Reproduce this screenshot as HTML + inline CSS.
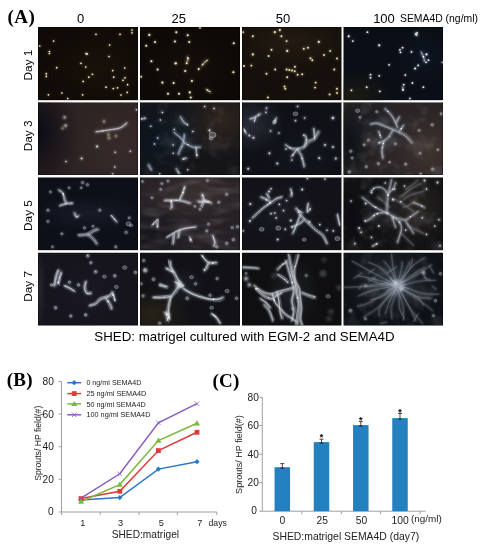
<!DOCTYPE html>
<html><head><meta charset="utf-8"><title>SEMA4D figure</title>
<style>html,body{margin:0;padding:0;background:#fff;} body{width:482px;height:550px;position:relative;overflow:hidden;}</style>
</head><body>
<svg width="482" height="550" viewBox="0 0 482 550" style="position:absolute;left:0;top:0">
<defs><filter id="bl1" x="-50%" y="-50%" width="200%" height="200%"><feGaussianBlur stdDeviation="0.9"/></filter><filter id="bl0" x="-50%" y="-50%" width="200%" height="200%"><feGaussianBlur stdDeviation="0.4"/></filter><filter id="tex1" x="0" y="0" width="100%" height="100%"><feTurbulence type="fractalNoise" baseFrequency="0.035 0.11" numOctaves="2" seed="4"/><feColorMatrix type="matrix" values="0 0 0 0 0.75  0 0 0 0 0.72  0 0 0 0 0.72  0 0 0 1.6 -0.75"/></filter><filter id="tex2" x="0" y="0" width="100%" height="100%"><feTurbulence type="fractalNoise" baseFrequency="0.06 0.06" numOctaves="3" seed="11"/><feColorMatrix type="matrix" values="0 0 0 0 0.72  0 0 0 0 0.74  0 0 0 0 0.78  0 0 0 1.7 -0.8"/></filter><filter id="bl2" x="-50%" y="-50%" width="200%" height="200%"><feGaussianBlur stdDeviation="2.5"/></filter></defs>
<g transform="translate(38,27)">
<clipPath id="cp00"><rect x="0" y="0" width="100" height="73.2"/></clipPath>
<g clip-path="url(#cp00)">
<rect x="0" y="0" width="100" height="73.2" fill="#100b07"/>
<radialGradient id="gp000"><stop offset="0" stop-color="#20170d" stop-opacity="0.5"/><stop offset="1" stop-color="#20170d" stop-opacity="0"/></radialGradient>
<ellipse cx="60" cy="40" rx="50" ry="40" fill="url(#gp000)"/>
<circle cx="58" cy="7.3" r="1.23" fill="#faeab4" fill-opacity="0.32" filter="url(#bl1)"/>
<circle cx="58" cy="7.3" r="0.85" fill="#faeab4" fill-opacity="1.00"/>
<circle cx="82" cy="7.3" r="1.23" fill="#faeab4" fill-opacity="0.32" filter="url(#bl1)"/>
<circle cx="82" cy="7.3" r="0.85" fill="#faeab4" fill-opacity="1.00"/>
<circle cx="94" cy="3" r="1.23" fill="#faeab4" fill-opacity="0.32" filter="url(#bl1)"/>
<circle cx="94" cy="3" r="0.85" fill="#faeab4" fill-opacity="1.00"/>
<circle cx="94" cy="5.8" r="1.23" fill="#faeab4" fill-opacity="0.32" filter="url(#bl1)"/>
<circle cx="94" cy="5.8" r="0.85" fill="#faeab4" fill-opacity="1.00"/>
<circle cx="15.6" cy="14" r="1.23" fill="#faeab4" fill-opacity="0.32" filter="url(#bl1)"/>
<circle cx="15.6" cy="14" r="0.85" fill="#faeab4" fill-opacity="1.00"/>
<circle cx="1.7" cy="19" r="1.23" fill="#faeab4" fill-opacity="0.32" filter="url(#bl1)"/>
<circle cx="1.7" cy="19" r="0.85" fill="#faeab4" fill-opacity="1.00"/>
<circle cx="71.6" cy="18" r="1.23" fill="#faeab4" fill-opacity="0.32" filter="url(#bl1)"/>
<circle cx="71.6" cy="18" r="0.85" fill="#faeab4" fill-opacity="1.00"/>
<circle cx="11.4" cy="24.5" r="1.23" fill="#faeab4" fill-opacity="0.32" filter="url(#bl1)"/>
<circle cx="11.4" cy="24.5" r="0.85" fill="#faeab4" fill-opacity="1.00"/>
<circle cx="11.4" cy="26.5" r="1.23" fill="#faeab4" fill-opacity="0.32" filter="url(#bl1)"/>
<circle cx="11.4" cy="26.5" r="0.85" fill="#faeab4" fill-opacity="1.00"/>
<circle cx="49" cy="27" r="1.43" fill="#faeab4" fill-opacity="0.32" filter="url(#bl1)"/>
<circle cx="49" cy="27" r="0.99" fill="#faeab4" fill-opacity="1.00"/>
<circle cx="48" cy="26.5" r="1.23" fill="#faeab4" fill-opacity="0.32" filter="url(#bl1)"/>
<circle cx="48" cy="26.5" r="0.85" fill="#faeab4" fill-opacity="1.00"/>
<circle cx="71" cy="29.5" r="1.23" fill="#faeab4" fill-opacity="0.32" filter="url(#bl1)"/>
<circle cx="71" cy="29.5" r="0.85" fill="#faeab4" fill-opacity="1.00"/>
<circle cx="43" cy="36.3" r="1.23" fill="#faeab4" fill-opacity="0.32" filter="url(#bl1)"/>
<circle cx="43" cy="36.3" r="0.85" fill="#faeab4" fill-opacity="1.00"/>
<circle cx="47.7" cy="40" r="1.23" fill="#faeab4" fill-opacity="0.32" filter="url(#bl1)"/>
<circle cx="47.7" cy="40" r="0.85" fill="#faeab4" fill-opacity="1.00"/>
<circle cx="18.7" cy="40.7" r="1.23" fill="#faeab4" fill-opacity="0.32" filter="url(#bl1)"/>
<circle cx="18.7" cy="40.7" r="0.85" fill="#faeab4" fill-opacity="1.00"/>
<circle cx="86.7" cy="41" r="1.23" fill="#faeab4" fill-opacity="0.32" filter="url(#bl1)"/>
<circle cx="86.7" cy="41" r="0.85" fill="#faeab4" fill-opacity="1.00"/>
<circle cx="74.7" cy="43.6" r="1.23" fill="#faeab4" fill-opacity="0.32" filter="url(#bl1)"/>
<circle cx="74.7" cy="43.6" r="0.85" fill="#faeab4" fill-opacity="1.00"/>
<circle cx="8.3" cy="46.7" r="1.23" fill="#faeab4" fill-opacity="0.32" filter="url(#bl1)"/>
<circle cx="8.3" cy="46.7" r="0.85" fill="#faeab4" fill-opacity="1.00"/>
<circle cx="8.3" cy="49.4" r="1.23" fill="#faeab4" fill-opacity="0.32" filter="url(#bl1)"/>
<circle cx="8.3" cy="49.4" r="0.85" fill="#faeab4" fill-opacity="1.00"/>
<circle cx="54.4" cy="47.3" r="1.23" fill="#faeab4" fill-opacity="0.32" filter="url(#bl1)"/>
<circle cx="54.4" cy="47.3" r="0.85" fill="#faeab4" fill-opacity="1.00"/>
<circle cx="50.8" cy="50.2" r="1.23" fill="#faeab4" fill-opacity="0.32" filter="url(#bl1)"/>
<circle cx="50.8" cy="50.2" r="0.85" fill="#faeab4" fill-opacity="1.00"/>
<circle cx="75.7" cy="50.2" r="1.23" fill="#faeab4" fill-opacity="0.32" filter="url(#bl1)"/>
<circle cx="75.7" cy="50.2" r="0.85" fill="#faeab4" fill-opacity="1.00"/>
<circle cx="87" cy="50.8" r="1.23" fill="#faeab4" fill-opacity="0.32" filter="url(#bl1)"/>
<circle cx="87" cy="50.8" r="0.85" fill="#faeab4" fill-opacity="1.00"/>
<circle cx="85" cy="53.3" r="1.23" fill="#faeab4" fill-opacity="0.32" filter="url(#bl1)"/>
<circle cx="85" cy="53.3" r="0.85" fill="#faeab4" fill-opacity="1.00"/>
<circle cx="45.2" cy="54.4" r="1.23" fill="#faeab4" fill-opacity="0.32" filter="url(#bl1)"/>
<circle cx="45.2" cy="54.4" r="0.85" fill="#faeab4" fill-opacity="1.00"/>
<circle cx="89.6" cy="57.7" r="1.23" fill="#faeab4" fill-opacity="0.32" filter="url(#bl1)"/>
<circle cx="89.6" cy="57.7" r="0.85" fill="#faeab4" fill-opacity="1.00"/>
<circle cx="68" cy="60.2" r="1.23" fill="#faeab4" fill-opacity="0.32" filter="url(#bl1)"/>
<circle cx="68" cy="60.2" r="0.85" fill="#faeab4" fill-opacity="1.00"/>
<circle cx="75.3" cy="61.6" r="1.23" fill="#faeab4" fill-opacity="0.32" filter="url(#bl1)"/>
<circle cx="75.3" cy="61.6" r="0.85" fill="#faeab4" fill-opacity="1.00"/>
<circle cx="79.5" cy="60.8" r="1.23" fill="#faeab4" fill-opacity="0.32" filter="url(#bl1)"/>
<circle cx="79.5" cy="60.8" r="0.85" fill="#faeab4" fill-opacity="1.00"/>
<circle cx="89.2" cy="65.4" r="1.23" fill="#faeab4" fill-opacity="0.32" filter="url(#bl1)"/>
<circle cx="89.2" cy="65.4" r="0.85" fill="#faeab4" fill-opacity="1.00"/>
<circle cx="10.4" cy="67.8" r="1.23" fill="#faeab4" fill-opacity="0.32" filter="url(#bl1)"/>
<circle cx="10.4" cy="67.8" r="0.85" fill="#faeab4" fill-opacity="1.00"/>
<circle cx="23.9" cy="66" r="1.23" fill="#faeab4" fill-opacity="0.32" filter="url(#bl1)"/>
<circle cx="23.9" cy="66" r="0.85" fill="#faeab4" fill-opacity="1.00"/>
<circle cx="44.6" cy="67.8" r="1.23" fill="#faeab4" fill-opacity="0.32" filter="url(#bl1)"/>
<circle cx="44.6" cy="67.8" r="0.85" fill="#faeab4" fill-opacity="1.00"/>
<circle cx="83" cy="68" r="1.23" fill="#faeab4" fill-opacity="0.32" filter="url(#bl1)"/>
<circle cx="83" cy="68" r="0.85" fill="#faeab4" fill-opacity="1.00"/>
<circle cx="29.7" cy="71.6" r="1.23" fill="#faeab4" fill-opacity="0.32" filter="url(#bl1)"/>
<circle cx="29.7" cy="71.6" r="0.85" fill="#faeab4" fill-opacity="1.00"/>
</g>
<rect x="0.25" y="0.25" width="99.5" height="72.7" fill="none" stroke="#000" stroke-opacity="0.6" stroke-width="0.5"/>
</g>
<g transform="translate(140,27)">
<clipPath id="cp01"><rect x="0" y="0" width="100" height="73.2"/></clipPath>
<g clip-path="url(#cp01)">
<rect x="0" y="0" width="100" height="73.2" fill="#0c0906"/>
<radialGradient id="gp010"><stop offset="0" stop-color="#1a130c" stop-opacity="0.6"/><stop offset="1" stop-color="#1a130c" stop-opacity="0"/></radialGradient>
<ellipse cx="50" cy="40" rx="50" ry="40" fill="url(#gp010)"/>
<path d="M62.2,38.4 C62.6,38.0 63.4,36.6 64.3,35.7 C65.2,34.8 66.9,33.6 67.4,33.2 M66.5,62.5 C66.8,62.7 67.8,63.5 68.5,63.9 C69.2,64.3 70.2,64.8 70.5,65.0 M47.5,30.0 C47.6,30.2 48.1,30.4 48.1,31.1 C48.1,31.8 47.4,33.5 47.2,34.0" fill="none" stroke="#efdcb0" stroke-opacity="0.35" stroke-width="2.86" stroke-linecap="round" stroke-linejoin="round" filter="url(#bl1)"/>
<path d="M61.7,38.9 C62.0,38.4 62.8,37.1 63.6,36.3 C64.5,35.5 66.3,34.4 66.8,34.0 M66.0,61.6 C66.3,61.8 67.3,62.3 67.9,62.7 C68.6,63.2 69.4,64.0 69.7,64.3 M47.3,30.5 C47.3,30.7 47.4,31.2 47.3,31.9 C47.3,32.6 47.0,34.3 47.0,34.7" fill="none" stroke="#efdcb0" stroke-opacity="0.45" stroke-width="0.50" stroke-linecap="round" stroke-linejoin="round"/>
<path d="M61.4,38.1 C61.8,37.7 62.9,36.4 63.8,35.6 C64.6,34.7 66.2,33.3 66.7,32.9 M65.9,62.1 C66.3,62.4 67.5,63.4 68.2,63.9 C68.9,64.3 69.8,64.6 70.1,64.7 M48.1,30.5 C48.3,30.8 49.1,31.2 49.1,31.9 C49.2,32.6 48.5,34.1 48.4,34.6" fill="none" stroke="#efdcb0" stroke-opacity="0.45" stroke-width="0.50" stroke-linecap="round" stroke-linejoin="round"/>
<path d="M62.2,38.4 C62.6,38.0 63.4,36.6 64.3,35.7 C65.2,34.8 66.9,33.6 67.4,33.2 M66.5,62.5 C66.8,62.7 67.8,63.5 68.5,63.9 C69.2,64.3 70.2,64.8 70.5,65.0 M47.5,30.0 C47.6,30.2 48.1,30.4 48.1,31.1 C48.1,31.8 47.4,33.5 47.2,34.0" fill="none" stroke="#efdcb0" stroke-opacity="0.7" stroke-width="0.61" stroke-linecap="round" stroke-linejoin="round"/>
<g fill="#ffffff" fill-opacity="0.85"><circle cx="62.8" cy="37.6" r="0.74"/><circle cx="66.9" cy="33.6" r="0.70"/><circle cx="67.5" cy="63.2" r="0.80"/><circle cx="69.3" cy="64.4" r="0.57"/><circle cx="48.0" cy="31.4" r="0.77"/><circle cx="48.0" cy="30.9" r="0.71"/></g>
<circle cx="9.3" cy="7.9" r="1.56" fill="#f8e8c4" fill-opacity="0.40" filter="url(#bl1)"/>
<circle cx="9.3" cy="7.9" r="1.08" fill="#f8e8c4" fill-opacity="1.00"/>
<circle cx="36.3" cy="5.2" r="1.49" fill="#f8e8c4" fill-opacity="0.40" filter="url(#bl1)"/>
<circle cx="36.3" cy="5.2" r="1.03" fill="#f8e8c4" fill-opacity="1.00"/>
<circle cx="47.7" cy="8.3" r="1.49" fill="#f8e8c4" fill-opacity="0.40" filter="url(#bl1)"/>
<circle cx="47.7" cy="8.3" r="1.03" fill="#f8e8c4" fill-opacity="1.00"/>
<circle cx="34.9" cy="14.5" r="1.49" fill="#f8e8c4" fill-opacity="0.40" filter="url(#bl1)"/>
<circle cx="34.9" cy="14.5" r="1.03" fill="#f8e8c4" fill-opacity="1.00"/>
<circle cx="15" cy="15" r="1.56" fill="#f8e8c4" fill-opacity="0.40" filter="url(#bl1)"/>
<circle cx="15" cy="15" r="1.08" fill="#f8e8c4" fill-opacity="1.00"/>
<circle cx="49.2" cy="15" r="1.49" fill="#f8e8c4" fill-opacity="0.40" filter="url(#bl1)"/>
<circle cx="49.2" cy="15" r="1.03" fill="#f8e8c4" fill-opacity="1.00"/>
<circle cx="6.2" cy="18.7" r="1.49" fill="#f8e8c4" fill-opacity="0.40" filter="url(#bl1)"/>
<circle cx="6.2" cy="18.7" r="1.03" fill="#f8e8c4" fill-opacity="1.00"/>
<circle cx="93.8" cy="16.2" r="1.49" fill="#f8e8c4" fill-opacity="0.40" filter="url(#bl1)"/>
<circle cx="93.8" cy="16.2" r="1.03" fill="#f8e8c4" fill-opacity="1.00"/>
<circle cx="11.4" cy="34.2" r="1.49" fill="#f8e8c4" fill-opacity="0.40" filter="url(#bl1)"/>
<circle cx="11.4" cy="34.2" r="1.03" fill="#f8e8c4" fill-opacity="1.00"/>
<circle cx="35.7" cy="36.3" r="1.69" fill="#f8e8c4" fill-opacity="0.40" filter="url(#bl1)"/>
<circle cx="35.7" cy="36.3" r="1.17" fill="#f8e8c4" fill-opacity="1.00"/>
<circle cx="46.7" cy="36.3" r="1.49" fill="#f8e8c4" fill-opacity="0.40" filter="url(#bl1)"/>
<circle cx="46.7" cy="36.3" r="1.03" fill="#f8e8c4" fill-opacity="1.00"/>
<circle cx="17.6" cy="42.5" r="1.49" fill="#f8e8c4" fill-opacity="0.40" filter="url(#bl1)"/>
<circle cx="17.6" cy="42.5" r="1.03" fill="#f8e8c4" fill-opacity="1.00"/>
<circle cx="45.2" cy="44" r="1.49" fill="#f8e8c4" fill-opacity="0.40" filter="url(#bl1)"/>
<circle cx="45.2" cy="44" r="1.03" fill="#f8e8c4" fill-opacity="1.00"/>
<circle cx="58.7" cy="42.1" r="1.49" fill="#f8e8c4" fill-opacity="0.40" filter="url(#bl1)"/>
<circle cx="58.7" cy="42.1" r="1.03" fill="#f8e8c4" fill-opacity="1.00"/>
<circle cx="93.4" cy="45.2" r="1.49" fill="#f8e8c4" fill-opacity="0.40" filter="url(#bl1)"/>
<circle cx="93.4" cy="45.2" r="1.03" fill="#f8e8c4" fill-opacity="1.00"/>
<circle cx="1" cy="49.8" r="1.49" fill="#f8e8c4" fill-opacity="0.40" filter="url(#bl1)"/>
<circle cx="1" cy="49.8" r="1.03" fill="#f8e8c4" fill-opacity="1.00"/>
<circle cx="22.4" cy="55.6" r="1.56" fill="#f8e8c4" fill-opacity="0.40" filter="url(#bl1)"/>
<circle cx="22.4" cy="55.6" r="1.08" fill="#f8e8c4" fill-opacity="1.00"/>
<circle cx="33.6" cy="56" r="1.49" fill="#f8e8c4" fill-opacity="0.40" filter="url(#bl1)"/>
<circle cx="33.6" cy="56" r="1.03" fill="#f8e8c4" fill-opacity="1.00"/>
<circle cx="51.9" cy="54" r="1.49" fill="#f8e8c4" fill-opacity="0.40" filter="url(#bl1)"/>
<circle cx="51.9" cy="54" r="1.03" fill="#f8e8c4" fill-opacity="1.00"/>
<circle cx="28" cy="66.8" r="1.49" fill="#f8e8c4" fill-opacity="0.40" filter="url(#bl1)"/>
<circle cx="28" cy="66.8" r="1.03" fill="#f8e8c4" fill-opacity="1.00"/>
<circle cx="39" cy="66.8" r="1.49" fill="#f8e8c4" fill-opacity="0.40" filter="url(#bl1)"/>
<circle cx="39" cy="66.8" r="1.03" fill="#f8e8c4" fill-opacity="1.00"/>
<circle cx="49.8" cy="65.4" r="1.56" fill="#f8e8c4" fill-opacity="0.40" filter="url(#bl1)"/>
<circle cx="49.8" cy="65.4" r="1.08" fill="#f8e8c4" fill-opacity="1.00"/>
<circle cx="50.8" cy="70.5" r="1.49" fill="#f8e8c4" fill-opacity="0.40" filter="url(#bl1)"/>
<circle cx="50.8" cy="70.5" r="1.03" fill="#f8e8c4" fill-opacity="1.00"/>
<circle cx="60" cy="0.6" r="1.49" fill="#f8e8c4" fill-opacity="0.40" filter="url(#bl1)"/>
<circle cx="60" cy="0.6" r="1.03" fill="#f8e8c4" fill-opacity="1.00"/>
</g>
<rect x="0.25" y="0.25" width="99.5" height="72.7" fill="none" stroke="#000" stroke-opacity="0.6" stroke-width="0.5"/>
</g>
<g transform="translate(242,27)">
<clipPath id="cp02"><rect x="0" y="0" width="99.5" height="73.2"/></clipPath>
<g clip-path="url(#cp02)">
<rect x="0" y="0" width="99.5" height="73.2" fill="#15100b"/>
<radialGradient id="gp020"><stop offset="0" stop-color="#2a2016" stop-opacity="0.7"/><stop offset="1" stop-color="#2a2016" stop-opacity="0"/></radialGradient>
<ellipse cx="50" cy="15" rx="60" ry="28" fill="url(#gp020)"/>
<radialGradient id="gp021"><stop offset="0" stop-color="#120d09" stop-opacity="0.6"/><stop offset="1" stop-color="#120d09" stop-opacity="0"/></radialGradient>
<ellipse cx="30" cy="60" rx="40" ry="20" fill="url(#gp021)"/>
<circle cx="1" cy="5.2" r="1.37" fill="#f6e0b4" fill-opacity="0.40" filter="url(#bl1)"/>
<circle cx="1" cy="5.2" r="0.95" fill="#f6e0b4" fill-opacity="1.00"/>
<circle cx="10.8" cy="9.3" r="1.37" fill="#f6e0b4" fill-opacity="0.40" filter="url(#bl1)"/>
<circle cx="10.8" cy="9.3" r="0.95" fill="#f6e0b4" fill-opacity="1.00"/>
<circle cx="32.8" cy="5.2" r="1.56" fill="#f6e0b4" fill-opacity="0.40" filter="url(#bl1)"/>
<circle cx="32.8" cy="5.2" r="1.08" fill="#f6e0b4" fill-opacity="1.00"/>
<circle cx="37.8" cy="3.1" r="1.56" fill="#f6e0b4" fill-opacity="0.40" filter="url(#bl1)"/>
<circle cx="37.8" cy="3.1" r="1.08" fill="#f6e0b4" fill-opacity="1.00"/>
<circle cx="39.4" cy="9.3" r="1.37" fill="#f6e0b4" fill-opacity="0.40" filter="url(#bl1)"/>
<circle cx="39.4" cy="9.3" r="0.95" fill="#f6e0b4" fill-opacity="1.00"/>
<circle cx="44.6" cy="14.1" r="1.37" fill="#f6e0b4" fill-opacity="0.40" filter="url(#bl1)"/>
<circle cx="44.6" cy="14.1" r="0.95" fill="#f6e0b4" fill-opacity="1.00"/>
<circle cx="76.8" cy="14.9" r="1.56" fill="#f6e0b4" fill-opacity="0.40" filter="url(#bl1)"/>
<circle cx="76.8" cy="14.9" r="1.08" fill="#f6e0b4" fill-opacity="1.00"/>
<circle cx="61.8" cy="21.8" r="1.37" fill="#f6e0b4" fill-opacity="0.40" filter="url(#bl1)"/>
<circle cx="61.8" cy="21.8" r="0.95" fill="#f6e0b4" fill-opacity="1.00"/>
<circle cx="66" cy="20.7" r="1.37" fill="#f6e0b4" fill-opacity="0.40" filter="url(#bl1)"/>
<circle cx="66" cy="20.7" r="0.95" fill="#f6e0b4" fill-opacity="1.00"/>
<circle cx="45.2" cy="23.9" r="1.56" fill="#f6e0b4" fill-opacity="0.40" filter="url(#bl1)"/>
<circle cx="45.2" cy="23.9" r="1.08" fill="#f6e0b4" fill-opacity="1.00"/>
<circle cx="29.5" cy="22.8" r="1.37" fill="#f6e0b4" fill-opacity="0.40" filter="url(#bl1)"/>
<circle cx="29.5" cy="22.8" r="0.95" fill="#f6e0b4" fill-opacity="1.00"/>
<circle cx="10.8" cy="27.4" r="1.56" fill="#f6e0b4" fill-opacity="0.40" filter="url(#bl1)"/>
<circle cx="10.8" cy="27.4" r="1.08" fill="#f6e0b4" fill-opacity="1.00"/>
<circle cx="26.6" cy="29" r="1.37" fill="#f6e0b4" fill-opacity="0.40" filter="url(#bl1)"/>
<circle cx="26.6" cy="29" r="0.95" fill="#f6e0b4" fill-opacity="1.00"/>
<circle cx="82" cy="28" r="1.37" fill="#f6e0b4" fill-opacity="0.40" filter="url(#bl1)"/>
<circle cx="82" cy="28" r="0.95" fill="#f6e0b4" fill-opacity="1.00"/>
<circle cx="88.2" cy="23.9" r="1.37" fill="#f6e0b4" fill-opacity="0.40" filter="url(#bl1)"/>
<circle cx="88.2" cy="23.9" r="0.95" fill="#f6e0b4" fill-opacity="1.00"/>
<circle cx="95" cy="31.5" r="1.37" fill="#f6e0b4" fill-opacity="0.40" filter="url(#bl1)"/>
<circle cx="95" cy="31.5" r="0.95" fill="#f6e0b4" fill-opacity="1.00"/>
<circle cx="2" cy="39" r="1.37" fill="#f6e0b4" fill-opacity="0.40" filter="url(#bl1)"/>
<circle cx="2" cy="39" r="0.95" fill="#f6e0b4" fill-opacity="1.00"/>
<circle cx="9.3" cy="38.6" r="1.37" fill="#f6e0b4" fill-opacity="0.40" filter="url(#bl1)"/>
<circle cx="9.3" cy="38.6" r="0.95" fill="#f6e0b4" fill-opacity="1.00"/>
<circle cx="33.2" cy="42.5" r="1.37" fill="#f6e0b4" fill-opacity="0.40" filter="url(#bl1)"/>
<circle cx="33.2" cy="42.5" r="0.95" fill="#f6e0b4" fill-opacity="1.00"/>
<circle cx="52.9" cy="39.8" r="1.37" fill="#f6e0b4" fill-opacity="0.40" filter="url(#bl1)"/>
<circle cx="52.9" cy="39.8" r="0.95" fill="#f6e0b4" fill-opacity="1.00"/>
<circle cx="60.2" cy="47.3" r="1.37" fill="#f6e0b4" fill-opacity="0.40" filter="url(#bl1)"/>
<circle cx="60.2" cy="47.3" r="0.95" fill="#f6e0b4" fill-opacity="1.00"/>
<circle cx="55.6" cy="47.7" r="1.37" fill="#f6e0b4" fill-opacity="0.40" filter="url(#bl1)"/>
<circle cx="55.6" cy="47.7" r="0.95" fill="#f6e0b4" fill-opacity="1.00"/>
<circle cx="24.5" cy="46.7" r="1.37" fill="#f6e0b4" fill-opacity="0.40" filter="url(#bl1)"/>
<circle cx="24.5" cy="46.7" r="0.95" fill="#f6e0b4" fill-opacity="1.00"/>
<circle cx="45.2" cy="50.2" r="1.37" fill="#f6e0b4" fill-opacity="0.40" filter="url(#bl1)"/>
<circle cx="45.2" cy="50.2" r="0.95" fill="#f6e0b4" fill-opacity="1.00"/>
<circle cx="92.3" cy="42.5" r="1.37" fill="#f6e0b4" fill-opacity="0.40" filter="url(#bl1)"/>
<circle cx="92.3" cy="42.5" r="0.95" fill="#f6e0b4" fill-opacity="1.00"/>
<circle cx="44.6" cy="42.5" r="1.43" fill="#f6e0b4" fill-opacity="0.40" filter="url(#bl1)"/>
<circle cx="44.6" cy="42.5" r="0.99" fill="#f6e0b4" fill-opacity="1.00"/>
<circle cx="47.3" cy="43" r="1.43" fill="#f6e0b4" fill-opacity="0.40" filter="url(#bl1)"/>
<circle cx="47.3" cy="43" r="0.99" fill="#f6e0b4" fill-opacity="1.00"/>
<circle cx="50" cy="43.6" r="1.43" fill="#f6e0b4" fill-opacity="0.40" filter="url(#bl1)"/>
<circle cx="50" cy="43.6" r="0.99" fill="#f6e0b4" fill-opacity="1.00"/>
<circle cx="52.7" cy="44.2" r="1.37" fill="#f6e0b4" fill-opacity="0.40" filter="url(#bl1)"/>
<circle cx="52.7" cy="44.2" r="0.95" fill="#f6e0b4" fill-opacity="1.00"/>
<circle cx="68.5" cy="31.2" r="1.37" fill="#f6e0b4" fill-opacity="0.40" filter="url(#bl1)"/>
<circle cx="68.5" cy="31.2" r="0.95" fill="#f6e0b4" fill-opacity="1.00"/>
<circle cx="70.3" cy="33.2" r="1.37" fill="#f6e0b4" fill-opacity="0.40" filter="url(#bl1)"/>
<circle cx="70.3" cy="33.2" r="0.95" fill="#f6e0b4" fill-opacity="1.00"/>
<circle cx="42.5" cy="59.5" r="1.37" fill="#f6e0b4" fill-opacity="0.40" filter="url(#bl1)"/>
<circle cx="42.5" cy="59.5" r="0.95" fill="#f6e0b4" fill-opacity="1.00"/>
<circle cx="43.3" cy="61.8" r="1.37" fill="#f6e0b4" fill-opacity="0.40" filter="url(#bl1)"/>
<circle cx="43.3" cy="61.8" r="0.95" fill="#f6e0b4" fill-opacity="1.00"/>
<circle cx="73.7" cy="55.6" r="1.37" fill="#f6e0b4" fill-opacity="0.40" filter="url(#bl1)"/>
<circle cx="73.7" cy="55.6" r="0.95" fill="#f6e0b4" fill-opacity="1.00"/>
<circle cx="73" cy="60.6" r="1.37" fill="#f6e0b4" fill-opacity="0.40" filter="url(#bl1)"/>
<circle cx="73" cy="60.6" r="0.95" fill="#f6e0b4" fill-opacity="1.00"/>
<circle cx="95" cy="61.8" r="1.37" fill="#f6e0b4" fill-opacity="0.40" filter="url(#bl1)"/>
<circle cx="95" cy="61.8" r="0.95" fill="#f6e0b4" fill-opacity="1.00"/>
<circle cx="95" cy="66" r="1.37" fill="#f6e0b4" fill-opacity="0.40" filter="url(#bl1)"/>
<circle cx="95" cy="66" r="0.95" fill="#f6e0b4" fill-opacity="1.00"/>
<circle cx="87.6" cy="67.4" r="1.37" fill="#f6e0b4" fill-opacity="0.40" filter="url(#bl1)"/>
<circle cx="87.6" cy="67.4" r="0.95" fill="#f6e0b4" fill-opacity="1.00"/>
<circle cx="25.9" cy="70.5" r="1.37" fill="#f6e0b4" fill-opacity="0.40" filter="url(#bl1)"/>
<circle cx="25.9" cy="70.5" r="0.95" fill="#f6e0b4" fill-opacity="1.00"/>
</g>
<rect x="0.25" y="0.25" width="99.0" height="72.7" fill="none" stroke="#000" stroke-opacity="0.6" stroke-width="0.5"/>
</g>
<g transform="translate(343.5,27)">
<clipPath id="cp03"><rect x="0" y="0" width="99.5" height="73.2"/></clipPath>
<g clip-path="url(#cp03)">
<rect x="0" y="0" width="99.5" height="73.2" fill="#0a0e16"/>
<radialGradient id="gp030"><stop offset="0" stop-color="#232110" stop-opacity="0.7"/><stop offset="1" stop-color="#232110" stop-opacity="0"/></radialGradient>
<ellipse cx="10" cy="68" rx="40" ry="25" fill="url(#gp030)"/>
<radialGradient id="gp031"><stop offset="0" stop-color="#0e1628" stop-opacity="0.6"/><stop offset="1" stop-color="#0e1628" stop-opacity="0"/></radialGradient>
<ellipse cx="80" cy="30" rx="30" ry="30" fill="url(#gp031)"/>
<path d="M77.8,24.9 C78.0,25.4 78.5,27.0 79.0,28.0 C79.5,29.0 80.2,30.0 80.5,31.0 C80.8,32.0 80.8,33.7 80.9,34.2 M59.1,60.0 L59.5,63.5 M72.0,6.5 L73.5,8.5" fill="none" stroke="#dfe8f0" stroke-opacity="0.4" stroke-width="2.34" stroke-linecap="round" stroke-linejoin="round" filter="url(#bl1)"/>
<path d="M77.2,25.0 C77.5,25.5 78.2,26.8 78.6,27.8 C79.0,28.8 79.4,30.2 79.7,31.3 C80.0,32.3 80.2,33.6 80.3,34.1 M60.2,59.9 L60.5,63.2 M72.3,7.3 L73.9,8.9" fill="none" stroke="#dfe8f0" stroke-opacity="0.45" stroke-width="0.41" stroke-linecap="round" stroke-linejoin="round"/>
<path d="M78.1,24.8 C78.4,25.3 79.2,27.0 79.7,28.1 C80.2,29.3 80.8,30.3 81.1,31.4 C81.4,32.5 81.4,34.1 81.5,34.6 M58.9,60.8 L59.5,63.8 M71.6,6.0 L72.9,7.9" fill="none" stroke="#dfe8f0" stroke-opacity="0.45" stroke-width="0.41" stroke-linecap="round" stroke-linejoin="round"/>
<path d="M77.8,24.9 C78.0,25.4 78.5,27.0 79.0,28.0 C79.5,29.0 80.2,30.0 80.5,31.0 C80.8,32.0 80.8,33.7 80.9,34.2 M59.1,60.0 L59.5,63.5 M72.0,6.5 L73.5,8.5" fill="none" stroke="#dfe8f0" stroke-opacity="0.75" stroke-width="0.50" stroke-linecap="round" stroke-linejoin="round"/>
<g fill="#ffffff" fill-opacity="0.85"><circle cx="79.9" cy="29.7" r="0.71"/><circle cx="79.9" cy="29.8" r="0.86"/><circle cx="59.4" cy="63.0" r="0.90"/><circle cx="59.4" cy="62.4" r="0.63"/><circle cx="73.1" cy="7.9" r="0.58"/><circle cx="72.4" cy="7.1" r="0.53"/></g>
<circle cx="23.9" cy="5.2" r="1.30" fill="#e8f0f6" fill-opacity="0.40" filter="url(#bl1)"/>
<circle cx="23.9" cy="5.2" r="0.90" fill="#e8f0f6" fill-opacity="1.00"/>
<circle cx="5.2" cy="9.3" r="1.56" fill="#e8f0f6" fill-opacity="0.40" filter="url(#bl1)"/>
<circle cx="5.2" cy="9.3" r="1.08" fill="#e8f0f6" fill-opacity="1.00"/>
<circle cx="9.3" cy="14.1" r="1.30" fill="#e8f0f6" fill-opacity="0.40" filter="url(#bl1)"/>
<circle cx="9.3" cy="14.1" r="0.90" fill="#e8f0f6" fill-opacity="1.00"/>
<circle cx="72.6" cy="7.3" r="1.56" fill="#e8f0f6" fill-opacity="0.40" filter="url(#bl1)"/>
<circle cx="72.6" cy="7.3" r="1.08" fill="#e8f0f6" fill-opacity="1.00"/>
<circle cx="73.6" cy="5.8" r="1.30" fill="#e8f0f6" fill-opacity="0.40" filter="url(#bl1)"/>
<circle cx="73.6" cy="5.8" r="0.90" fill="#e8f0f6" fill-opacity="1.00"/>
<circle cx="35.7" cy="18.3" r="1.56" fill="#e8f0f6" fill-opacity="0.40" filter="url(#bl1)"/>
<circle cx="35.7" cy="18.3" r="1.08" fill="#e8f0f6" fill-opacity="1.00"/>
<circle cx="59.1" cy="20.7" r="1.30" fill="#e8f0f6" fill-opacity="0.40" filter="url(#bl1)"/>
<circle cx="59.1" cy="20.7" r="0.90" fill="#e8f0f6" fill-opacity="1.00"/>
<circle cx="56.4" cy="22.8" r="1.30" fill="#e8f0f6" fill-opacity="0.40" filter="url(#bl1)"/>
<circle cx="56.4" cy="22.8" r="0.90" fill="#e8f0f6" fill-opacity="1.00"/>
<circle cx="57" cy="25.3" r="1.30" fill="#e8f0f6" fill-opacity="0.40" filter="url(#bl1)"/>
<circle cx="57" cy="25.3" r="0.90" fill="#e8f0f6" fill-opacity="1.00"/>
<circle cx="68" cy="24.9" r="1.30" fill="#e8f0f6" fill-opacity="0.40" filter="url(#bl1)"/>
<circle cx="68" cy="24.9" r="0.90" fill="#e8f0f6" fill-opacity="1.00"/>
<circle cx="83" cy="27.4" r="1.56" fill="#e8f0f6" fill-opacity="0.40" filter="url(#bl1)"/>
<circle cx="83" cy="27.4" r="1.08" fill="#e8f0f6" fill-opacity="1.00"/>
<circle cx="85" cy="33.2" r="1.30" fill="#e8f0f6" fill-opacity="0.40" filter="url(#bl1)"/>
<circle cx="85" cy="33.2" r="0.90" fill="#e8f0f6" fill-opacity="1.00"/>
<circle cx="82.6" cy="35.3" r="1.30" fill="#e8f0f6" fill-opacity="0.40" filter="url(#bl1)"/>
<circle cx="82.6" cy="35.3" r="0.90" fill="#e8f0f6" fill-opacity="1.00"/>
<circle cx="45.6" cy="37.8" r="1.30" fill="#e8f0f6" fill-opacity="0.40" filter="url(#bl1)"/>
<circle cx="45.6" cy="37.8" r="0.90" fill="#e8f0f6" fill-opacity="1.00"/>
<circle cx="74.7" cy="38.4" r="1.30" fill="#e8f0f6" fill-opacity="0.40" filter="url(#bl1)"/>
<circle cx="74.7" cy="38.4" r="0.90" fill="#e8f0f6" fill-opacity="1.00"/>
<circle cx="71.6" cy="41.5" r="1.56" fill="#e8f0f6" fill-opacity="0.40" filter="url(#bl1)"/>
<circle cx="71.6" cy="41.5" r="1.08" fill="#e8f0f6" fill-opacity="1.00"/>
<circle cx="99" cy="35.3" r="1.30" fill="#e8f0f6" fill-opacity="0.40" filter="url(#bl1)"/>
<circle cx="99" cy="35.3" r="0.90" fill="#e8f0f6" fill-opacity="1.00"/>
<circle cx="27" cy="47.7" r="1.30" fill="#e8f0f6" fill-opacity="0.40" filter="url(#bl1)"/>
<circle cx="27" cy="47.7" r="0.90" fill="#e8f0f6" fill-opacity="1.00"/>
<circle cx="27" cy="50.8" r="1.30" fill="#e8f0f6" fill-opacity="0.40" filter="url(#bl1)"/>
<circle cx="27" cy="50.8" r="0.90" fill="#e8f0f6" fill-opacity="1.00"/>
<circle cx="35.7" cy="48.8" r="1.30" fill="#e8f0f6" fill-opacity="0.40" filter="url(#bl1)"/>
<circle cx="35.7" cy="48.8" r="0.90" fill="#e8f0f6" fill-opacity="1.00"/>
<circle cx="61.8" cy="48.1" r="1.30" fill="#e8f0f6" fill-opacity="0.40" filter="url(#bl1)"/>
<circle cx="61.8" cy="48.1" r="0.90" fill="#e8f0f6" fill-opacity="1.00"/>
<circle cx="60.2" cy="57.7" r="1.30" fill="#e8f0f6" fill-opacity="0.40" filter="url(#bl1)"/>
<circle cx="60.2" cy="57.7" r="0.90" fill="#e8f0f6" fill-opacity="1.00"/>
<circle cx="68.9" cy="56" r="1.30" fill="#e8f0f6" fill-opacity="0.40" filter="url(#bl1)"/>
<circle cx="68.9" cy="56" r="0.90" fill="#e8f0f6" fill-opacity="1.00"/>
<circle cx="79.9" cy="60.2" r="1.30" fill="#e8f0f6" fill-opacity="0.40" filter="url(#bl1)"/>
<circle cx="79.9" cy="60.2" r="0.90" fill="#e8f0f6" fill-opacity="1.00"/>
<circle cx="7.9" cy="63.3" r="1.30" fill="#e8f0f6" fill-opacity="0.40" filter="url(#bl1)"/>
<circle cx="7.9" cy="63.3" r="0.90" fill="#e8f0f6" fill-opacity="1.00"/>
<circle cx="23.2" cy="60.2" r="1.30" fill="#e8f0f6" fill-opacity="0.40" filter="url(#bl1)"/>
<circle cx="23.2" cy="60.2" r="0.90" fill="#e8f0f6" fill-opacity="1.00"/>
<circle cx="36.3" cy="64.3" r="1.30" fill="#e8f0f6" fill-opacity="0.40" filter="url(#bl1)"/>
<circle cx="36.3" cy="64.3" r="0.90" fill="#e8f0f6" fill-opacity="1.00"/>
<circle cx="66.4" cy="71.6" r="1.30" fill="#e8f0f6" fill-opacity="0.40" filter="url(#bl1)"/>
<circle cx="66.4" cy="71.6" r="0.90" fill="#e8f0f6" fill-opacity="1.00"/>
</g>
<rect x="0.25" y="0.25" width="99.0" height="72.7" fill="none" stroke="#000" stroke-opacity="0.6" stroke-width="0.5"/>
</g>
<g transform="translate(38,102.4)">
<clipPath id="cp10"><rect x="0" y="0" width="100" height="72.6"/></clipPath>
<g clip-path="url(#cp10)">
<rect x="0" y="0" width="100" height="72.6" fill="#2f2424"/>
<radialGradient id="gp100"><stop offset="0" stop-color="#3a2c2c" stop-opacity="0.7"/><stop offset="1" stop-color="#3a2c2c" stop-opacity="0"/></radialGradient>
<ellipse cx="85" cy="45" rx="50" ry="50" fill="url(#gp100)"/>
<radialGradient id="gp101"><stop offset="0" stop-color="#0b0b14" stop-opacity="1.0"/><stop offset="1" stop-color="#0b0b14" stop-opacity="0"/></radialGradient>
<ellipse cx="0" cy="30" rx="42" ry="65" fill="url(#gp101)"/>
<circle cx="26.6" cy="14.9" r="1.9" fill="#b8a890" fill-opacity="0.8" filter="url(#bl1)"/>
<circle cx="26.6" cy="14.9" r="0.85" fill="#dbd3c7" fill-opacity="0.48"/>
<circle cx="27.6" cy="23.2" r="1.9" fill="#c8bca8" fill-opacity="0.8" filter="url(#bl1)"/>
<circle cx="27.6" cy="23.2" r="0.85" fill="#e3ddd3" fill-opacity="0.48"/>
<circle cx="24.5" cy="25.9" r="1.7" fill="#a89880" fill-opacity="0.7" filter="url(#bl1)"/>
<circle cx="24.5" cy="25.9" r="0.77" fill="#d3cbbf" fill-opacity="0.42"/>
<circle cx="66" cy="19.1" r="1.8" fill="#b8a890" fill-opacity="0.7" filter="url(#bl1)"/>
<circle cx="66" cy="19.1" r="0.81" fill="#dbd3c7" fill-opacity="0.42"/>
<circle cx="70.5" cy="32.2" r="1.8" fill="#a89880" fill-opacity="0.7" filter="url(#bl1)"/>
<circle cx="70.5" cy="32.2" r="0.81" fill="#d3cbbf" fill-opacity="0.42"/>
<circle cx="71" cy="35.7" r="1.8" fill="#b8a890" fill-opacity="0.7" filter="url(#bl1)"/>
<circle cx="71" cy="35.7" r="0.81" fill="#dbd3c7" fill-opacity="0.42"/>
<circle cx="77.8" cy="33.6" r="1.8" fill="#a89880" fill-opacity="0.7" filter="url(#bl1)"/>
<circle cx="77.8" cy="33.6" r="0.81" fill="#d3cbbf" fill-opacity="0.42"/>
<path d="M58.0,29.5 C58.8,29.4 61.2,29.1 63.0,28.8 C64.8,28.6 66.5,28.3 68.5,28.0 C70.5,27.7 72.9,27.3 75.0,27.0 C77.1,26.7 79.3,26.5 81.0,26.0 C82.7,25.5 83.7,24.9 85.0,24.0 C86.3,23.1 88.2,21.2 88.8,20.7" fill="none" stroke="#e8eef6" stroke-opacity="0.4" stroke-width="2.86" stroke-linecap="round" stroke-linejoin="round" filter="url(#bl1)"/>
<path d="M58.2,29.2 C59.0,29.1 61.6,29.1 63.3,28.9 C65.1,28.6 66.8,28.0 68.7,27.7 C70.7,27.3 73.1,27.0 75.1,26.8 C77.2,26.5 79.3,26.7 81.0,26.2 C82.7,25.6 84.1,24.5 85.4,23.6 C86.8,22.7 88.5,21.1 89.2,20.6" fill="none" stroke="#e8eef6" stroke-opacity="0.45" stroke-width="0.50" stroke-linecap="round" stroke-linejoin="round"/>
<path d="M57.9,29.1 C58.7,29.0 61.2,28.7 62.9,28.5 C64.6,28.3 66.0,28.0 68.1,27.8 C70.1,27.5 73.0,27.3 75.1,26.9 C77.2,26.5 79.3,25.9 80.9,25.3 C82.4,24.7 83.1,24.2 84.5,23.4 C85.8,22.5 88.1,20.7 88.9,20.2" fill="none" stroke="#e8eef6" stroke-opacity="0.45" stroke-width="0.50" stroke-linecap="round" stroke-linejoin="round"/>
<path d="M58.0,29.5 C58.8,29.4 61.2,29.1 63.0,28.8 C64.8,28.6 66.5,28.3 68.5,28.0 C70.5,27.7 72.9,27.3 75.0,27.0 C77.1,26.7 79.3,26.5 81.0,26.0 C82.7,25.5 83.7,24.9 85.0,24.0 C86.3,23.1 88.2,21.2 88.8,20.7" fill="none" stroke="#e8eef6" stroke-opacity="0.75" stroke-width="0.61" stroke-linecap="round" stroke-linejoin="round"/>
<g fill="#ffffff" fill-opacity="0.85"><circle cx="64.7" cy="28.5" r="0.72"/></g>
<circle cx="98.5" cy="7.3" r="1.30" fill="#e4e6f0" fill-opacity="0.50" filter="url(#bl1)"/>
<circle cx="98.5" cy="7.3" r="0.75" fill="#e4e6f0" fill-opacity="0.90"/>
<circle cx="59.1" cy="44" r="1.69" fill="#e4e6f0" fill-opacity="0.50" filter="url(#bl1)"/>
<circle cx="59.1" cy="44" r="0.98" fill="#e4e6f0" fill-opacity="0.90"/>
<circle cx="77.2" cy="49.8" r="1.30" fill="#e4e6f0" fill-opacity="0.50" filter="url(#bl1)"/>
<circle cx="77.2" cy="49.8" r="0.75" fill="#e4e6f0" fill-opacity="0.90"/>
<circle cx="92.3" cy="48.8" r="1.30" fill="#e4e6f0" fill-opacity="0.50" filter="url(#bl1)"/>
<circle cx="92.3" cy="48.8" r="0.75" fill="#e4e6f0" fill-opacity="0.90"/>
<circle cx="43.6" cy="56" r="1.56" fill="#e4e6f0" fill-opacity="0.50" filter="url(#bl1)"/>
<circle cx="43.6" cy="56" r="0.90" fill="#e4e6f0" fill-opacity="0.90"/>
<circle cx="28" cy="59.1" r="1.30" fill="#e4e6f0" fill-opacity="0.50" filter="url(#bl1)"/>
<circle cx="28" cy="59.1" r="0.75" fill="#e4e6f0" fill-opacity="0.90"/>
<circle cx="76.8" cy="64.7" r="1.30" fill="#e4e6f0" fill-opacity="0.50" filter="url(#bl1)"/>
<circle cx="76.8" cy="64.7" r="0.75" fill="#e4e6f0" fill-opacity="0.90"/>
<circle cx="74.7" cy="71.6" r="1.30" fill="#e4e6f0" fill-opacity="0.50" filter="url(#bl1)"/>
<circle cx="74.7" cy="71.6" r="0.75" fill="#e4e6f0" fill-opacity="0.90"/>
</g>
<rect x="0.25" y="0.25" width="99.5" height="72.1" fill="none" stroke="#000" stroke-opacity="0.6" stroke-width="0.5"/>
</g>
<g transform="translate(140,102.4)">
<clipPath id="cp11"><rect x="0" y="0" width="100" height="72.6"/></clipPath>
<g clip-path="url(#cp11)">
<rect x="0" y="0" width="100" height="72.6" fill="#151518"/>
<radialGradient id="gp110"><stop offset="0" stop-color="#33271f" stop-opacity="0.85"/><stop offset="1" stop-color="#33271f" stop-opacity="0"/></radialGradient>
<ellipse cx="82" cy="18" rx="42" ry="38" fill="url(#gp110)"/>
<radialGradient id="gp111"><stop offset="0" stop-color="#0b1522" stop-opacity="0.9"/><stop offset="1" stop-color="#0b1522" stop-opacity="0"/></radialGradient>
<ellipse cx="15" cy="38" rx="38" ry="48" fill="url(#gp111)"/>
<radialGradient id="gp112"><stop offset="0" stop-color="#1c2634" stop-opacity="0.5"/><stop offset="1" stop-color="#1c2634" stop-opacity="0"/></radialGradient>
<ellipse cx="42" cy="32" rx="25" ry="30" fill="url(#gp112)"/>
<rect x="0" y="0" width="100" height="72.6" filter="url(#tex2)" opacity="0.15"/>
<path d="M40.5,14.5 C40.8,15.1 41.8,17.0 42.5,18.0 C43.2,19.0 43.7,20.0 44.6,20.7 C45.5,21.4 47.2,22.1 47.7,22.4 M34.2,30.0 C34.7,30.4 36.0,31.6 37.0,32.5 C38.0,33.4 39.2,34.0 40.5,35.3 C41.8,36.6 43.9,39.6 44.6,40.5 M44.6,32.2 C44.4,33.6 44.2,38.2 43.6,40.5 C43.0,42.8 41.9,44.1 41.0,46.0 C40.1,47.9 38.8,50.9 38.4,51.9 M44.6,40.5 C45.2,40.8 47.1,41.8 48.5,42.5 C49.9,43.2 50.9,44.2 52.9,44.6 C54.9,45.0 59.0,44.6 60.2,44.6 M56.0,44.6 L57.0,54.0 M1.0,16.6 L5.2,15.6 M8.3,62.2 L11.4,67.4 M36.3,66.4 L39.4,71.6 M42.5,57.0 L46.7,56.0" fill="none" stroke="#b8c8dc" stroke-opacity="0.45" stroke-width="2.86" stroke-linecap="round" stroke-linejoin="round" filter="url(#bl1)"/>
<path d="M40.7,14.6 C41.0,15.2 41.8,17.2 42.4,18.2 C43.0,19.3 43.3,20.1 44.2,20.9 C45.1,21.6 47.1,22.5 47.7,22.8 M32.9,29.8 C33.4,30.1 35.0,30.7 36.2,31.6 C37.4,32.5 38.7,33.8 39.9,35.2 C41.2,36.6 43.1,39.3 43.8,40.1 M43.8,30.7 C43.6,32.1 43.2,36.8 42.5,39.1 C41.8,41.5 40.6,42.8 39.8,44.8 C39.0,46.8 37.9,50.0 37.5,51.0 M44.6,41.0 C45.3,41.3 47.1,41.9 48.5,42.7 C50.0,43.4 51.4,44.9 53.4,45.4 C55.4,45.8 59.3,45.2 60.5,45.1 M55.4,43.6 L56.8,53.3 M2.2,16.6 L5.6,15.1 M9.7,62.0 L12.0,67.4 M36.6,65.7 L40.5,71.3 M41.2,56.0 L46.0,55.1" fill="none" stroke="#b8c8dc" stroke-opacity="0.45" stroke-width="0.50" stroke-linecap="round" stroke-linejoin="round"/>
<path d="M40.4,14.6 C40.7,15.1 41.7,17.0 42.3,18.0 C43.0,19.0 43.5,19.8 44.4,20.5 C45.3,21.2 47.1,21.8 47.6,22.1 M35.2,31.1 C35.6,31.4 36.8,32.3 37.9,33.1 C39.0,34.0 40.7,34.7 41.9,36.1 C43.2,37.6 44.8,40.7 45.4,41.6 M44.1,31.5 C43.9,32.8 43.4,37.2 42.7,39.6 C42.0,41.9 40.8,43.5 40.0,45.5 C39.1,47.5 37.9,50.4 37.5,51.4 M44.7,40.4 C45.3,40.8 47.0,42.1 48.3,42.7 C49.5,43.3 50.3,43.9 52.3,44.2 C54.3,44.5 58.9,44.7 60.2,44.8 M55.6,44.2 L56.1,53.6 M1.9,16.5 L5.7,16.2 M7.5,63.0 L10.9,67.7 M35.2,66.7 L38.7,72.4 M43.1,56.2 L46.6,55.3" fill="none" stroke="#b8c8dc" stroke-opacity="0.45" stroke-width="0.50" stroke-linecap="round" stroke-linejoin="round"/>
<path d="M40.1,13.3 C40.5,13.9 41.7,15.5 42.4,16.6 C43.1,17.7 43.4,19.2 44.4,20.0 C45.3,20.8 47.4,21.2 48.0,21.5 M34.4,29.8 C34.8,30.4 35.9,32.0 37.1,33.0 C38.2,34.1 39.9,34.6 41.1,35.9 C42.4,37.2 44.1,40.0 44.7,40.8 M44.4,33.2 C44.2,34.5 43.7,38.8 43.2,41.1 C42.7,43.4 41.9,45.0 41.2,46.9 C40.4,48.8 39.0,51.7 38.6,52.6 M45.2,41.7 C45.9,42.0 48.1,43.1 49.5,43.8 C50.9,44.5 51.6,45.5 53.5,45.8 C55.5,46.1 59.9,45.7 61.2,45.7 M56.4,44.4 L56.9,53.8 M2.4,17.4 L6.6,16.6 M7.8,63.2 L10.9,68.3 M36.4,65.8 L39.5,71.3 M41.7,56.0 L45.9,54.5" fill="none" stroke="#b8c8dc" stroke-opacity="0.45" stroke-width="0.50" stroke-linecap="round" stroke-linejoin="round"/>
<path d="M40.5,14.5 C40.8,15.1 41.8,17.0 42.5,18.0 C43.2,19.0 43.7,20.0 44.6,20.7 C45.5,21.4 47.2,22.1 47.7,22.4 M34.2,30.0 C34.7,30.4 36.0,31.6 37.0,32.5 C38.0,33.4 39.2,34.0 40.5,35.3 C41.8,36.6 43.9,39.6 44.6,40.5 M44.6,32.2 C44.4,33.6 44.2,38.2 43.6,40.5 C43.0,42.8 41.9,44.1 41.0,46.0 C40.1,47.9 38.8,50.9 38.4,51.9 M44.6,40.5 C45.2,40.8 47.1,41.8 48.5,42.5 C49.9,43.2 50.9,44.2 52.9,44.6 C54.9,45.0 59.0,44.6 60.2,44.6 M56.0,44.6 L57.0,54.0 M1.0,16.6 L5.2,15.6 M8.3,62.2 L11.4,67.4 M36.3,66.4 L39.4,71.6 M42.5,57.0 L46.7,56.0" fill="none" stroke="#b8c8dc" stroke-opacity="0.75" stroke-width="0.61" stroke-linecap="round" stroke-linejoin="round"/>
<g fill="#ffffff" fill-opacity="0.85"><circle cx="47.5" cy="22.3" r="0.70"/><circle cx="41.9" cy="44.2" r="0.58"/><circle cx="48.0" cy="42.3" r="0.65"/><circle cx="56.2" cy="46.6" r="0.55"/><circle cx="56.8" cy="52.5" r="0.84"/><circle cx="5.0" cy="15.6" r="0.61"/><circle cx="1.5" cy="16.5" r="0.69"/><circle cx="38.2" cy="69.7" r="0.70"/><circle cx="43.8" cy="56.7" r="0.83"/></g>
<circle cx="22.4" cy="10" r="1.30" fill="#dde6f0" fill-opacity="0.50" filter="url(#bl1)"/>
<circle cx="22.4" cy="10" r="0.75" fill="#dde6f0" fill-opacity="0.90"/>
<circle cx="20.3" cy="17.6" r="1.30" fill="#dde6f0" fill-opacity="0.50" filter="url(#bl1)"/>
<circle cx="20.3" cy="17.6" r="0.75" fill="#dde6f0" fill-opacity="0.90"/>
<circle cx="10.8" cy="23.9" r="1.30" fill="#dde6f0" fill-opacity="0.50" filter="url(#bl1)"/>
<circle cx="10.8" cy="23.9" r="0.75" fill="#dde6f0" fill-opacity="0.90"/>
<circle cx="34.2" cy="27" r="1.30" fill="#dde6f0" fill-opacity="0.50" filter="url(#bl1)"/>
<circle cx="34.2" cy="27" r="0.75" fill="#dde6f0" fill-opacity="0.90"/>
<circle cx="64.7" cy="4.1" r="1.30" fill="#dde6f0" fill-opacity="0.50" filter="url(#bl1)"/>
<circle cx="64.7" cy="4.1" r="0.75" fill="#dde6f0" fill-opacity="0.90"/>
<circle cx="74" cy="6.2" r="1.30" fill="#dde6f0" fill-opacity="0.50" filter="url(#bl1)"/>
<circle cx="74" cy="6.2" r="0.75" fill="#dde6f0" fill-opacity="0.90"/>
<circle cx="17.6" cy="35.7" r="1.30" fill="#dde6f0" fill-opacity="0.50" filter="url(#bl1)"/>
<circle cx="17.6" cy="35.7" r="0.75" fill="#dde6f0" fill-opacity="0.90"/>
<circle cx="14.5" cy="41.5" r="1.30" fill="#dde6f0" fill-opacity="0.50" filter="url(#bl1)"/>
<circle cx="14.5" cy="41.5" r="0.75" fill="#dde6f0" fill-opacity="0.90"/>
<circle cx="33.2" cy="42.5" r="1.30" fill="#dde6f0" fill-opacity="0.50" filter="url(#bl1)"/>
<circle cx="33.2" cy="42.5" r="0.75" fill="#dde6f0" fill-opacity="0.90"/>
<circle cx="33.2" cy="50.8" r="1.30" fill="#dde6f0" fill-opacity="0.50" filter="url(#bl1)"/>
<circle cx="33.2" cy="50.8" r="0.75" fill="#dde6f0" fill-opacity="0.90"/>
<circle cx="47.7" cy="67.4" r="1.30" fill="#dde6f0" fill-opacity="0.50" filter="url(#bl1)"/>
<circle cx="47.7" cy="67.4" r="0.75" fill="#dde6f0" fill-opacity="0.90"/>
<circle cx="52.9" cy="29" r="1.30" fill="#dde6f0" fill-opacity="0.50" filter="url(#bl1)"/>
<circle cx="52.9" cy="29" r="0.75" fill="#dde6f0" fill-opacity="0.90"/>
<circle cx="19.7" cy="71.6" r="1.30" fill="#dde6f0" fill-opacity="0.50" filter="url(#bl1)"/>
<circle cx="19.7" cy="71.6" r="0.75" fill="#dde6f0" fill-opacity="0.90"/>
<circle cx="69.5" cy="28" r="1.69" fill="#dde6f0" fill-opacity="0.50" filter="url(#bl1)"/>
<circle cx="69.5" cy="28" r="0.98" fill="#dde6f0" fill-opacity="0.90"/>
<ellipse cx="72.5" cy="32.5" rx="3.5" ry="2.80" fill="#dde6f0" fill-opacity="0.28" stroke="#dde6f0" stroke-opacity="0.6" stroke-width="0.6" filter="url(#bl0)"/>
<ellipse cx="71" cy="36" rx="2" ry="1.60" fill="#dde6f0" fill-opacity="0.28" stroke="#dde6f0" stroke-opacity="0.6" stroke-width="0.6" filter="url(#bl0)"/>
</g>
<rect x="0.25" y="0.25" width="99.5" height="72.1" fill="none" stroke="#000" stroke-opacity="0.6" stroke-width="0.5"/>
</g>
<g transform="translate(242,102.4)">
<clipPath id="cp12"><rect x="0" y="0" width="99.5" height="72.6"/></clipPath>
<g clip-path="url(#cp12)">
<rect x="0" y="0" width="99.5" height="72.6" fill="#0f1117"/>
<radialGradient id="gp120"><stop offset="0" stop-color="#2e323e" stop-opacity="0.8"/><stop offset="1" stop-color="#2e323e" stop-opacity="0"/></radialGradient>
<ellipse cx="8" cy="22" rx="35" ry="30" fill="url(#gp120)"/>
<radialGradient id="gp121"><stop offset="0" stop-color="#161922" stop-opacity="0.6"/><stop offset="1" stop-color="#161922" stop-opacity="0"/></radialGradient>
<ellipse cx="60" cy="50" rx="40" ry="30" fill="url(#gp121)"/>
<path d="M8.3,16.6 C9.2,16.2 11.8,15.4 13.5,14.5 C15.2,13.6 17.5,11.9 18.3,11.4 M13.5,14.5 L12.4,18.7 M34.2,15.6 L32.2,20.7 M2.0,27.0 L4.0,31.0 M43.6,42.5 C44.5,43.1 46.9,45.3 48.8,46.0 C50.7,46.7 52.8,46.9 55.0,46.7 C57.2,46.5 60.3,45.8 62.2,44.6 C64.1,43.4 64.7,40.8 66.4,39.4 C68.1,38.0 70.9,38.0 72.6,36.3 C74.3,34.6 76.1,30.2 76.8,29.0 M55.0,46.7 C55.7,47.7 58.1,50.6 59.1,52.9 C60.1,55.1 60.7,58.3 61.2,60.2 C61.7,62.1 62.0,63.6 62.2,64.3 M55.0,46.7 L49.8,54.0 M72.6,36.3 L71.6,25.9 M62.2,44.6 C62.6,43.4 64.1,39.2 64.3,37.3 C64.5,35.4 63.5,33.9 63.3,33.2" fill="none" stroke="#dfe8f4" stroke-opacity="0.4" stroke-width="2.86" stroke-linecap="round" stroke-linejoin="round" filter="url(#bl1)"/>
<path d="M8.4,16.7 C9.2,16.4 11.4,15.5 13.0,14.8 C14.6,14.0 17.2,12.5 18.0,12.0 M14.0,14.9 L12.6,18.9 M33.0,16.8 L31.0,21.8 M1.9,26.4 L3.2,31.1 M44.0,41.9 C44.8,42.4 46.7,44.3 48.5,45.0 C50.3,45.6 52.4,45.8 54.7,45.6 C57.0,45.3 60.3,44.6 62.3,43.3 C64.3,42.1 64.9,39.3 66.6,38.0 C68.3,36.7 70.7,37.3 72.3,35.6 C74.0,33.9 76.0,29.2 76.7,28.0 M55.1,46.2 C55.9,47.4 58.4,50.9 59.5,53.2 C60.6,55.6 61.4,58.5 61.8,60.3 C62.3,62.1 62.2,63.5 62.3,64.1 M55.1,46.9 L50.1,54.4 M72.9,36.6 L72.3,25.9 M61.4,44.7 C61.7,43.4 63.1,39.1 63.3,37.2 C63.5,35.3 62.5,33.9 62.4,33.2" fill="none" stroke="#dfe8f4" stroke-opacity="0.45" stroke-width="0.50" stroke-linecap="round" stroke-linejoin="round"/>
<path d="M7.1,16.2 C7.9,15.8 10.4,14.8 12.0,13.9 C13.7,13.0 16.1,11.2 16.9,10.7 M13.4,16.0 L12.1,20.2 M34.1,15.2 L31.5,19.8 M2.4,26.2 L4.3,30.7 M44.8,43.3 C45.6,44.0 47.9,46.7 49.8,47.4 C51.8,48.2 54.2,48.3 56.4,48.0 C58.7,47.7 61.3,47.0 63.1,45.8 C65.0,44.6 65.8,42.0 67.5,40.7 C69.3,39.4 71.8,39.7 73.6,37.9 C75.4,36.1 77.5,31.2 78.3,29.9 M54.3,48.0 C55.0,49.0 57.5,51.8 58.6,54.0 C59.7,56.1 60.4,59.0 60.9,60.9 C61.4,62.7 61.4,64.3 61.5,65.0 M55.1,47.5 L50.2,54.2 M72.5,37.6 L71.8,27.4 M62.9,44.7 C63.3,43.5 65.0,39.1 65.2,37.2 C65.3,35.2 64.0,33.6 63.8,32.9" fill="none" stroke="#dfe8f4" stroke-opacity="0.45" stroke-width="0.50" stroke-linecap="round" stroke-linejoin="round"/>
<path d="M8.5,16.9 C9.5,16.6 12.6,15.7 14.4,14.9 C16.2,14.1 18.4,12.4 19.2,11.9 M13.5,14.9 L12.4,19.2 M35.3,16.2 L32.9,21.2 M2.3,26.7 L4.3,30.9 M42.6,41.7 C43.5,42.3 46.2,44.5 48.2,45.2 C50.1,45.8 52.4,45.9 54.5,45.6 C56.6,45.3 59.1,44.8 60.9,43.6 C62.8,42.4 63.7,39.6 65.5,38.1 C67.3,36.7 70.2,36.9 71.9,35.2 C73.6,33.5 75.1,29.1 75.7,27.9 M55.9,45.3 C56.6,46.4 58.9,49.3 59.9,51.7 C60.9,54.0 61.5,57.4 62.0,59.4 C62.6,61.3 63.1,62.6 63.3,63.3 M54.3,46.9 L48.8,53.9 M73.2,37.1 L72.7,26.6 M63.0,45.0 C63.3,43.8 64.7,39.5 64.9,37.6 C65.0,35.6 64.1,34.1 63.9,33.4" fill="none" stroke="#dfe8f4" stroke-opacity="0.45" stroke-width="0.50" stroke-linecap="round" stroke-linejoin="round"/>
<path d="M8.3,16.6 C9.2,16.2 11.8,15.4 13.5,14.5 C15.2,13.6 17.5,11.9 18.3,11.4 M13.5,14.5 L12.4,18.7 M34.2,15.6 L32.2,20.7 M2.0,27.0 L4.0,31.0 M43.6,42.5 C44.5,43.1 46.9,45.3 48.8,46.0 C50.7,46.7 52.8,46.9 55.0,46.7 C57.2,46.5 60.3,45.8 62.2,44.6 C64.1,43.4 64.7,40.8 66.4,39.4 C68.1,38.0 70.9,38.0 72.6,36.3 C74.3,34.6 76.1,30.2 76.8,29.0 M55.0,46.7 C55.7,47.7 58.1,50.6 59.1,52.9 C60.1,55.1 60.7,58.3 61.2,60.2 C61.7,62.1 62.0,63.6 62.2,64.3 M55.0,46.7 L49.8,54.0 M72.6,36.3 L71.6,25.9 M62.2,44.6 C62.6,43.4 64.1,39.2 64.3,37.3 C64.5,35.4 63.5,33.9 63.3,33.2" fill="none" stroke="#dfe8f4" stroke-opacity="0.75" stroke-width="0.61" stroke-linecap="round" stroke-linejoin="round"/>
<g fill="#ffffff" fill-opacity="0.85"><circle cx="16.5" cy="12.5" r="0.57"/><circle cx="12.6" cy="17.9" r="0.55"/><circle cx="33.3" cy="17.8" r="0.65"/><circle cx="2.8" cy="28.6" r="0.85"/><circle cx="56.1" cy="46.4" r="0.60"/><circle cx="48.0" cy="45.4" r="0.74"/><circle cx="60.0" cy="56.0" r="0.76"/><circle cx="51.0" cy="52.3" r="0.70"/><circle cx="72.4" cy="34.5" r="0.58"/><circle cx="64.2" cy="37.5" r="0.71"/></g>
<circle cx="24.5" cy="5.8" r="1.43" fill="#d8e0ec" fill-opacity="0.50" filter="url(#bl1)"/>
<circle cx="24.5" cy="5.8" r="0.83" fill="#d8e0ec" fill-opacity="0.80"/>
<circle cx="23.9" cy="10" r="1.43" fill="#d8e0ec" fill-opacity="0.50" filter="url(#bl1)"/>
<circle cx="23.9" cy="10" r="0.83" fill="#d8e0ec" fill-opacity="0.80"/>
<circle cx="55.6" cy="4.1" r="1.43" fill="#d8e0ec" fill-opacity="0.50" filter="url(#bl1)"/>
<circle cx="55.6" cy="4.1" r="0.83" fill="#d8e0ec" fill-opacity="0.80"/>
<circle cx="53.5" cy="18.3" r="1.43" fill="#d8e0ec" fill-opacity="0.50" filter="url(#bl1)"/>
<circle cx="53.5" cy="18.3" r="0.83" fill="#d8e0ec" fill-opacity="0.80"/>
<circle cx="62.7" cy="15.6" r="1.43" fill="#d8e0ec" fill-opacity="0.50" filter="url(#bl1)"/>
<circle cx="62.7" cy="15.6" r="0.83" fill="#d8e0ec" fill-opacity="0.80"/>
<circle cx="90.9" cy="15.6" r="2.08" fill="#d8e0ec" fill-opacity="0.50" filter="url(#bl1)"/>
<circle cx="90.9" cy="15.6" r="1.20" fill="#d8e0ec" fill-opacity="0.80"/>
<circle cx="28.6" cy="28.6" r="1.43" fill="#d8e0ec" fill-opacity="0.50" filter="url(#bl1)"/>
<circle cx="28.6" cy="28.6" r="0.83" fill="#d8e0ec" fill-opacity="0.80"/>
<circle cx="36.9" cy="30.7" r="1.43" fill="#d8e0ec" fill-opacity="0.50" filter="url(#bl1)"/>
<circle cx="36.9" cy="30.7" r="0.83" fill="#d8e0ec" fill-opacity="0.80"/>
<circle cx="7.3" cy="33.2" r="1.69" fill="#d8e0ec" fill-opacity="0.50" filter="url(#bl1)"/>
<circle cx="7.3" cy="33.2" r="0.98" fill="#d8e0ec" fill-opacity="0.80"/>
<circle cx="11.4" cy="35.3" r="1.69" fill="#d8e0ec" fill-opacity="0.50" filter="url(#bl1)"/>
<circle cx="11.4" cy="35.3" r="0.98" fill="#d8e0ec" fill-opacity="0.80"/>
<circle cx="61.8" cy="32.8" r="1.43" fill="#d8e0ec" fill-opacity="0.50" filter="url(#bl1)"/>
<circle cx="61.8" cy="32.8" r="0.83" fill="#d8e0ec" fill-opacity="0.80"/>
<circle cx="83" cy="42.5" r="1.69" fill="#d8e0ec" fill-opacity="0.50" filter="url(#bl1)"/>
<circle cx="83" cy="42.5" r="0.98" fill="#d8e0ec" fill-opacity="0.80"/>
<circle cx="90.9" cy="44.6" r="1.69" fill="#d8e0ec" fill-opacity="0.50" filter="url(#bl1)"/>
<circle cx="90.9" cy="44.6" r="0.98" fill="#d8e0ec" fill-opacity="0.80"/>
<circle cx="27.4" cy="50.8" r="1.69" fill="#d8e0ec" fill-opacity="0.50" filter="url(#bl1)"/>
<circle cx="27.4" cy="50.8" r="0.98" fill="#d8e0ec" fill-opacity="0.80"/>
<circle cx="44" cy="46.7" r="1.43" fill="#d8e0ec" fill-opacity="0.50" filter="url(#bl1)"/>
<circle cx="44" cy="46.7" r="0.83" fill="#d8e0ec" fill-opacity="0.80"/>
<circle cx="49.8" cy="57.7" r="1.43" fill="#d8e0ec" fill-opacity="0.50" filter="url(#bl1)"/>
<circle cx="49.8" cy="57.7" r="0.83" fill="#d8e0ec" fill-opacity="0.80"/>
<circle cx="77.2" cy="55.6" r="1.69" fill="#d8e0ec" fill-opacity="0.50" filter="url(#bl1)"/>
<circle cx="77.2" cy="55.6" r="0.98" fill="#d8e0ec" fill-opacity="0.80"/>
<circle cx="93.8" cy="56" r="1.69" fill="#d8e0ec" fill-opacity="0.50" filter="url(#bl1)"/>
<circle cx="93.8" cy="56" r="0.98" fill="#d8e0ec" fill-opacity="0.80"/>
<circle cx="35.3" cy="61.2" r="1.69" fill="#d8e0ec" fill-opacity="0.50" filter="url(#bl1)"/>
<circle cx="35.3" cy="61.2" r="0.98" fill="#d8e0ec" fill-opacity="0.80"/>
<circle cx="6.2" cy="66.4" r="1.69" fill="#d8e0ec" fill-opacity="0.50" filter="url(#bl1)"/>
<circle cx="6.2" cy="66.4" r="0.98" fill="#d8e0ec" fill-opacity="0.80"/>
<ellipse cx="53.5" cy="11.4" rx="2.4" ry="1.92" fill="#d8e0ec" fill-opacity="0.28" stroke="#d8e0ec" stroke-opacity="0.6" stroke-width="0.6" filter="url(#bl0)"/>
<ellipse cx="32.5" cy="19.5" rx="2" ry="1.60" fill="#d8e0ec" fill-opacity="0.28" stroke="#d8e0ec" stroke-opacity="0.6" stroke-width="0.6" filter="url(#bl0)"/>
</g>
<rect x="0.25" y="0.25" width="99.0" height="72.1" fill="none" stroke="#000" stroke-opacity="0.6" stroke-width="0.5"/>
</g>
<g transform="translate(343.5,102.4)">
<clipPath id="cp13"><rect x="0" y="0" width="99.5" height="72.6"/></clipPath>
<g clip-path="url(#cp13)">
<rect x="0" y="0" width="99.5" height="72.6" fill="#2a2426"/>
<radialGradient id="gp130"><stop offset="0" stop-color="#40342e" stop-opacity="0.9"/><stop offset="1" stop-color="#40342e" stop-opacity="0"/></radialGradient>
<ellipse cx="85" cy="50" rx="42" ry="45" fill="url(#gp130)"/>
<radialGradient id="gp131"><stop offset="0" stop-color="#0b1115" stop-opacity="0.95"/><stop offset="1" stop-color="#0b1115" stop-opacity="0"/></radialGradient>
<ellipse cx="5" cy="40" rx="28" ry="55" fill="url(#gp131)"/>
<radialGradient id="gp132"><stop offset="0" stop-color="#1a1c22" stop-opacity="0.8"/><stop offset="1" stop-color="#1a1c22" stop-opacity="0"/></radialGradient>
<ellipse cx="30" cy="15" rx="30" ry="25" fill="url(#gp132)"/>
<radialGradient id="gp133"><stop offset="0" stop-color="#34363c" stop-opacity="0.5"/><stop offset="1" stop-color="#34363c" stop-opacity="0"/></radialGradient>
<ellipse cx="45" cy="30" rx="30" ry="25" fill="url(#gp133)"/>
<rect x="0" y="0" width="99.5" height="72.6" filter="url(#tex2)" opacity="0.22"/>
<path d="M27.0,21.8 C28.0,21.6 30.8,20.4 33.2,20.7 C35.6,21.0 38.7,22.8 41.5,23.9 C44.3,24.9 47.4,26.0 49.8,27.0 C52.2,28.0 53.9,29.0 56.0,30.0 C58.1,31.0 60.1,31.5 62.2,33.2 C64.3,35.0 67.5,39.3 68.5,40.5 M49.8,27.0 C49.1,28.2 47.1,32.3 45.6,34.2 C44.1,36.1 42.2,37.4 40.5,38.4 C38.8,39.4 36.2,40.1 35.3,40.5 M40.5,38.4 C40.1,40.0 38.6,44.8 38.4,47.7 C38.2,50.6 39.2,54.6 39.4,56.0 M41.5,6.2 C42.5,7.2 46.0,10.2 47.7,12.4 C49.4,14.7 50.9,17.6 51.9,19.7 C52.9,21.8 53.6,24.0 54.0,24.9 M56.0,14.5 L52.9,20.7 M60.2,22.8 L56.0,29.0 M35.3,29.0 L37.3,35.3" fill="none" stroke="#c8d4e0" stroke-opacity="0.4" stroke-width="2.73" stroke-linecap="round" stroke-linejoin="round" filter="url(#bl1)"/>
<path d="M26.6,22.5 C27.5,22.3 30.0,20.7 32.4,20.9 C34.7,21.2 37.8,23.1 40.6,24.1 C43.5,25.1 46.9,26.1 49.4,27.1 C51.9,28.1 53.4,29.1 55.4,30.2 C57.5,31.3 59.3,31.8 61.4,33.6 C63.6,35.4 67.1,39.8 68.2,41.0 M48.3,26.8 C47.7,28.0 46.1,32.0 44.7,33.9 C43.2,35.8 41.3,37.0 39.6,38.1 C37.9,39.1 35.4,39.9 34.5,40.2 M39.9,39.5 C39.6,41.0 38.1,45.6 37.9,48.5 C37.7,51.4 38.6,55.4 38.7,56.8 M41.3,5.5 C42.4,6.6 46.0,9.4 47.7,11.6 C49.4,13.9 50.6,16.9 51.5,19.0 C52.4,21.1 53.0,23.3 53.2,24.1 M55.6,13.7 L52.6,19.9 M60.1,22.5 L56.0,28.5 M34.2,28.8 L36.9,34.9" fill="none" stroke="#c8d4e0" stroke-opacity="0.35" stroke-width="0.47" stroke-linecap="round" stroke-linejoin="round"/>
<path d="M27.1,22.5 C28.3,22.5 31.5,21.7 34.0,22.0 C36.5,22.4 39.4,23.6 42.1,24.7 C44.9,25.7 47.8,27.2 50.3,28.3 C52.7,29.5 54.8,30.3 56.8,31.3 C58.9,32.3 60.5,32.8 62.5,34.5 C64.5,36.3 67.8,40.5 68.9,41.7 M49.0,28.3 C48.3,29.5 46.0,33.5 44.5,35.4 C42.9,37.3 41.4,38.5 39.7,39.6 C38.0,40.7 35.2,41.5 34.3,41.8 M39.8,38.1 C39.5,39.5 37.9,44.1 37.7,47.0 C37.5,49.9 38.5,54.2 38.7,55.6 M41.2,6.3 C42.3,7.2 46.0,9.8 47.7,12.2 C49.4,14.5 50.6,18.1 51.6,20.2 C52.6,22.3 53.5,24.1 53.8,24.8 M55.1,14.7 L52.2,21.2 M59.0,22.8 L54.8,28.6 M35.3,28.5 L38.1,35.0" fill="none" stroke="#c8d4e0" stroke-opacity="0.35" stroke-width="0.47" stroke-linecap="round" stroke-linejoin="round"/>
<path d="M26.7,22.0 C27.7,21.9 30.4,20.7 32.7,21.0 C35.0,21.4 38.0,23.1 40.7,24.2 C43.4,25.2 46.6,26.3 49.0,27.3 C51.4,28.3 53.0,29.3 55.0,30.4 C57.1,31.4 59.1,32.2 61.3,33.9 C63.4,35.6 66.9,39.4 68.0,40.5 M50.4,26.3 C49.7,27.5 47.7,31.4 46.1,33.3 C44.6,35.1 42.7,36.3 41.1,37.4 C39.5,38.4 37.1,39.1 36.3,39.4 M41.1,37.6 C40.7,39.1 39.0,43.8 38.8,46.7 C38.6,49.7 39.8,53.8 40.1,55.3 M42.0,7.4 C43.1,8.5 46.5,11.5 48.3,13.8 C50.1,16.1 51.5,19.2 52.7,21.2 C53.8,23.2 54.6,25.0 54.9,25.8 M55.1,13.6 L51.7,20.0 M59.6,23.7 L55.8,30.1 M35.3,30.1 L37.4,36.6" fill="none" stroke="#c8d4e0" stroke-opacity="0.35" stroke-width="0.47" stroke-linecap="round" stroke-linejoin="round"/>
<path d="M27.6,20.9 C28.8,20.7 32.0,19.4 34.4,19.8 C36.9,20.2 39.6,22.4 42.3,23.4 C45.0,24.4 48.2,24.8 50.6,25.7 C53.0,26.6 54.5,27.6 56.6,28.7 C58.7,29.7 61.2,30.1 63.3,31.9 C65.5,33.8 68.6,38.6 69.6,39.9 M50.9,27.8 C50.3,29.1 48.6,33.2 47.1,35.1 C45.5,37.0 43.3,38.4 41.5,39.4 C39.7,40.4 37.1,40.8 36.2,41.1 M41.5,38.6 C41.2,40.0 39.8,44.4 39.5,47.2 C39.3,50.1 40.1,54.3 40.2,55.7 M40.9,7.5 C42.0,8.5 45.8,11.1 47.6,13.4 C49.4,15.6 50.9,18.9 51.9,21.0 C52.9,23.0 53.3,25.0 53.6,25.7 M55.9,15.2 L52.7,21.6 M59.1,23.2 L55.0,28.8 M35.8,28.5 L37.5,35.1" fill="none" stroke="#c8d4e0" stroke-opacity="0.35" stroke-width="0.47" stroke-linecap="round" stroke-linejoin="round"/>
<path d="M27.0,21.8 C28.0,21.6 30.8,20.4 33.2,20.7 C35.6,21.0 38.7,22.8 41.5,23.9 C44.3,24.9 47.4,26.0 49.8,27.0 C52.2,28.0 53.9,29.0 56.0,30.0 C58.1,31.0 60.1,31.5 62.2,33.2 C64.3,35.0 67.5,39.3 68.5,40.5 M49.8,27.0 C49.1,28.2 47.1,32.3 45.6,34.2 C44.1,36.1 42.2,37.4 40.5,38.4 C38.8,39.4 36.2,40.1 35.3,40.5 M40.5,38.4 C40.1,40.0 38.6,44.8 38.4,47.7 C38.2,50.6 39.2,54.6 39.4,56.0 M41.5,6.2 C42.5,7.2 46.0,10.2 47.7,12.4 C49.4,14.7 50.9,17.6 51.9,19.7 C52.9,21.8 53.6,24.0 54.0,24.9 M56.0,14.5 L52.9,20.7 M60.2,22.8 L56.0,29.0 M35.3,29.0 L37.3,35.3" fill="none" stroke="#c8d4e0" stroke-opacity="0.6" stroke-width="0.58" stroke-linecap="round" stroke-linejoin="round"/>
<g fill="#ffffff" fill-opacity="0.85"><circle cx="35.8" cy="40.3" r="0.78"/><circle cx="45.8" cy="33.9" r="0.51"/><circle cx="39.9" cy="41.2" r="0.75"/><circle cx="39.0" cy="45.2" r="0.67"/><circle cx="44.5" cy="9.2" r="0.74"/><circle cx="57.8" cy="26.3" r="0.86"/><circle cx="36.5" cy="32.8" r="0.71"/></g>
<circle cx="16.6" cy="14.9" r="1.54" fill="#d0d6e0" fill-opacity="0.35" filter="url(#bl1)"/>
<circle cx="16.6" cy="14.9" r="0.99" fill="none" stroke="#d0d6e0" stroke-width="0.6" stroke-opacity="0.70"/>
<circle cx="16.3" cy="14.6" r="0.39" fill="#d0d6e0" fill-opacity="0.70"/>
<circle cx="33.2" cy="9.3" r="1.54" fill="#d0d6e0" fill-opacity="0.35" filter="url(#bl1)"/>
<circle cx="33.2" cy="9.3" r="0.99" fill="none" stroke="#d0d6e0" stroke-width="0.6" stroke-opacity="0.70"/>
<circle cx="32.9" cy="9.0" r="0.39" fill="#d0d6e0" fill-opacity="0.70"/>
<circle cx="97.9" cy="11.4" r="1.82" fill="#d0d6e0" fill-opacity="0.35" filter="url(#bl1)"/>
<circle cx="97.9" cy="11.4" r="1.17" fill="none" stroke="#d0d6e0" stroke-width="0.6" stroke-opacity="0.70"/>
<circle cx="97.6" cy="11.1" r="0.45" fill="#d0d6e0" fill-opacity="0.70"/>
<circle cx="88.8" cy="22.4" r="1.82" fill="#d0d6e0" fill-opacity="0.35" filter="url(#bl1)"/>
<circle cx="88.8" cy="22.4" r="1.17" fill="none" stroke="#d0d6e0" stroke-width="0.6" stroke-opacity="0.70"/>
<circle cx="88.5" cy="22.1" r="0.45" fill="#d0d6e0" fill-opacity="0.70"/>
<circle cx="75.7" cy="28" r="1.54" fill="#d0d6e0" fill-opacity="0.35" filter="url(#bl1)"/>
<circle cx="75.7" cy="28" r="0.99" fill="none" stroke="#d0d6e0" stroke-width="0.6" stroke-opacity="0.70"/>
<circle cx="75.4" cy="27.7" r="0.39" fill="#d0d6e0" fill-opacity="0.70"/>
<circle cx="24.9" cy="37.8" r="1.54" fill="#d0d6e0" fill-opacity="0.35" filter="url(#bl1)"/>
<circle cx="24.9" cy="37.8" r="0.99" fill="none" stroke="#d0d6e0" stroke-width="0.6" stroke-opacity="0.70"/>
<circle cx="24.6" cy="37.5" r="0.39" fill="#d0d6e0" fill-opacity="0.70"/>
<circle cx="20.7" cy="42.5" r="1.54" fill="#d0d6e0" fill-opacity="0.35" filter="url(#bl1)"/>
<circle cx="20.7" cy="42.5" r="0.99" fill="none" stroke="#d0d6e0" stroke-width="0.6" stroke-opacity="0.70"/>
<circle cx="20.4" cy="42.2" r="0.39" fill="#d0d6e0" fill-opacity="0.70"/>
<circle cx="51.9" cy="41.5" r="1.54" fill="#d0d6e0" fill-opacity="0.35" filter="url(#bl1)"/>
<circle cx="51.9" cy="41.5" r="0.99" fill="none" stroke="#d0d6e0" stroke-width="0.6" stroke-opacity="0.70"/>
<circle cx="51.6" cy="41.2" r="0.39" fill="#d0d6e0" fill-opacity="0.70"/>
<circle cx="7.3" cy="48.8" r="1.82" fill="#d0d6e0" fill-opacity="0.35" filter="url(#bl1)"/>
<circle cx="7.3" cy="48.8" r="1.17" fill="none" stroke="#d0d6e0" stroke-width="0.6" stroke-opacity="0.70"/>
<circle cx="7.0" cy="48.5" r="0.45" fill="#d0d6e0" fill-opacity="0.70"/>
<circle cx="8.7" cy="55.6" r="1.54" fill="#d0d6e0" fill-opacity="0.35" filter="url(#bl1)"/>
<circle cx="8.7" cy="55.6" r="0.99" fill="none" stroke="#d0d6e0" stroke-width="0.6" stroke-opacity="0.70"/>
<circle cx="8.4" cy="55.3" r="0.39" fill="#d0d6e0" fill-opacity="0.70"/>
<circle cx="76.8" cy="50.8" r="1.54" fill="#d0d6e0" fill-opacity="0.35" filter="url(#bl1)"/>
<circle cx="76.8" cy="50.8" r="0.99" fill="none" stroke="#d0d6e0" stroke-width="0.6" stroke-opacity="0.70"/>
<circle cx="76.5" cy="50.5" r="0.39" fill="#d0d6e0" fill-opacity="0.70"/>
<circle cx="94.4" cy="47.3" r="1.54" fill="#d0d6e0" fill-opacity="0.35" filter="url(#bl1)"/>
<circle cx="94.4" cy="47.3" r="0.99" fill="none" stroke="#d0d6e0" stroke-width="0.6" stroke-opacity="0.70"/>
<circle cx="94.1" cy="47.0" r="0.39" fill="#d0d6e0" fill-opacity="0.70"/>
<circle cx="34.9" cy="61.2" r="1.82" fill="#d0d6e0" fill-opacity="0.35" filter="url(#bl1)"/>
<circle cx="34.9" cy="61.2" r="1.17" fill="none" stroke="#d0d6e0" stroke-width="0.6" stroke-opacity="0.70"/>
<circle cx="34.6" cy="60.9" r="0.45" fill="#d0d6e0" fill-opacity="0.70"/>
<circle cx="46" cy="59.8" r="1.54" fill="#d0d6e0" fill-opacity="0.35" filter="url(#bl1)"/>
<circle cx="46" cy="59.8" r="0.99" fill="none" stroke="#d0d6e0" stroke-width="0.6" stroke-opacity="0.70"/>
<circle cx="45.7" cy="59.5" r="0.39" fill="#d0d6e0" fill-opacity="0.70"/>
<circle cx="62.2" cy="61.8" r="1.82" fill="#d0d6e0" fill-opacity="0.35" filter="url(#bl1)"/>
<circle cx="62.2" cy="61.8" r="1.17" fill="none" stroke="#d0d6e0" stroke-width="0.6" stroke-opacity="0.70"/>
<circle cx="61.9" cy="61.5" r="0.45" fill="#d0d6e0" fill-opacity="0.70"/>
<circle cx="22.8" cy="64.3" r="1.82" fill="#d0d6e0" fill-opacity="0.35" filter="url(#bl1)"/>
<circle cx="22.8" cy="64.3" r="1.17" fill="none" stroke="#d0d6e0" stroke-width="0.6" stroke-opacity="0.70"/>
<circle cx="22.5" cy="64.0" r="0.45" fill="#d0d6e0" fill-opacity="0.70"/>
<circle cx="89.2" cy="66.8" r="1.82" fill="#d0d6e0" fill-opacity="0.35" filter="url(#bl1)"/>
<circle cx="89.2" cy="66.8" r="1.17" fill="none" stroke="#d0d6e0" stroke-width="0.6" stroke-opacity="0.70"/>
<circle cx="88.9" cy="66.5" r="0.45" fill="#d0d6e0" fill-opacity="0.70"/>
<circle cx="5.8" cy="69.5" r="1.82" fill="#d0d6e0" fill-opacity="0.35" filter="url(#bl1)"/>
<circle cx="5.8" cy="69.5" r="1.17" fill="none" stroke="#d0d6e0" stroke-width="0.6" stroke-opacity="0.70"/>
<circle cx="5.5" cy="69.2" r="0.45" fill="#d0d6e0" fill-opacity="0.70"/>
<circle cx="77.2" cy="71.6" r="1.54" fill="#d0d6e0" fill-opacity="0.35" filter="url(#bl1)"/>
<circle cx="77.2" cy="71.6" r="0.99" fill="none" stroke="#d0d6e0" stroke-width="0.6" stroke-opacity="0.70"/>
<circle cx="76.9" cy="71.3" r="0.39" fill="#d0d6e0" fill-opacity="0.70"/>
<ellipse cx="14.1" cy="8.3" rx="2.2" ry="1.76" fill="#d0d6e0" fill-opacity="0.28" stroke="#d0d6e0" stroke-opacity="0.6" stroke-width="0.6" filter="url(#bl0)"/>
</g>
<rect x="0.25" y="0.25" width="99.0" height="72.1" fill="none" stroke="#000" stroke-opacity="0.6" stroke-width="0.5"/>
</g>
<g transform="translate(38,177.4)">
<clipPath id="cp20"><rect x="0" y="0" width="100" height="72.8"/></clipPath>
<g clip-path="url(#cp20)">
<rect x="0" y="0" width="100" height="72.8" fill="#0d0f19"/>
<radialGradient id="gp200"><stop offset="0" stop-color="#1c1e2a" stop-opacity="0.8"/><stop offset="1" stop-color="#1c1e2a" stop-opacity="0"/></radialGradient>
<ellipse cx="50" cy="36" rx="55" ry="18" fill="url(#gp200)"/>
<path d="M20.7,12.4 C21.4,12.9 23.8,13.9 24.9,15.6 C25.9,17.3 26.3,21.1 27.0,22.8 C27.7,24.5 28.7,25.4 29.0,25.9 M21.8,28.0 C23.0,27.6 27.1,26.2 29.0,25.9 C30.9,25.5 32.5,25.9 33.2,25.9 M36.3,35.3 C36.6,36.0 37.7,38.9 38.4,39.4 C39.1,39.9 40.1,38.6 40.5,38.4 M40.5,58.0 C42.0,57.8 47.4,57.7 49.8,57.0 C52.2,56.3 53.3,54.9 55.0,54.0 C56.7,53.1 59.3,52.2 60.2,51.9 M49.8,57.0 C50.7,57.7 53.5,59.6 55.0,61.2 C56.5,62.8 58.4,65.5 59.1,66.4 M73.7,38.4 L78.8,44.6" fill="none" stroke="#e4ecf6" stroke-opacity="0.4" stroke-width="2.86" stroke-linecap="round" stroke-linejoin="round" filter="url(#bl1)"/>
<path d="M22.0,13.3 C22.6,13.7 24.7,14.5 25.7,16.2 C26.8,17.9 27.7,22.0 28.4,23.6 C29.2,25.3 29.8,25.7 30.1,26.1 M21.2,29.1 C22.5,28.8 27.3,27.5 29.2,27.1 C31.1,26.8 32.1,27.0 32.7,27.0 M37.3,35.0 C37.7,35.7 39.1,38.5 39.7,39.0 C40.4,39.5 40.9,38.2 41.2,38.0 M39.0,57.1 C40.6,57.0 46.0,56.9 48.4,56.1 C50.8,55.4 51.8,53.4 53.5,52.6 C55.2,51.8 57.7,51.3 58.6,51.0 M50.5,55.8 C51.4,56.6 54.5,58.6 56.1,60.3 C57.6,62.0 59.1,64.9 59.7,65.8 M73.6,38.4 L79.1,44.4" fill="none" stroke="#e4ecf6" stroke-opacity="0.45" stroke-width="0.50" stroke-linecap="round" stroke-linejoin="round"/>
<path d="M20.2,13.7 C20.9,14.2 23.5,15.1 24.5,16.8 C25.5,18.4 25.4,21.9 26.0,23.6 C26.6,25.3 27.9,26.5 28.2,27.0 M21.9,28.9 C23.2,28.6 27.3,27.0 29.2,26.7 C31.1,26.4 32.5,27.0 33.2,27.0 M36.9,36.7 C37.2,37.4 38.0,40.3 38.6,40.7 C39.2,41.2 40.4,39.7 40.7,39.5 M40.3,56.5 C41.8,56.4 46.7,56.1 49.1,55.5 C51.6,54.9 53.0,53.6 54.7,52.7 C56.4,51.9 58.6,50.8 59.4,50.4 M48.6,56.6 C49.6,57.4 52.9,59.6 54.4,61.2 C56.0,62.9 57.4,65.4 58.0,66.2 M72.6,37.6 L77.6,43.8" fill="none" stroke="#e4ecf6" stroke-opacity="0.45" stroke-width="0.50" stroke-linecap="round" stroke-linejoin="round"/>
<path d="M20.5,12.7 C21.2,13.1 23.4,13.6 24.3,15.3 C25.3,17.0 25.5,21.2 26.2,23.1 C26.9,24.9 28.0,25.8 28.4,26.4 M22.7,27.3 C24.0,26.9 28.3,25.3 30.2,25.0 C32.1,24.7 33.4,25.6 34.1,25.7 M35.9,36.8 C36.2,37.4 37.3,39.8 38.0,40.3 C38.8,40.7 39.9,39.5 40.2,39.4 M41.6,58.9 C43.2,58.7 48.5,58.7 50.9,57.9 C53.4,57.2 54.6,55.1 56.3,54.2 C58.0,53.4 60.3,53.0 61.1,52.7 M48.3,58.5 C49.3,59.1 52.4,60.8 54.1,62.4 C55.7,63.9 57.5,66.8 58.2,67.7 M72.9,38.0 L78.8,43.9" fill="none" stroke="#e4ecf6" stroke-opacity="0.45" stroke-width="0.50" stroke-linecap="round" stroke-linejoin="round"/>
<path d="M20.7,12.4 C21.4,12.9 23.8,13.9 24.9,15.6 C25.9,17.3 26.3,21.1 27.0,22.8 C27.7,24.5 28.7,25.4 29.0,25.9 M21.8,28.0 C23.0,27.6 27.1,26.2 29.0,25.9 C30.9,25.5 32.5,25.9 33.2,25.9 M36.3,35.3 C36.6,36.0 37.7,38.9 38.4,39.4 C39.1,39.9 40.1,38.6 40.5,38.4 M40.5,58.0 C42.0,57.8 47.4,57.7 49.8,57.0 C52.2,56.3 53.3,54.9 55.0,54.0 C56.7,53.1 59.3,52.2 60.2,51.9 M49.8,57.0 C50.7,57.7 53.5,59.6 55.0,61.2 C56.5,62.8 58.4,65.5 59.1,66.4 M73.7,38.4 L78.8,44.6" fill="none" stroke="#e4ecf6" stroke-opacity="0.75" stroke-width="0.61" stroke-linecap="round" stroke-linejoin="round"/>
<g fill="#ffffff" fill-opacity="0.85"><circle cx="25.7" cy="18.4" r="0.50"/><circle cx="25.1" cy="16.3" r="0.85"/><circle cx="27.4" cy="26.4" r="0.62"/><circle cx="38.8" cy="39.2" r="0.52"/><circle cx="73.8" cy="38.5" r="0.55"/><circle cx="76.5" cy="41.8" r="0.62"/></g>
<circle cx="44.6" cy="5.2" r="1.82" fill="#c8d0e2" fill-opacity="0.35" filter="url(#bl1)"/>
<circle cx="44.6" cy="5.2" r="1.17" fill="none" stroke="#c8d0e2" stroke-width="0.6" stroke-opacity="0.70"/>
<circle cx="44.3" cy="4.9" r="0.45" fill="#c8d0e2" fill-opacity="0.70"/>
<circle cx="49.4" cy="7.3" r="1.82" fill="#c8d0e2" fill-opacity="0.35" filter="url(#bl1)"/>
<circle cx="49.4" cy="7.3" r="1.17" fill="none" stroke="#c8d0e2" stroke-width="0.6" stroke-opacity="0.70"/>
<circle cx="49.1" cy="7.0" r="0.45" fill="#c8d0e2" fill-opacity="0.70"/>
<circle cx="43.2" cy="10.4" r="1.54" fill="#c8d0e2" fill-opacity="0.35" filter="url(#bl1)"/>
<circle cx="43.2" cy="10.4" r="0.99" fill="none" stroke="#c8d0e2" stroke-width="0.6" stroke-opacity="0.70"/>
<circle cx="42.9" cy="10.1" r="0.39" fill="#c8d0e2" fill-opacity="0.70"/>
<circle cx="31.1" cy="10.4" r="1.54" fill="#c8d0e2" fill-opacity="0.35" filter="url(#bl1)"/>
<circle cx="31.1" cy="10.4" r="0.99" fill="none" stroke="#c8d0e2" stroke-width="0.6" stroke-opacity="0.70"/>
<circle cx="30.8" cy="10.1" r="0.39" fill="#c8d0e2" fill-opacity="0.70"/>
<circle cx="12.4" cy="14.5" r="1.54" fill="#c8d0e2" fill-opacity="0.35" filter="url(#bl1)"/>
<circle cx="12.4" cy="14.5" r="0.99" fill="none" stroke="#c8d0e2" stroke-width="0.6" stroke-opacity="0.70"/>
<circle cx="12.1" cy="14.2" r="0.39" fill="#c8d0e2" fill-opacity="0.70"/>
<circle cx="34.2" cy="25.9" r="1.54" fill="#c8d0e2" fill-opacity="0.35" filter="url(#bl1)"/>
<circle cx="34.2" cy="25.9" r="0.99" fill="none" stroke="#c8d0e2" stroke-width="0.6" stroke-opacity="0.70"/>
<circle cx="33.9" cy="25.6" r="0.39" fill="#c8d0e2" fill-opacity="0.70"/>
<circle cx="10" cy="32.8" r="1.82" fill="#c8d0e2" fill-opacity="0.35" filter="url(#bl1)"/>
<circle cx="10" cy="32.8" r="1.17" fill="none" stroke="#c8d0e2" stroke-width="0.6" stroke-opacity="0.70"/>
<circle cx="9.7" cy="32.5" r="0.45" fill="#c8d0e2" fill-opacity="0.70"/>
<circle cx="61.8" cy="32.8" r="1.82" fill="#c8d0e2" fill-opacity="0.35" filter="url(#bl1)"/>
<circle cx="61.8" cy="32.8" r="1.17" fill="none" stroke="#c8d0e2" stroke-width="0.6" stroke-opacity="0.70"/>
<circle cx="61.5" cy="32.5" r="0.45" fill="#c8d0e2" fill-opacity="0.70"/>
<circle cx="10" cy="44" r="1.68" fill="#c8d0e2" fill-opacity="0.35" filter="url(#bl1)"/>
<circle cx="10" cy="44" r="1.08" fill="none" stroke="#c8d0e2" stroke-width="0.6" stroke-opacity="0.70"/>
<circle cx="9.7" cy="43.7" r="0.42" fill="#c8d0e2" fill-opacity="0.70"/>
<circle cx="23.9" cy="56.4" r="1.68" fill="#c8d0e2" fill-opacity="0.35" filter="url(#bl1)"/>
<circle cx="23.9" cy="56.4" r="1.08" fill="none" stroke="#c8d0e2" stroke-width="0.6" stroke-opacity="0.70"/>
<circle cx="23.6" cy="56.1" r="0.42" fill="#c8d0e2" fill-opacity="0.70"/>
<circle cx="88.2" cy="55" r="1.82" fill="#c8d0e2" fill-opacity="0.35" filter="url(#bl1)"/>
<circle cx="88.2" cy="55" r="1.17" fill="none" stroke="#c8d0e2" stroke-width="0.6" stroke-opacity="0.70"/>
<circle cx="87.9" cy="54.7" r="0.45" fill="#c8d0e2" fill-opacity="0.70"/>
<circle cx="91.3" cy="40.5" r="1.68" fill="#c8d0e2" fill-opacity="0.35" filter="url(#bl1)"/>
<circle cx="91.3" cy="40.5" r="1.08" fill="none" stroke="#c8d0e2" stroke-width="0.6" stroke-opacity="0.70"/>
<circle cx="91.0" cy="40.2" r="0.42" fill="#c8d0e2" fill-opacity="0.70"/>
<circle cx="77.8" cy="69.5" r="1.82" fill="#c8d0e2" fill-opacity="0.35" filter="url(#bl1)"/>
<circle cx="77.8" cy="69.5" r="1.17" fill="none" stroke="#c8d0e2" stroke-width="0.6" stroke-opacity="0.70"/>
<circle cx="77.5" cy="69.2" r="0.45" fill="#c8d0e2" fill-opacity="0.70"/>
<circle cx="14.5" cy="69.5" r="1.54" fill="#c8d0e2" fill-opacity="0.35" filter="url(#bl1)"/>
<circle cx="14.5" cy="69.5" r="0.99" fill="none" stroke="#c8d0e2" stroke-width="0.6" stroke-opacity="0.70"/>
<circle cx="14.2" cy="69.2" r="0.39" fill="#c8d0e2" fill-opacity="0.70"/>
<circle cx="55" cy="48.8" r="1.54" fill="#c8d0e2" fill-opacity="0.35" filter="url(#bl1)"/>
<circle cx="55" cy="48.8" r="0.99" fill="none" stroke="#c8d0e2" stroke-width="0.6" stroke-opacity="0.70"/>
<circle cx="54.7" cy="48.5" r="0.39" fill="#c8d0e2" fill-opacity="0.70"/>
<circle cx="46.5" cy="50.5" r="1.68" fill="#c8d0e2" fill-opacity="0.35" filter="url(#bl1)"/>
<circle cx="46.5" cy="50.5" r="1.08" fill="none" stroke="#c8d0e2" stroke-width="0.6" stroke-opacity="0.70"/>
<circle cx="46.2" cy="50.2" r="0.42" fill="#c8d0e2" fill-opacity="0.70"/>
<ellipse cx="90.5" cy="46.5" rx="2.6" ry="2.08" fill="#c8d0e2" fill-opacity="0.28" stroke="#c8d0e2" stroke-opacity="0.6" stroke-width="0.6" filter="url(#bl0)"/>
<ellipse cx="93" cy="48" rx="1.8" ry="1.44" fill="#c8d0e2" fill-opacity="0.28" stroke="#c8d0e2" stroke-opacity="0.6" stroke-width="0.6" filter="url(#bl0)"/>
</g>
<rect x="0.25" y="0.25" width="99.5" height="72.3" fill="none" stroke="#000" stroke-opacity="0.6" stroke-width="0.5"/>
</g>
<g transform="translate(140,177.4)">
<clipPath id="cp21"><rect x="0" y="0" width="100" height="72.8"/></clipPath>
<g clip-path="url(#cp21)">
<rect x="0" y="0" width="100" height="72.8" fill="#262126"/>
<radialGradient id="gp210"><stop offset="0" stop-color="#3e3432" stop-opacity="0.85"/><stop offset="1" stop-color="#3e3432" stop-opacity="0"/></radialGradient>
<ellipse cx="55" cy="18" rx="60" ry="25" fill="url(#gp210)"/>
<radialGradient id="gp211"><stop offset="0" stop-color="#14141a" stop-opacity="0.85"/><stop offset="1" stop-color="#14141a" stop-opacity="0"/></radialGradient>
<ellipse cx="12" cy="58" rx="35" ry="32" fill="url(#gp211)"/>
<rect x="0" y="0" width="100" height="72.8" filter="url(#tex1)" opacity="0.28"/>
<path d="M24.9,22.8 C25.9,22.8 28.7,22.8 31.1,22.8 C33.5,22.8 36.6,22.5 39.4,22.8 C42.2,23.1 45.8,24.4 47.7,24.9 C49.6,25.4 50.3,25.7 50.8,25.9 M31.1,22.8 C31.3,23.8 32.2,27.6 32.2,29.0 C32.2,30.4 31.3,30.8 31.1,31.1 M39.4,22.8 C39.9,21.8 41.6,18.9 42.5,16.6 C43.4,14.4 44.2,10.5 44.6,9.3 M62.2,16.6 C62.4,17.6 63.5,20.7 63.3,22.8 C63.1,24.9 61.6,28.0 61.2,29.0 M63.3,22.8 L71.6,25.9 M58.0,24.0 L66.0,24.0 M12.4,47.7 C13.1,47.0 15.7,43.2 16.6,43.6 C17.5,44.0 17.4,48.8 17.6,49.8 M27.0,60.2 C28.2,59.5 32.1,57.2 34.2,56.0 C36.3,54.8 37.1,53.8 39.4,52.9 C41.6,52.0 44.9,51.3 47.7,50.8 C50.5,50.3 54.6,50.0 56.0,49.8 M34.2,56.0 L33.2,66.4 M39.4,52.9 L38.4,60.2 M50.0,60.0 L51.0,63.5 M72.6,58.0 C72.9,59.0 74.5,62.5 74.7,64.3 C74.9,66.0 73.9,67.8 73.7,68.5" fill="none" stroke="#dfe6f0" stroke-opacity="0.4" stroke-width="2.86" stroke-linecap="round" stroke-linejoin="round" filter="url(#bl1)"/>
<path d="M24.0,23.3 C25.0,23.4 27.3,23.7 29.8,23.7 C32.2,23.7 35.9,23.1 38.7,23.4 C41.5,23.6 44.9,24.7 46.7,25.2 C48.5,25.7 48.8,26.1 49.3,26.3 M31.7,21.2 C31.7,22.2 32.1,25.8 32.2,27.2 C32.2,28.7 31.9,29.6 31.9,30.1 M40.0,23.0 C40.6,21.9 42.6,18.8 43.6,16.5 C44.6,14.3 45.8,10.7 46.2,9.5 M60.8,18.0 C61.0,19.0 62.3,21.8 62.2,23.8 C62.1,25.8 60.4,28.9 60.0,29.9 M62.7,21.1 L71.0,24.2 M59.7,25.5 L67.5,25.4 M11.6,47.3 C12.3,46.8 15.1,43.6 15.9,43.9 C16.7,44.3 16.3,48.6 16.4,49.6 M27.4,59.7 C28.4,59.0 31.5,56.3 33.6,55.2 C35.6,54.1 37.2,53.9 39.5,53.1 C41.8,52.3 44.8,51.0 47.5,50.4 C50.3,49.9 54.5,49.8 55.9,49.7 M33.4,56.5 L32.0,66.4 M38.8,54.3 L37.7,61.1 M49.0,60.8 L49.9,64.6 M73.7,59.9 C74.1,60.9 76.1,64.1 76.4,65.8 C76.6,67.4 75.5,69.2 75.3,69.9" fill="none" stroke="#dfe6f0" stroke-opacity="0.45" stroke-width="0.50" stroke-linecap="round" stroke-linejoin="round"/>
<path d="M24.9,21.7 C25.8,21.8 27.9,22.3 30.3,22.4 C32.7,22.4 36.4,21.8 39.3,22.0 C42.2,22.2 45.9,23.2 47.7,23.7 C49.5,24.2 49.8,24.7 50.2,24.9 M30.4,21.6 C30.7,22.8 32.3,27.1 32.4,28.5 C32.5,29.9 31.3,29.8 31.1,30.1 M38.7,24.4 C39.1,23.3 40.3,19.9 41.3,17.7 C42.2,15.4 43.7,12.1 44.2,11.0 M63.3,17.0 C63.5,18.0 65.0,20.9 64.8,22.9 C64.7,24.9 62.8,28.0 62.4,29.1 M64.3,21.8 L71.9,24.5 M58.5,24.8 L66.3,25.5 M13.2,46.2 C13.9,45.6 16.4,42.0 17.3,42.4 C18.2,42.9 18.3,48.0 18.4,49.1 M27.5,58.9 C28.7,58.2 32.7,55.8 34.7,54.6 C36.7,53.3 37.3,52.2 39.5,51.4 C41.7,50.7 45.2,50.4 48.0,49.9 C50.9,49.4 55.1,48.5 56.5,48.2 M35.1,57.4 L33.3,67.5 M37.7,53.9 L36.8,61.2 M49.3,58.4 L50.9,61.9 M73.1,57.7 C73.4,58.8 74.7,62.6 74.8,64.5 C75.0,66.4 74.1,68.4 74.0,69.1" fill="none" stroke="#dfe6f0" stroke-opacity="0.45" stroke-width="0.50" stroke-linecap="round" stroke-linejoin="round"/>
<path d="M24.4,23.5 C25.3,23.5 27.6,23.8 30.1,23.7 C32.6,23.7 36.5,22.9 39.3,23.2 C42.1,23.6 45.2,25.5 46.9,26.0 C48.7,26.5 49.3,26.0 49.8,26.1 M30.1,23.7 C30.3,24.6 31.1,28.1 31.0,29.4 C31.0,30.8 30.2,31.6 30.0,32.0 M39.3,22.2 C39.8,21.2 41.2,18.4 42.1,16.2 C42.9,14.0 44.0,10.4 44.4,9.2 M63.1,17.0 C63.3,18.1 64.3,21.3 64.1,23.5 C64.0,25.7 62.6,29.0 62.3,30.2 M62.0,23.0 L70.8,26.1 M58.6,25.2 L66.6,25.0 M11.5,49.1 C12.3,48.4 15.2,45.1 16.2,45.3 C17.1,45.6 17.2,49.7 17.3,50.5 M26.3,59.3 C27.6,58.6 31.6,56.1 33.7,55.0 C35.7,53.9 36.3,53.6 38.6,52.8 C40.9,52.0 44.7,50.7 47.4,50.2 C50.1,49.7 53.8,49.8 55.0,49.7 M34.6,55.3 L34.0,65.3 M40.5,52.7 L39.4,59.9 M48.9,60.2 L50.6,63.8 M72.2,58.0 C72.5,59.1 74.2,62.5 74.4,64.4 C74.6,66.3 73.4,68.5 73.2,69.3" fill="none" stroke="#dfe6f0" stroke-opacity="0.45" stroke-width="0.50" stroke-linecap="round" stroke-linejoin="round"/>
<path d="M24.0,23.9 C24.8,23.9 26.9,23.7 29.2,23.7 C31.5,23.7 34.6,23.5 37.5,23.8 C40.4,24.1 44.6,25.1 46.5,25.6 C48.4,26.1 48.5,26.7 48.9,26.9 M29.8,22.6 C30.0,23.5 30.8,26.7 30.8,28.0 C30.9,29.4 30.3,30.4 30.2,30.9 M39.2,21.3 C39.7,20.3 41.7,17.1 42.6,15.0 C43.6,12.8 44.6,9.4 45.0,8.3 M63.0,17.8 C63.2,18.9 64.2,22.3 64.1,24.4 C64.1,26.5 63.0,29.4 62.7,30.4 M62.7,21.6 L70.8,24.5 M58.7,23.4 L66.7,23.6 M13.1,46.4 C13.9,45.7 17.1,41.7 18.0,42.0 C18.9,42.3 18.4,47.0 18.5,48.0 M25.8,60.3 C26.9,59.5 30.3,56.8 32.5,55.6 C34.6,54.3 36.2,53.7 38.5,52.9 C40.8,52.2 43.5,51.5 46.2,51.0 C48.9,50.5 53.4,50.0 54.9,49.8 M32.6,56.5 L31.8,67.4 M40.0,51.9 L38.4,59.6 M51.1,60.9 L52.2,65.1 M73.2,59.1 C73.5,60.3 75.1,64.3 75.3,66.0 C75.4,67.7 74.3,68.7 74.1,69.2" fill="none" stroke="#dfe6f0" stroke-opacity="0.45" stroke-width="0.50" stroke-linecap="round" stroke-linejoin="round"/>
<path d="M24.9,22.8 C25.9,22.8 28.7,22.8 31.1,22.8 C33.5,22.8 36.6,22.5 39.4,22.8 C42.2,23.1 45.8,24.4 47.7,24.9 C49.6,25.4 50.3,25.7 50.8,25.9 M31.1,22.8 C31.3,23.8 32.2,27.6 32.2,29.0 C32.2,30.4 31.3,30.8 31.1,31.1 M39.4,22.8 C39.9,21.8 41.6,18.9 42.5,16.6 C43.4,14.4 44.2,10.5 44.6,9.3 M62.2,16.6 C62.4,17.6 63.5,20.7 63.3,22.8 C63.1,24.9 61.6,28.0 61.2,29.0 M63.3,22.8 L71.6,25.9 M58.0,24.0 L66.0,24.0 M12.4,47.7 C13.1,47.0 15.7,43.2 16.6,43.6 C17.5,44.0 17.4,48.8 17.6,49.8 M27.0,60.2 C28.2,59.5 32.1,57.2 34.2,56.0 C36.3,54.8 37.1,53.8 39.4,52.9 C41.6,52.0 44.9,51.3 47.7,50.8 C50.5,50.3 54.6,50.0 56.0,49.8 M34.2,56.0 L33.2,66.4 M39.4,52.9 L38.4,60.2 M50.0,60.0 L51.0,63.5 M72.6,58.0 C72.9,59.0 74.5,62.5 74.7,64.3 C74.9,66.0 73.9,67.8 73.7,68.5" fill="none" stroke="#dfe6f0" stroke-opacity="0.75" stroke-width="0.61" stroke-linecap="round" stroke-linejoin="round"/>
<g fill="#ffffff" fill-opacity="0.85"><circle cx="36.2" cy="22.8" r="0.74"/><circle cx="31.3" cy="23.9" r="0.89"/><circle cx="42.9" cy="15.1" r="0.90"/><circle cx="44.1" cy="10.9" r="0.80"/><circle cx="62.5" cy="18.1" r="0.74"/><circle cx="68.1" cy="24.6" r="0.90"/><circle cx="65.9" cy="24.0" r="0.80"/><circle cx="13.3" cy="46.8" r="0.71"/><circle cx="17.5" cy="49.1" r="0.71"/><circle cx="50.6" cy="62.1" r="0.69"/><circle cx="50.8" cy="62.6" r="0.76"/><circle cx="73.5" cy="60.7" r="0.65"/></g>
<circle cx="2.5" cy="4.1" r="1.54" fill="#d0d6e6" fill-opacity="0.35" filter="url(#bl1)"/>
<circle cx="2.5" cy="4.1" r="0.99" fill="none" stroke="#d0d6e6" stroke-width="0.6" stroke-opacity="0.70"/>
<circle cx="2.2" cy="3.8" r="0.39" fill="#d0d6e6" fill-opacity="0.70"/>
<circle cx="28" cy="3.7" r="1.54" fill="#d0d6e6" fill-opacity="0.35" filter="url(#bl1)"/>
<circle cx="28" cy="3.7" r="0.99" fill="none" stroke="#d0d6e6" stroke-width="0.6" stroke-opacity="0.70"/>
<circle cx="27.7" cy="3.4" r="0.39" fill="#d0d6e6" fill-opacity="0.70"/>
<circle cx="21.8" cy="6.2" r="1.54" fill="#d0d6e6" fill-opacity="0.35" filter="url(#bl1)"/>
<circle cx="21.8" cy="6.2" r="0.99" fill="none" stroke="#d0d6e6" stroke-width="0.6" stroke-opacity="0.70"/>
<circle cx="21.5" cy="5.9" r="0.39" fill="#d0d6e6" fill-opacity="0.70"/>
<circle cx="20.7" cy="12" r="1.54" fill="#d0d6e6" fill-opacity="0.35" filter="url(#bl1)"/>
<circle cx="20.7" cy="12" r="0.99" fill="none" stroke="#d0d6e6" stroke-width="0.6" stroke-opacity="0.70"/>
<circle cx="20.4" cy="11.7" r="0.39" fill="#d0d6e6" fill-opacity="0.70"/>
<circle cx="67.4" cy="3.1" r="1.54" fill="#d0d6e6" fill-opacity="0.35" filter="url(#bl1)"/>
<circle cx="67.4" cy="3.1" r="0.99" fill="none" stroke="#d0d6e6" stroke-width="0.6" stroke-opacity="0.70"/>
<circle cx="67.1" cy="2.8" r="0.39" fill="#d0d6e6" fill-opacity="0.70"/>
<circle cx="12" cy="20.3" r="1.54" fill="#d0d6e6" fill-opacity="0.35" filter="url(#bl1)"/>
<circle cx="12" cy="20.3" r="0.99" fill="none" stroke="#d0d6e6" stroke-width="0.6" stroke-opacity="0.70"/>
<circle cx="11.7" cy="20.0" r="0.39" fill="#d0d6e6" fill-opacity="0.70"/>
<circle cx="86.7" cy="17" r="1.82" fill="#d0d6e6" fill-opacity="0.35" filter="url(#bl1)"/>
<circle cx="86.7" cy="17" r="1.17" fill="none" stroke="#d0d6e6" stroke-width="0.6" stroke-opacity="0.70"/>
<circle cx="86.4" cy="16.7" r="0.45" fill="#d0d6e6" fill-opacity="0.70"/>
<circle cx="78.8" cy="24.9" r="1.82" fill="#d0d6e6" fill-opacity="0.35" filter="url(#bl1)"/>
<circle cx="78.8" cy="24.9" r="1.17" fill="none" stroke="#d0d6e6" stroke-width="0.6" stroke-opacity="0.70"/>
<circle cx="78.5" cy="24.6" r="0.45" fill="#d0d6e6" fill-opacity="0.70"/>
<circle cx="55" cy="29" r="1.54" fill="#d0d6e6" fill-opacity="0.35" filter="url(#bl1)"/>
<circle cx="55" cy="29" r="0.99" fill="none" stroke="#d0d6e6" stroke-width="0.6" stroke-opacity="0.70"/>
<circle cx="54.7" cy="28.7" r="0.39" fill="#d0d6e6" fill-opacity="0.70"/>
<circle cx="60" cy="32" r="1.54" fill="#d0d6e6" fill-opacity="0.35" filter="url(#bl1)"/>
<circle cx="60" cy="32" r="0.99" fill="none" stroke="#d0d6e6" stroke-width="0.6" stroke-opacity="0.70"/>
<circle cx="59.7" cy="31.7" r="0.39" fill="#d0d6e6" fill-opacity="0.70"/>
<circle cx="68.5" cy="46.7" r="1.54" fill="#d0d6e6" fill-opacity="0.35" filter="url(#bl1)"/>
<circle cx="68.5" cy="46.7" r="0.99" fill="none" stroke="#d0d6e6" stroke-width="0.6" stroke-opacity="0.70"/>
<circle cx="68.2" cy="46.4" r="0.39" fill="#d0d6e6" fill-opacity="0.70"/>
<circle cx="66.8" cy="53.5" r="1.82" fill="#d0d6e6" fill-opacity="0.35" filter="url(#bl1)"/>
<circle cx="66.8" cy="53.5" r="1.17" fill="none" stroke="#d0d6e6" stroke-width="0.6" stroke-opacity="0.70"/>
<circle cx="66.5" cy="53.2" r="0.45" fill="#d0d6e6" fill-opacity="0.70"/>
<circle cx="92.3" cy="50.2" r="1.68" fill="#d0d6e6" fill-opacity="0.35" filter="url(#bl1)"/>
<circle cx="92.3" cy="50.2" r="1.08" fill="none" stroke="#d0d6e6" stroke-width="0.6" stroke-opacity="0.70"/>
<circle cx="92.0" cy="49.9" r="0.42" fill="#d0d6e6" fill-opacity="0.70"/>
<circle cx="97.5" cy="49.4" r="1.82" fill="#d0d6e6" fill-opacity="0.35" filter="url(#bl1)"/>
<circle cx="97.5" cy="49.4" r="1.17" fill="none" stroke="#d0d6e6" stroke-width="0.6" stroke-opacity="0.70"/>
<circle cx="97.2" cy="49.1" r="0.45" fill="#d0d6e6" fill-opacity="0.70"/>
<circle cx="93.4" cy="62.2" r="1.96" fill="#d0d6e6" fill-opacity="0.35" filter="url(#bl1)"/>
<circle cx="93.4" cy="62.2" r="1.26" fill="none" stroke="#d0d6e6" stroke-width="0.6" stroke-opacity="0.70"/>
<circle cx="93.1" cy="61.9" r="0.49" fill="#d0d6e6" fill-opacity="0.70"/>
<circle cx="86.7" cy="66" r="1.96" fill="#d0d6e6" fill-opacity="0.35" filter="url(#bl1)"/>
<circle cx="86.7" cy="66" r="1.26" fill="none" stroke="#d0d6e6" stroke-width="0.6" stroke-opacity="0.70"/>
<circle cx="86.4" cy="65.7" r="0.49" fill="#d0d6e6" fill-opacity="0.70"/>
<circle cx="76.8" cy="69.5" r="1.82" fill="#d0d6e6" fill-opacity="0.35" filter="url(#bl1)"/>
<circle cx="76.8" cy="69.5" r="1.17" fill="none" stroke="#d0d6e6" stroke-width="0.6" stroke-opacity="0.70"/>
<circle cx="76.5" cy="69.2" r="0.45" fill="#d0d6e6" fill-opacity="0.70"/>
<circle cx="17.6" cy="42.5" r="1.54" fill="#d0d6e6" fill-opacity="0.35" filter="url(#bl1)"/>
<circle cx="17.6" cy="42.5" r="0.99" fill="none" stroke="#d0d6e6" stroke-width="0.6" stroke-opacity="0.70"/>
<circle cx="17.3" cy="42.2" r="0.39" fill="#d0d6e6" fill-opacity="0.70"/>
</g>
<rect x="0.25" y="0.25" width="99.5" height="72.3" fill="none" stroke="#000" stroke-opacity="0.6" stroke-width="0.5"/>
</g>
<g transform="translate(242,177.4)">
<clipPath id="cp22"><rect x="0" y="0" width="99.5" height="72.8"/></clipPath>
<g clip-path="url(#cp22)">
<rect x="0" y="0" width="99.5" height="72.8" fill="#121218"/>
<radialGradient id="gp220"><stop offset="0" stop-color="#1e2028" stop-opacity="0.7"/><stop offset="1" stop-color="#1e2028" stop-opacity="0"/></radialGradient>
<ellipse cx="40" cy="35" rx="40" ry="30" fill="url(#gp220)"/>
<path d="M18.7,19.7 C19.7,20.2 23.2,21.9 24.9,22.8 C26.6,23.7 27.6,25.1 29.0,24.9 C30.4,24.7 31.5,22.7 33.2,21.8 C34.9,20.9 38.4,20.1 39.4,19.7 M29.0,24.9 C27.8,25.8 24.0,28.3 21.8,30.0 C19.6,31.7 17.5,33.5 15.6,35.3 C13.7,37.0 11.3,39.6 10.4,40.5 M24.9,16.6 L27.0,20.7 M48.8,11.4 C49.0,12.3 49.8,15.4 49.8,16.6 C49.8,17.8 49.0,18.4 48.8,18.7 M53.9,31.1 C54.6,32.1 57.8,35.2 58.1,37.3 C58.5,39.4 56.9,41.2 56.0,43.6 C55.1,46.0 53.8,49.8 52.9,51.9 C52.0,54.0 51.1,55.3 50.8,56.0 M58.1,37.3 C58.8,38.0 60.8,40.1 62.2,41.5 C63.6,42.9 64.5,43.7 66.4,45.6 C68.3,47.5 71.3,50.8 73.7,52.9 C76.1,55.0 79.0,55.9 80.9,58.1 C82.8,60.4 84.3,65.0 85.0,66.4 M49.8,49.8 C51.0,49.3 54.9,47.9 57.0,46.7 C59.1,45.5 61.3,43.2 62.2,42.5 M66.4,25.9 C66.2,27.3 65.1,33.3 65.4,34.2 C65.8,35.1 68.0,31.6 68.5,31.1 M95.4,37.3 L97.5,47.7 M56.0,33.2 L60.2,35.3" fill="none" stroke="#dfe8f4" stroke-opacity="0.4" stroke-width="2.86" stroke-linecap="round" stroke-linejoin="round" filter="url(#bl1)"/>
<path d="M19.6,19.1 C20.6,19.5 24.1,20.6 25.9,21.3 C27.8,22.1 29.0,23.8 30.5,23.7 C32.0,23.5 33.2,21.3 35.0,20.4 C36.8,19.6 40.2,18.8 41.3,18.4 M29.5,26.6 C28.3,27.3 24.5,29.1 22.3,30.8 C20.1,32.5 18.3,34.9 16.3,36.7 C14.3,38.5 11.5,40.7 10.5,41.5 M26.4,17.1 L28.5,21.0 M49.1,12.2 C49.3,13.1 50.1,16.1 50.2,17.2 C50.3,18.4 49.9,18.9 49.9,19.2 M53.0,31.7 C53.6,32.8 56.3,36.1 56.6,38.3 C56.8,40.5 55.2,42.6 54.4,45.0 C53.6,47.5 52.6,50.9 51.8,52.9 C51.0,54.9 50.0,56.4 49.6,57.1 M59.2,36.8 C59.9,37.5 61.8,39.7 63.2,41.0 C64.6,42.4 65.7,43.1 67.7,45.0 C69.7,46.8 72.8,50.2 75.1,52.4 C77.5,54.5 79.9,55.8 81.7,58.0 C83.5,60.3 85.4,64.5 86.1,65.8 M50.0,51.1 C51.1,50.5 54.5,48.8 56.6,47.6 C58.7,46.3 61.4,44.1 62.3,43.4 M66.4,25.3 C66.2,26.6 64.8,32.3 65.2,33.3 C65.6,34.2 68.1,31.3 68.7,31.0 M96.0,35.9 L97.8,47.1 M57.6,33.1 L61.5,35.3" fill="none" stroke="#dfe8f4" stroke-opacity="0.45" stroke-width="0.50" stroke-linecap="round" stroke-linejoin="round"/>
<path d="M20.1,20.7 C21.2,21.1 24.8,22.5 26.5,23.4 C28.3,24.3 29.4,26.0 30.8,26.0 C32.1,25.9 33.2,23.9 34.8,23.0 C36.4,22.1 39.4,20.9 40.4,20.4 M29.1,24.6 C27.9,25.4 24.4,27.5 22.1,29.3 C19.9,31.1 17.4,33.6 15.5,35.3 C13.6,37.0 11.5,38.9 10.6,39.6 M24.4,15.5 L25.9,19.5 M48.5,10.8 C48.8,11.7 50.2,14.9 50.2,16.1 C50.1,17.2 48.5,17.4 48.2,17.7 M54.6,29.7 C55.4,30.8 58.6,34.1 59.0,36.2 C59.5,38.2 58.2,39.8 57.3,42.2 C56.4,44.5 54.6,48.2 53.7,50.2 C52.7,52.2 51.9,53.5 51.6,54.1 M59.0,36.4 C59.5,37.1 60.9,39.2 62.2,40.5 C63.6,41.7 65.0,42.3 67.0,44.1 C69.0,45.9 71.7,49.3 74.2,51.4 C76.6,53.5 79.8,54.1 81.7,56.6 C83.6,59.0 85.0,64.3 85.6,65.9 M50.9,48.6 C52.0,48.2 55.8,47.5 57.9,46.3 C60.0,45.0 62.6,42.0 63.6,41.2 M65.7,26.6 C65.7,28.0 65.1,33.8 65.5,34.7 C65.8,35.5 67.6,32.4 68.0,31.9 M95.2,36.0 L97.9,46.8 M57.1,33.8 L60.7,36.6" fill="none" stroke="#dfe8f4" stroke-opacity="0.45" stroke-width="0.50" stroke-linecap="round" stroke-linejoin="round"/>
<path d="M19.6,19.0 C20.6,19.5 23.7,21.1 25.3,22.0 C27.0,22.9 28.2,24.3 29.7,24.3 C31.1,24.3 32.3,22.8 34.0,22.0 C35.7,21.1 38.9,19.8 39.8,19.4 M30.1,25.5 C28.8,26.4 24.6,29.0 22.4,30.8 C20.2,32.5 18.6,34.3 16.9,35.9 C15.1,37.5 12.7,39.6 11.8,40.4 M23.6,16.1 L26.1,19.6 M49.0,12.6 C49.3,13.4 50.5,16.4 50.6,17.6 C50.7,18.7 49.8,19.4 49.6,19.7 M54.1,30.3 C54.8,31.4 57.7,35.2 58.1,37.2 C58.4,39.3 57.1,40.3 56.2,42.6 C55.4,44.9 54.0,48.8 53.2,50.9 C52.3,53.1 51.5,54.6 51.2,55.3 M57.0,37.1 C57.8,37.8 60.1,39.8 61.6,41.2 C63.0,42.7 63.5,44.0 65.5,45.9 C67.4,47.8 70.9,50.6 73.2,52.7 C75.5,54.8 77.6,56.3 79.4,58.5 C81.2,60.7 83.3,64.8 84.0,66.0 M48.5,48.6 C49.6,48.3 53.3,47.7 55.4,46.4 C57.6,45.2 60.4,42.2 61.4,41.3 M66.3,26.4 C66.2,27.8 64.8,34.0 65.2,35.0 C65.6,35.9 68.3,32.6 68.9,32.1 M94.8,37.9 L97.7,48.3 M55.1,32.1 L59.4,34.6" fill="none" stroke="#dfe8f4" stroke-opacity="0.45" stroke-width="0.50" stroke-linecap="round" stroke-linejoin="round"/>
<path d="M19.5,19.0 C20.6,19.4 24.1,20.6 25.9,21.4 C27.7,22.3 29.0,24.3 30.3,24.1 C31.6,24.0 32.1,21.5 33.8,20.7 C35.5,19.9 39.3,19.5 40.4,19.3 M28.6,24.3 C27.3,25.2 23.4,28.3 21.2,30.1 C19.0,32.0 17.1,33.6 15.2,35.3 C13.2,37.1 10.6,39.7 9.7,40.6 M25.8,16.0 L27.9,20.0 M47.9,11.9 C48.0,12.8 48.8,16.1 48.9,17.3 C48.9,18.4 48.2,18.4 48.1,18.6 M53.9,29.5 C54.6,30.6 57.6,33.9 58.0,36.0 C58.3,38.1 56.9,39.6 56.0,42.1 C55.2,44.6 53.8,48.9 52.8,51.0 C51.9,53.1 50.7,53.9 50.3,54.5 M57.5,37.2 C58.2,38.1 60.4,40.7 61.8,42.3 C63.1,43.8 63.7,44.7 65.7,46.5 C67.6,48.3 70.9,51.0 73.3,53.0 C75.7,55.0 78.2,56.2 80.1,58.4 C82.0,60.7 83.8,65.2 84.6,66.5 M48.3,49.7 C49.5,49.3 53.6,48.2 55.7,46.9 C57.8,45.7 60.1,43.0 61.0,42.2 M65.0,26.6 C64.8,28.1 63.6,34.6 64.0,35.6 C64.4,36.6 67.0,33.1 67.6,32.6 M95.7,37.1 L97.6,47.5 M55.6,31.9 L59.6,34.4" fill="none" stroke="#dfe8f4" stroke-opacity="0.45" stroke-width="0.50" stroke-linecap="round" stroke-linejoin="round"/>
<path d="M18.7,19.7 C19.7,20.2 23.2,21.9 24.9,22.8 C26.6,23.7 27.6,25.1 29.0,24.9 C30.4,24.7 31.5,22.7 33.2,21.8 C34.9,20.9 38.4,20.1 39.4,19.7 M29.0,24.9 C27.8,25.8 24.0,28.3 21.8,30.0 C19.6,31.7 17.5,33.5 15.6,35.3 C13.7,37.0 11.3,39.6 10.4,40.5 M24.9,16.6 L27.0,20.7 M48.8,11.4 C49.0,12.3 49.8,15.4 49.8,16.6 C49.8,17.8 49.0,18.4 48.8,18.7 M53.9,31.1 C54.6,32.1 57.8,35.2 58.1,37.3 C58.5,39.4 56.9,41.2 56.0,43.6 C55.1,46.0 53.8,49.8 52.9,51.9 C52.0,54.0 51.1,55.3 50.8,56.0 M58.1,37.3 C58.8,38.0 60.8,40.1 62.2,41.5 C63.6,42.9 64.5,43.7 66.4,45.6 C68.3,47.5 71.3,50.8 73.7,52.9 C76.1,55.0 79.0,55.9 80.9,58.1 C82.8,60.4 84.3,65.0 85.0,66.4 M49.8,49.8 C51.0,49.3 54.9,47.9 57.0,46.7 C59.1,45.5 61.3,43.2 62.2,42.5 M66.4,25.9 C66.2,27.3 65.1,33.3 65.4,34.2 C65.8,35.1 68.0,31.6 68.5,31.1 M95.4,37.3 L97.5,47.7 M56.0,33.2 L60.2,35.3" fill="none" stroke="#dfe8f4" stroke-opacity="0.75" stroke-width="0.61" stroke-linecap="round" stroke-linejoin="round"/>
<g fill="#ffffff" fill-opacity="0.85"><circle cx="24.3" cy="22.5" r="0.78"/><circle cx="27.9" cy="25.7" r="0.88"/><circle cx="25.7" cy="27.2" r="0.65"/><circle cx="49.7" cy="15.8" r="0.66"/><circle cx="56.5" cy="34.9" r="0.82"/><circle cx="50.1" cy="49.7" r="0.83"/><circle cx="68.0" cy="31.6" r="0.68"/></g>
<circle cx="27" cy="14.1" r="1.69" fill="#d4dcea" fill-opacity="0.50" filter="url(#bl1)"/>
<circle cx="27" cy="14.1" r="0.98" fill="#d4dcea" fill-opacity="0.90"/>
<circle cx="29" cy="11.4" r="1.43" fill="#d4dcea" fill-opacity="0.50" filter="url(#bl1)"/>
<circle cx="29" cy="11.4" r="0.83" fill="#d4dcea" fill-opacity="0.90"/>
<circle cx="60.2" cy="12" r="1.69" fill="#d4dcea" fill-opacity="0.50" filter="url(#bl1)"/>
<circle cx="60.2" cy="12" r="0.98" fill="#d4dcea" fill-opacity="0.90"/>
<circle cx="8.3" cy="26.6" r="1.69" fill="#d4dcea" fill-opacity="0.50" filter="url(#bl1)"/>
<circle cx="8.3" cy="26.6" r="0.98" fill="#d4dcea" fill-opacity="0.90"/>
<circle cx="37.3" cy="27" r="1.43" fill="#d4dcea" fill-opacity="0.50" filter="url(#bl1)"/>
<circle cx="37.3" cy="27" r="0.83" fill="#d4dcea" fill-opacity="0.90"/>
<circle cx="44.6" cy="23.2" r="1.43" fill="#d4dcea" fill-opacity="0.50" filter="url(#bl1)"/>
<circle cx="44.6" cy="23.2" r="0.83" fill="#d4dcea" fill-opacity="0.90"/>
<circle cx="29" cy="36.3" r="1.43" fill="#d4dcea" fill-opacity="0.50" filter="url(#bl1)"/>
<circle cx="29" cy="36.3" r="0.83" fill="#d4dcea" fill-opacity="0.90"/>
<circle cx="32.8" cy="35.7" r="1.43" fill="#d4dcea" fill-opacity="0.50" filter="url(#bl1)"/>
<circle cx="32.8" cy="35.7" r="0.83" fill="#d4dcea" fill-opacity="0.90"/>
<circle cx="34.2" cy="40.5" r="1.43" fill="#d4dcea" fill-opacity="0.50" filter="url(#bl1)"/>
<circle cx="34.2" cy="40.5" r="0.83" fill="#d4dcea" fill-opacity="0.90"/>
<circle cx="41.5" cy="33.2" r="1.43" fill="#d4dcea" fill-opacity="0.50" filter="url(#bl1)"/>
<circle cx="41.5" cy="33.2" r="0.83" fill="#d4dcea" fill-opacity="0.90"/>
<circle cx="48.8" cy="43.2" r="1.69" fill="#d4dcea" fill-opacity="0.50" filter="url(#bl1)"/>
<circle cx="48.8" cy="43.2" r="0.98" fill="#d4dcea" fill-opacity="0.90"/>
<circle cx="67.4" cy="44.6" r="1.69" fill="#d4dcea" fill-opacity="0.50" filter="url(#bl1)"/>
<circle cx="67.4" cy="44.6" r="0.98" fill="#d4dcea" fill-opacity="0.90"/>
<circle cx="77.8" cy="47.3" r="1.43" fill="#d4dcea" fill-opacity="0.50" filter="url(#bl1)"/>
<circle cx="77.8" cy="47.3" r="0.83" fill="#d4dcea" fill-opacity="0.90"/>
<circle cx="85" cy="52.9" r="1.43" fill="#d4dcea" fill-opacity="0.50" filter="url(#bl1)"/>
<circle cx="85" cy="52.9" r="0.83" fill="#d4dcea" fill-opacity="0.90"/>
<circle cx="91.3" cy="53.5" r="1.43" fill="#d4dcea" fill-opacity="0.50" filter="url(#bl1)"/>
<circle cx="91.3" cy="53.5" r="0.83" fill="#d4dcea" fill-opacity="0.90"/>
<circle cx="7.9" cy="43.6" r="1.69" fill="#d4dcea" fill-opacity="0.50" filter="url(#bl1)"/>
<circle cx="7.9" cy="43.6" r="0.98" fill="#d4dcea" fill-opacity="0.90"/>
<circle cx="43.2" cy="51.9" r="1.43" fill="#d4dcea" fill-opacity="0.50" filter="url(#bl1)"/>
<circle cx="43.2" cy="51.9" r="0.83" fill="#d4dcea" fill-opacity="0.90"/>
<circle cx="35.7" cy="62.2" r="1.69" fill="#d4dcea" fill-opacity="0.50" filter="url(#bl1)"/>
<circle cx="35.7" cy="62.2" r="0.98" fill="#d4dcea" fill-opacity="0.90"/>
<circle cx="1" cy="53.5" r="1.43" fill="#d4dcea" fill-opacity="0.50" filter="url(#bl1)"/>
<circle cx="1" cy="53.5" r="0.83" fill="#d4dcea" fill-opacity="0.90"/>
<circle cx="65.4" cy="1" r="1.43" fill="#d4dcea" fill-opacity="0.50" filter="url(#bl1)"/>
<circle cx="65.4" cy="1" r="0.83" fill="#d4dcea" fill-opacity="0.90"/>
<circle cx="83" cy="1.7" r="1.43" fill="#d4dcea" fill-opacity="0.50" filter="url(#bl1)"/>
<circle cx="83" cy="1.7" r="0.83" fill="#d4dcea" fill-opacity="0.90"/>
<ellipse cx="36.3" cy="50.8" rx="2.6" ry="2.08" fill="#d4dcea" fill-opacity="0.28" stroke="#d4dcea" stroke-opacity="0.6" stroke-width="0.6" filter="url(#bl0)"/>
<ellipse cx="19.7" cy="51.9" rx="2.4" ry="1.92" fill="#d4dcea" fill-opacity="0.28" stroke="#d4dcea" stroke-opacity="0.6" stroke-width="0.6" filter="url(#bl0)"/>
<ellipse cx="95.4" cy="61.2" rx="2.6" ry="2.08" fill="#d4dcea" fill-opacity="0.28" stroke="#d4dcea" stroke-opacity="0.6" stroke-width="0.6" filter="url(#bl0)"/>
<ellipse cx="62.2" cy="62.2" rx="2" ry="1.60" fill="#d4dcea" fill-opacity="0.28" stroke="#d4dcea" stroke-opacity="0.6" stroke-width="0.6" filter="url(#bl0)"/>
</g>
<rect x="0.25" y="0.25" width="99.0" height="72.3" fill="none" stroke="#000" stroke-opacity="0.6" stroke-width="0.5"/>
</g>
<g transform="translate(343.5,177.4)">
<clipPath id="cp23"><rect x="0" y="0" width="99.5" height="72.8"/></clipPath>
<g clip-path="url(#cp23)">
<rect x="0" y="0" width="99.5" height="72.8" fill="#121214"/>
<radialGradient id="gp230"><stop offset="0" stop-color="#2c2622" stop-opacity="0.9"/><stop offset="1" stop-color="#2c2622" stop-opacity="0"/></radialGradient>
<ellipse cx="70" cy="30" rx="40" ry="38" fill="url(#gp230)"/>
<radialGradient id="gp231"><stop offset="0" stop-color="#0a0a10" stop-opacity="0.7"/><stop offset="1" stop-color="#0a0a10" stop-opacity="0"/></radialGradient>
<ellipse cx="8" cy="40" rx="20" ry="40" fill="url(#gp231)"/>
<radialGradient id="gp232"><stop offset="0" stop-color="#22242a" stop-opacity="0.6"/><stop offset="1" stop-color="#22242a" stop-opacity="0"/></radialGradient>
<ellipse cx="45" cy="30" rx="22" ry="26" fill="url(#gp232)"/>
<rect x="0" y="0" width="99.5" height="72.8" filter="url(#tex2)" opacity="0.2"/>
<path d="M58.7,18.7 C59.6,17.9 62.1,15.4 64.0,14.0 C65.9,12.6 67.8,11.3 70.0,10.0 C72.2,8.7 76.2,6.8 77.4,6.2 M56.0,20.0 C57.0,19.3 60.3,17.3 62.0,16.0 C63.7,14.7 65.3,13.0 66.0,12.4 M60.0,22.0 C61.0,21.3 64.0,19.0 66.0,18.0 C68.0,17.0 69.7,16.7 72.0,16.0 C74.3,15.3 78.7,14.3 80.0,14.0 M60.0,30.0 C60.8,29.7 63.3,28.8 65.0,28.0 C66.7,27.2 69.2,25.5 70.0,25.0 M52.0,22.0 C53.0,22.7 56.0,24.7 58.0,26.0 C60.0,27.3 62.0,28.7 64.0,30.0 C66.0,31.3 69.0,33.3 70.0,34.0 M62.0,12.0 C63.0,11.3 66.0,9.5 68.0,8.0 C70.0,6.5 73.0,3.8 74.0,3.0 M46.0,30.0 C45.0,29.0 42.0,25.7 40.0,24.0 C38.0,22.3 35.0,20.7 34.0,20.0 M64.0,48.0 C65.3,48.7 69.3,50.7 72.0,52.0 C74.7,53.3 78.7,55.3 80.0,56.0 M58.0,56.0 C59.0,57.0 62.0,60.0 64.0,62.0 C66.0,64.0 69.0,67.0 70.0,68.0" fill="none" stroke="#d4dce8" stroke-opacity="0.25" stroke-width="2.2" stroke-linecap="round" filter="url(#bl1)"/>
<path d="M58.7,18.7 C59.6,17.9 62.1,15.4 64.0,14.0 C65.9,12.6 67.8,11.3 70.0,10.0 C72.2,8.7 76.2,6.8 77.4,6.2 M56.0,20.0 C57.0,19.3 60.3,17.3 62.0,16.0 C63.7,14.7 65.3,13.0 66.0,12.4 M60.0,22.0 C61.0,21.3 64.0,19.0 66.0,18.0 C68.0,17.0 69.7,16.7 72.0,16.0 C74.3,15.3 78.7,14.3 80.0,14.0 M60.0,30.0 C60.8,29.7 63.3,28.8 65.0,28.0 C66.7,27.2 69.2,25.5 70.0,25.0 M52.0,22.0 C53.0,22.7 56.0,24.7 58.0,26.0 C60.0,27.3 62.0,28.7 64.0,30.0 C66.0,31.3 69.0,33.3 70.0,34.0 M62.0,12.0 C63.0,11.3 66.0,9.5 68.0,8.0 C70.0,6.5 73.0,3.8 74.0,3.0 M46.0,30.0 C45.0,29.0 42.0,25.7 40.0,24.0 C38.0,22.3 35.0,20.7 34.0,20.0 M64.0,48.0 C65.3,48.7 69.3,50.7 72.0,52.0 C74.7,53.3 78.7,55.3 80.0,56.0 M58.0,56.0 C59.0,57.0 62.0,60.0 64.0,62.0 C66.0,64.0 69.0,67.0 70.0,68.0" fill="none" stroke="#d4dce8" stroke-opacity="0.35" stroke-width="0.45" stroke-linecap="round"/>
<path d="M43.0,36.0 C43.1,34.2 43.3,28.3 43.6,25.0 C43.9,21.7 44.3,18.9 44.8,16.0 C45.3,13.1 46.2,9.8 46.7,7.5 C47.2,5.2 47.8,2.9 48.0,2.0 M44.8,16.0 C45.6,15.2 48.5,13.0 49.8,11.2 C51.0,9.4 51.9,6.0 52.3,5.0 M27.4,13.7 C28.0,13.2 29.3,11.1 31.0,10.5 C32.7,9.9 35.5,9.5 37.4,10.0 C39.3,10.5 41.2,12.4 42.3,13.7 C43.4,15.0 43.7,17.3 44.0,18.0 M43.0,35.0 C41.8,34.5 38.2,33.1 36.0,32.0 C33.8,30.9 31.9,29.9 29.9,28.6 C27.9,27.3 25.9,25.4 24.0,24.0 C22.1,22.6 19.6,20.7 18.7,20.0 M24.0,43.0 C24.5,42.7 25.6,42.4 27.0,41.4 C28.4,40.4 30.6,37.7 32.4,36.7 C34.2,35.7 36.1,35.9 38.0,35.6 C39.9,35.4 42.7,35.3 43.6,35.2 M43.6,35.2 C44.6,35.9 47.7,37.8 49.8,39.3 C51.9,40.8 54.6,42.6 56.0,44.5 C57.4,46.4 58.0,48.3 58.0,50.7 C58.0,53.1 56.7,56.6 56.0,59.0 C55.3,61.4 54.3,64.0 54.0,65.0 M52.0,40.0 C52.8,40.2 55.3,41.1 57.0,41.5 C58.7,41.9 60.3,42.9 62.2,42.4 C64.1,41.9 66.4,39.7 68.5,38.3 C70.6,36.9 73.7,34.8 74.7,34.1 M70.0,25.0 C70.8,25.3 73.2,26.2 75.0,27.0 C76.8,27.8 80.0,29.5 81.0,30.0 M29.0,68.8 L34.2,66.0 M48.0,38.0 C48.3,39.0 49.3,42.0 50.0,44.0 C50.7,46.0 51.7,49.0 52.0,50.0 M62.0,44.0 C62.7,45.0 64.7,48.0 66.0,50.0 C67.3,52.0 69.3,55.0 70.0,56.0" fill="none" stroke="#d4dce8" stroke-opacity="0.38" stroke-width="2.72" stroke-linecap="round" stroke-linejoin="round" filter="url(#bl1)"/>
<path d="M44.2,36.7 C44.3,34.9 44.4,29.3 44.6,25.9 C44.9,22.6 45.3,19.6 45.8,16.7 C46.2,13.8 46.9,10.7 47.4,8.4 C47.9,6.2 48.5,3.9 48.7,3.0 M43.9,15.0 C44.7,14.3 47.6,12.3 48.8,10.5 C50.0,8.6 50.7,4.9 51.1,3.7 M28.1,14.0 C28.8,13.4 30.3,11.2 32.0,10.6 C33.7,9.9 36.4,9.5 38.2,10.1 C40.1,10.7 41.9,12.7 43.0,14.0 C44.0,15.3 44.2,17.2 44.5,17.9 M43.0,35.4 C41.9,34.9 38.3,33.3 36.1,32.2 C33.8,31.2 31.6,30.3 29.6,28.9 C27.6,27.6 26.1,25.7 24.2,24.2 C22.3,22.8 19.3,20.8 18.3,20.2 M23.0,42.8 C23.5,42.4 24.5,41.9 25.9,40.8 C27.2,39.7 29.3,37.0 31.2,36.1 C33.1,35.1 35.3,35.4 37.2,35.1 C39.1,34.9 41.5,34.5 42.4,34.4 M44.5,35.5 C45.5,36.2 48.4,38.4 50.5,40.1 C52.5,41.7 55.4,43.4 56.7,45.3 C58.0,47.2 58.4,49.2 58.4,51.5 C58.3,53.9 57.0,57.0 56.3,59.4 C55.6,61.8 54.6,64.6 54.3,65.7 M52.6,41.4 C53.4,41.6 55.7,42.6 57.4,42.9 C59.1,43.2 60.8,43.9 62.8,43.3 C64.8,42.7 67.3,40.7 69.3,39.2 C71.3,37.8 73.9,35.6 74.9,34.8 M70.3,24.7 C71.0,24.9 72.9,25.3 74.7,26.0 C76.5,26.8 79.9,28.6 80.9,29.1 M28.9,69.4 L34.6,66.6 M47.9,39.2 C48.2,40.1 49.1,42.8 49.8,44.8 C50.4,46.8 51.5,50.1 51.8,51.1 M62.1,43.4 C62.9,44.4 65.2,47.4 66.5,49.5 C67.9,51.5 69.7,54.6 70.3,55.7" fill="none" stroke="#d4dce8" stroke-opacity="0.35" stroke-width="0.38" stroke-linecap="round" stroke-linejoin="round"/>
<path d="M42.0,36.3 C42.2,34.5 42.6,28.5 43.0,25.1 C43.4,21.7 43.8,18.8 44.3,16.0 C44.8,13.1 45.4,10.1 45.9,7.8 C46.3,5.5 46.8,3.2 46.9,2.3 M44.9,15.5 C45.7,14.8 48.5,13.0 49.6,11.3 C50.8,9.6 51.6,6.2 52.0,5.2 M26.5,14.1 C27.1,13.5 28.6,11.2 30.3,10.6 C32.0,10.0 35.0,9.8 36.9,10.4 C38.8,11.0 40.7,12.8 41.8,14.1 C42.9,15.5 43.1,17.7 43.4,18.4 M42.2,36.2 C41.2,35.6 37.9,34.0 35.8,32.9 C33.7,31.8 31.7,31.0 29.7,29.6 C27.6,28.3 25.6,26.2 23.6,24.7 C21.7,23.2 19.0,21.4 18.1,20.8 M23.4,43.9 C24.0,43.7 25.1,43.7 26.5,42.7 C27.9,41.6 30.1,38.8 31.9,37.8 C33.8,36.7 35.6,36.7 37.4,36.4 C39.2,36.1 41.9,36.1 42.8,36.0 M43.1,35.7 C44.1,36.4 47.2,38.2 49.3,39.8 C51.3,41.4 54.1,43.3 55.5,45.2 C56.9,47.1 57.7,48.9 57.8,51.3 C57.8,53.7 56.4,57.1 55.8,59.6 C55.1,62.0 54.2,64.8 53.9,65.9 M50.8,40.6 C51.6,40.9 54.0,42.0 55.7,42.4 C57.4,42.9 58.9,43.8 60.9,43.3 C62.8,42.7 65.3,40.6 67.4,39.1 C69.5,37.6 72.5,35.2 73.5,34.5 M70.7,25.7 C71.6,25.9 74.4,26.3 76.2,27.1 C78.0,27.9 80.7,29.9 81.5,30.4 M28.2,69.5 L33.5,66.7 M48.8,38.1 C49.1,39.1 49.7,41.9 50.4,43.9 C51.1,45.9 52.6,49.0 53.0,50.0 M61.9,43.6 C62.6,44.6 64.8,47.5 66.1,49.5 C67.4,51.6 69.1,54.7 69.7,55.7" fill="none" stroke="#d4dce8" stroke-opacity="0.35" stroke-width="0.38" stroke-linecap="round" stroke-linejoin="round"/>
<path d="M43.4,37.2 C43.6,35.4 44.2,29.7 44.5,26.3 C44.8,22.9 44.6,19.8 45.1,16.8 C45.5,13.9 46.9,11.0 47.4,8.7 C48.0,6.4 48.1,3.8 48.2,2.9 M45.3,16.3 C46.1,15.5 49.0,13.2 50.2,11.4 C51.4,9.6 52.2,6.5 52.7,5.5 M28.0,13.7 C28.6,13.2 29.9,11.5 31.6,10.8 C33.2,10.2 36.1,9.4 38.1,9.9 C40.0,10.5 42.1,12.6 43.3,14.0 C44.4,15.3 44.8,17.5 45.1,18.2 M43.4,35.2 C42.2,34.6 38.8,33.1 36.6,32.0 C34.4,30.8 32.1,29.5 30.1,28.1 C28.1,26.7 26.4,25.2 24.5,23.8 C22.7,22.3 19.8,20.2 18.9,19.5 M23.3,42.9 C23.8,42.7 24.8,42.4 26.1,41.3 C27.4,40.2 29.4,37.2 31.2,36.2 C33.0,35.2 35.1,35.2 37.1,35.0 C39.0,34.8 41.7,35.0 42.6,35.0 M43.4,34.3 C44.4,35.1 47.5,37.0 49.6,38.6 C51.7,40.1 54.5,41.9 55.9,43.8 C57.4,45.7 58.3,47.6 58.3,49.9 C58.3,52.3 56.8,55.5 56.1,57.9 C55.4,60.4 54.3,63.4 54.0,64.5 M51.5,39.6 C52.4,39.8 55.0,40.5 56.7,40.9 C58.5,41.2 60.1,42.1 62.0,41.6 C64.0,41.1 66.1,39.2 68.2,37.9 C70.3,36.5 73.5,34.1 74.5,33.4 M70.5,25.7 C71.4,26.1 74.0,27.4 75.7,28.3 C77.5,29.3 80.2,30.8 81.1,31.2 M28.3,68.0 L33.6,65.2 M48.1,37.9 C48.4,38.9 49.5,41.8 50.1,43.8 C50.8,45.8 51.5,48.7 51.8,49.7 M62.8,42.8 C63.3,43.8 65.0,46.7 66.3,48.7 C67.6,50.7 69.9,53.8 70.6,54.8" fill="none" stroke="#d4dce8" stroke-opacity="0.35" stroke-width="0.38" stroke-linecap="round" stroke-linejoin="round"/>
<path d="M44.3,35.1 C44.4,33.2 44.4,27.3 44.7,24.0 C45.0,20.6 45.6,17.9 46.1,15.0 C46.5,12.1 47.0,9.0 47.5,6.6 C47.9,4.3 48.7,1.9 48.9,1.0 M44.8,17.2 C45.6,16.3 48.2,13.8 49.5,12.0 C50.8,10.1 52.0,7.0 52.5,6.0 M28.4,13.3 C28.9,12.7 29.8,10.2 31.5,9.6 C33.1,9.0 36.3,9.2 38.2,9.7 C40.1,10.3 42.0,11.7 43.1,13.0 C44.2,14.3 44.5,16.8 44.7,17.6 M43.1,35.4 C42.0,34.9 38.5,33.5 36.3,32.3 C34.1,31.2 31.8,30.1 29.8,28.8 C27.8,27.4 26.1,25.6 24.3,24.2 C22.5,22.9 20.0,21.0 19.1,20.4 M23.1,42.8 C23.6,42.6 24.7,42.9 26.2,41.8 C27.6,40.7 30.0,37.5 31.8,36.4 C33.6,35.4 35.1,35.7 37.0,35.5 C38.9,35.3 42.1,35.2 43.1,35.2 M42.7,35.0 C43.7,35.8 47.0,38.1 49.1,39.8 C51.3,41.4 54.2,42.9 55.5,44.8 C56.8,46.6 57.0,48.4 57.0,50.9 C57.0,53.3 56.0,57.0 55.4,59.3 C54.7,61.6 53.6,63.9 53.2,64.8 M53.1,39.5 C54.0,39.7 56.5,40.5 58.2,40.9 C59.8,41.3 60.9,42.3 62.8,41.8 C64.7,41.4 67.3,39.4 69.4,38.0 C71.5,36.7 74.5,34.4 75.6,33.7 M69.5,25.8 C70.4,26.0 73.1,26.3 75.1,27.1 C77.0,28.0 80.0,30.1 81.0,30.7 M29.6,68.1 L34.7,65.5 M49.3,38.0 C49.6,39.1 50.2,42.2 50.8,44.3 C51.4,46.4 52.6,49.6 53.0,50.6 M62.4,44.6 C63.0,45.6 64.9,48.5 66.2,50.5 C67.6,52.4 69.7,55.2 70.4,56.2" fill="none" stroke="#d4dce8" stroke-opacity="0.35" stroke-width="0.38" stroke-linecap="round" stroke-linejoin="round"/>
<path d="M43.0,36.0 C43.1,34.2 43.3,28.3 43.6,25.0 C43.9,21.7 44.3,18.9 44.8,16.0 C45.3,13.1 46.2,9.8 46.7,7.5 C47.2,5.2 47.8,2.9 48.0,2.0 M44.8,16.0 C45.6,15.2 48.5,13.0 49.8,11.2 C51.0,9.4 51.9,6.0 52.3,5.0 M27.4,13.7 C28.0,13.2 29.3,11.1 31.0,10.5 C32.7,9.9 35.5,9.5 37.4,10.0 C39.3,10.5 41.2,12.4 42.3,13.7 C43.4,15.0 43.7,17.3 44.0,18.0 M43.0,35.0 C41.8,34.5 38.2,33.1 36.0,32.0 C33.8,30.9 31.9,29.9 29.9,28.6 C27.9,27.3 25.9,25.4 24.0,24.0 C22.1,22.6 19.6,20.7 18.7,20.0 M24.0,43.0 C24.5,42.7 25.6,42.4 27.0,41.4 C28.4,40.4 30.6,37.7 32.4,36.7 C34.2,35.7 36.1,35.9 38.0,35.6 C39.9,35.4 42.7,35.3 43.6,35.2 M43.6,35.2 C44.6,35.9 47.7,37.8 49.8,39.3 C51.9,40.8 54.6,42.6 56.0,44.5 C57.4,46.4 58.0,48.3 58.0,50.7 C58.0,53.1 56.7,56.6 56.0,59.0 C55.3,61.4 54.3,64.0 54.0,65.0 M52.0,40.0 C52.8,40.2 55.3,41.1 57.0,41.5 C58.7,41.9 60.3,42.9 62.2,42.4 C64.1,41.9 66.4,39.7 68.5,38.3 C70.6,36.9 73.7,34.8 74.7,34.1 M70.0,25.0 C70.8,25.3 73.2,26.2 75.0,27.0 C76.8,27.8 80.0,29.5 81.0,30.0 M29.0,68.8 L34.2,66.0 M48.0,38.0 C48.3,39.0 49.3,42.0 50.0,44.0 C50.7,46.0 51.7,49.0 52.0,50.0 M62.0,44.0 C62.7,45.0 64.7,48.0 66.0,50.0 C67.3,52.0 69.3,55.0 70.0,56.0" fill="none" stroke="#d4dce8" stroke-opacity="0.6" stroke-width="0.47" stroke-linecap="round" stroke-linejoin="round"/>
<g fill="#ffffff" fill-opacity="0.85"><circle cx="44.6" cy="17.7" r="0.86"/><circle cx="49.2" cy="11.8" r="0.69"/><circle cx="30.2" cy="11.2" r="0.77"/><circle cx="28.4" cy="12.8" r="0.55"/><circle cx="30.5" cy="28.9" r="0.65"/><circle cx="32.3" cy="30.0" r="0.83"/><circle cx="33.8" cy="36.4" r="0.87"/><circle cx="30.7" cy="38.2" r="0.89"/><circle cx="66.9" cy="39.3" r="0.79"/><circle cx="78.3" cy="28.6" r="0.74"/><circle cx="32.9" cy="66.7" r="0.86"/><circle cx="29.3" cy="68.6" r="0.55"/></g>
<circle cx="41.7" cy="5.6" r="1.43" fill="#d0d8e4" fill-opacity="0.50" filter="url(#bl1)"/>
<circle cx="41.7" cy="5.6" r="0.83" fill="#d0d8e4" fill-opacity="0.90"/>
<circle cx="28" cy="15" r="1.56" fill="#d0d8e4" fill-opacity="0.50" filter="url(#bl1)"/>
<circle cx="28" cy="15" r="0.90" fill="#d0d8e4" fill-opacity="0.90"/>
<circle cx="22.2" cy="26.2" r="1.69" fill="#d0d8e4" fill-opacity="0.50" filter="url(#bl1)"/>
<circle cx="22.2" cy="26.2" r="0.98" fill="#d0d8e4" fill-opacity="0.90"/>
<circle cx="7.5" cy="23.7" r="1.43" fill="#d0d8e4" fill-opacity="0.50" filter="url(#bl1)"/>
<circle cx="7.5" cy="23.7" r="0.83" fill="#d0d8e4" fill-opacity="0.90"/>
<circle cx="49.8" cy="22.4" r="1.56" fill="#d0d8e4" fill-opacity="0.50" filter="url(#bl1)"/>
<circle cx="49.8" cy="22.4" r="0.90" fill="#d0d8e4" fill-opacity="0.90"/>
<circle cx="51" cy="11.8" r="1.43" fill="#d0d8e4" fill-opacity="0.50" filter="url(#bl1)"/>
<circle cx="51" cy="11.8" r="0.83" fill="#d0d8e4" fill-opacity="0.90"/>
<circle cx="57.3" cy="24.3" r="1.43" fill="#d0d8e4" fill-opacity="0.50" filter="url(#bl1)"/>
<circle cx="57.3" cy="24.3" r="0.83" fill="#d0d8e4" fill-opacity="0.90"/>
<circle cx="81" cy="3.1" r="1.69" fill="#d0d8e4" fill-opacity="0.50" filter="url(#bl1)"/>
<circle cx="81" cy="3.1" r="0.98" fill="#d0d8e4" fill-opacity="0.90"/>
<circle cx="94" cy="5" r="1.69" fill="#d0d8e4" fill-opacity="0.50" filter="url(#bl1)"/>
<circle cx="94" cy="5" r="0.98" fill="#d0d8e4" fill-opacity="0.90"/>
<circle cx="83" cy="11.8" r="1.43" fill="#d0d8e4" fill-opacity="0.50" filter="url(#bl1)"/>
<circle cx="83" cy="11.8" r="0.83" fill="#d0d8e4" fill-opacity="0.90"/>
<circle cx="61" cy="8.7" r="1.43" fill="#d0d8e4" fill-opacity="0.50" filter="url(#bl1)"/>
<circle cx="61" cy="8.7" r="0.83" fill="#d0d8e4" fill-opacity="0.90"/>
<circle cx="49.3" cy="21.8" r="1.43" fill="#d0d8e4" fill-opacity="0.50" filter="url(#bl1)"/>
<circle cx="49.3" cy="21.8" r="0.83" fill="#d0d8e4" fill-opacity="0.90"/>
<circle cx="21.8" cy="43.5" r="1.69" fill="#d0d8e4" fill-opacity="0.50" filter="url(#bl1)"/>
<circle cx="21.8" cy="43.5" r="0.98" fill="#d0d8e4" fill-opacity="0.90"/>
<circle cx="15.6" cy="50.7" r="1.69" fill="#d0d8e4" fill-opacity="0.50" filter="url(#bl1)"/>
<circle cx="15.6" cy="50.7" r="0.98" fill="#d0d8e4" fill-opacity="0.90"/>
<circle cx="17.6" cy="54.9" r="1.43" fill="#d0d8e4" fill-opacity="0.50" filter="url(#bl1)"/>
<circle cx="17.6" cy="54.9" r="0.83" fill="#d0d8e4" fill-opacity="0.90"/>
<circle cx="35.3" cy="48.7" r="1.69" fill="#d0d8e4" fill-opacity="0.50" filter="url(#bl1)"/>
<circle cx="35.3" cy="48.7" r="0.98" fill="#d0d8e4" fill-opacity="0.90"/>
<circle cx="28" cy="60" r="1.43" fill="#d0d8e4" fill-opacity="0.50" filter="url(#bl1)"/>
<circle cx="28" cy="60" r="0.83" fill="#d0d8e4" fill-opacity="0.90"/>
<circle cx="11.4" cy="66.3" r="1.43" fill="#d0d8e4" fill-opacity="0.50" filter="url(#bl1)"/>
<circle cx="11.4" cy="66.3" r="0.83" fill="#d0d8e4" fill-opacity="0.90"/>
<circle cx="62.2" cy="52.8" r="1.43" fill="#d0d8e4" fill-opacity="0.50" filter="url(#bl1)"/>
<circle cx="62.2" cy="52.8" r="0.83" fill="#d0d8e4" fill-opacity="0.90"/>
<circle cx="78.8" cy="40.4" r="1.43" fill="#d0d8e4" fill-opacity="0.50" filter="url(#bl1)"/>
<circle cx="78.8" cy="40.4" r="0.83" fill="#d0d8e4" fill-opacity="0.90"/>
<circle cx="91.3" cy="48.7" r="1.43" fill="#d0d8e4" fill-opacity="0.50" filter="url(#bl1)"/>
<circle cx="91.3" cy="48.7" r="0.83" fill="#d0d8e4" fill-opacity="0.90"/>
<circle cx="95.4" cy="42.4" r="1.43" fill="#d0d8e4" fill-opacity="0.50" filter="url(#bl1)"/>
<circle cx="95.4" cy="42.4" r="0.83" fill="#d0d8e4" fill-opacity="0.90"/>
<circle cx="83" cy="57" r="1.43" fill="#d0d8e4" fill-opacity="0.50" filter="url(#bl1)"/>
<circle cx="83" cy="57" r="0.83" fill="#d0d8e4" fill-opacity="0.90"/>
<circle cx="96.5" cy="68.4" r="1.43" fill="#d0d8e4" fill-opacity="0.50" filter="url(#bl1)"/>
<circle cx="96.5" cy="68.4" r="0.83" fill="#d0d8e4" fill-opacity="0.90"/>
<circle cx="44" cy="36" r="1.56" fill="#d0d8e4" fill-opacity="0.50" filter="url(#bl1)"/>
<circle cx="44" cy="36" r="0.90" fill="#d0d8e4" fill-opacity="0.90"/>
<circle cx="50" cy="40" r="1.43" fill="#d0d8e4" fill-opacity="0.50" filter="url(#bl1)"/>
<circle cx="50" cy="40" r="0.83" fill="#d0d8e4" fill-opacity="0.90"/>
<circle cx="56" cy="45" r="1.43" fill="#d0d8e4" fill-opacity="0.50" filter="url(#bl1)"/>
<circle cx="56" cy="45" r="0.83" fill="#d0d8e4" fill-opacity="0.90"/>
</g>
<rect x="0.25" y="0.25" width="99.0" height="72.3" fill="none" stroke="#000" stroke-opacity="0.6" stroke-width="0.5"/>
</g>
<g transform="translate(38,252.7)">
<clipPath id="cp30"><rect x="0" y="0" width="100" height="72.9"/></clipPath>
<g clip-path="url(#cp30)">
<rect x="0" y="0" width="100" height="72.9" fill="#16151e"/>
<radialGradient id="gp300"><stop offset="0" stop-color="#1c1b26" stop-opacity="0.6"/><stop offset="1" stop-color="#1c1b26" stop-opacity="0"/></radialGradient>
<ellipse cx="50" cy="40" rx="45" ry="35" fill="url(#gp300)"/>
<radialGradient id="gp301"><stop offset="0" stop-color="#2c2a30" stop-opacity="0.8"/><stop offset="1" stop-color="#2c2a30" stop-opacity="0"/></radialGradient>
<ellipse cx="2" cy="36" rx="6" ry="40" fill="url(#gp301)"/>
<path d="M20.7,17.6 C20.4,18.5 19.2,21.1 18.7,22.8 C18.2,24.5 18.0,26.3 17.6,28.0 C17.2,29.7 16.8,32.3 16.6,33.2 M23.0,19.5 C22.8,20.3 22.0,22.6 21.5,24.5 C21.0,26.4 20.2,29.9 20.0,31.0 M27.0,33.2 C28.0,33.7 31.7,35.4 33.2,36.3 C34.8,37.2 35.8,38.0 36.3,38.4 M47.7,29.0 C47.5,30.1 46.5,33.4 46.7,35.3 C46.9,37.2 47.8,39.6 48.8,40.5 C49.8,41.4 52.2,40.5 52.9,40.5 M51.9,52.9 C52.9,52.5 56.4,51.8 58.1,50.8 C59.8,49.8 60.7,47.7 62.2,46.7 C63.8,45.7 65.7,45.3 67.4,44.6 C69.1,43.9 71.4,43.4 72.6,42.5 C73.8,41.6 74.3,39.9 74.7,39.4 M67.4,44.6 C68.1,45.6 70.5,48.9 71.6,50.8 C72.6,52.7 73.3,55.1 73.7,56.0 M74.7,40.5 L76.8,47.7" fill="none" stroke="#e2eaf6" stroke-opacity="0.4" stroke-width="3.12" stroke-linecap="round" stroke-linejoin="round" filter="url(#bl1)"/>
<path d="M20.3,17.2 C20.0,18.0 19.0,20.2 18.5,22.0 C18.1,23.7 17.8,25.8 17.6,27.5 C17.4,29.3 17.3,31.7 17.2,32.6 M24.1,20.5 C23.9,21.4 23.0,24.2 22.5,26.2 C22.1,28.3 21.7,31.7 21.5,32.8 M28.4,33.2 C29.3,33.8 32.5,36.1 34.1,37.0 C35.6,38.0 37.2,38.7 37.8,39.1 M48.0,29.9 C47.8,30.9 46.4,33.9 46.5,35.8 C46.6,37.7 47.6,40.5 48.8,41.3 C50.0,42.1 52.7,40.8 53.5,40.7 M50.5,52.4 C51.6,52.1 55.1,51.4 56.8,50.3 C58.6,49.3 59.3,47.1 60.8,46.0 C62.3,45.0 64.1,44.7 65.9,44.0 C67.7,43.4 70.1,43.0 71.4,42.1 C72.8,41.2 73.5,39.3 74.0,38.7 M66.6,45.8 C67.3,46.9 69.4,50.6 70.4,52.4 C71.3,54.3 71.9,56.2 72.2,57.0 M75.4,41.3 L77.4,48.1" fill="none" stroke="#e2eaf6" stroke-opacity="0.45" stroke-width="0.54" stroke-linecap="round" stroke-linejoin="round"/>
<path d="M19.8,16.7 C19.5,17.6 18.7,20.4 18.2,22.1 C17.7,23.8 17.2,25.4 16.8,27.1 C16.5,28.8 16.1,31.4 16.0,32.3 M24.0,19.8 C23.7,20.7 22.8,23.2 22.3,25.1 C21.9,27.1 21.5,30.4 21.3,31.4 M26.1,33.6 C27.1,34.1 30.7,36.0 32.2,36.9 C33.8,37.8 35.0,38.5 35.6,38.8 M48.1,29.3 C47.9,30.4 46.8,34.0 47.0,36.0 C47.3,38.0 48.5,40.4 49.6,41.2 C50.7,42.1 52.8,41.2 53.5,41.2 M50.8,53.5 C51.9,53.3 55.8,53.1 57.5,52.2 C59.2,51.2 59.4,49.0 60.9,47.8 C62.4,46.7 64.6,45.9 66.4,45.3 C68.1,44.6 70.3,44.8 71.5,44.0 C72.7,43.2 73.2,41.2 73.6,40.7 M68.2,45.7 C68.9,46.7 71.2,49.8 72.2,51.5 C73.2,53.3 74.0,55.6 74.4,56.4 M74.7,40.9 L76.5,48.4" fill="none" stroke="#e2eaf6" stroke-opacity="0.45" stroke-width="0.54" stroke-linecap="round" stroke-linejoin="round"/>
<path d="M19.8,16.4 C19.4,17.3 17.8,19.9 17.2,21.6 C16.7,23.3 16.8,24.9 16.5,26.7 C16.3,28.5 15.8,31.5 15.7,32.4 M23.9,20.3 C23.6,21.1 22.6,23.5 22.0,25.4 C21.4,27.2 20.7,30.5 20.4,31.5 M27.2,33.4 C28.3,33.9 32.2,35.5 33.9,36.3 C35.5,37.1 36.5,38.0 37.0,38.3 M46.6,29.0 C46.4,30.0 45.4,32.9 45.7,34.9 C45.9,36.8 47.1,39.8 48.2,40.6 C49.3,41.4 51.6,40.0 52.2,39.9 M51.5,51.7 C52.4,51.5 55.5,51.2 57.1,50.1 C58.7,49.0 59.5,46.2 61.1,45.1 C62.8,44.0 65.3,44.0 67.2,43.4 C69.0,42.8 71.2,42.3 72.3,41.5 C73.4,40.6 73.5,38.8 73.7,38.3 M68.4,43.1 C69.1,44.1 71.3,47.4 72.3,49.3 C73.4,51.2 74.3,53.7 74.7,54.6 M74.8,39.0 L76.8,46.0" fill="none" stroke="#e2eaf6" stroke-opacity="0.45" stroke-width="0.54" stroke-linecap="round" stroke-linejoin="round"/>
<path d="M19.4,18.1 C19.1,18.9 18.3,21.3 17.8,23.0 C17.3,24.7 17.0,26.4 16.5,28.2 C16.1,30.1 15.3,33.0 15.1,33.9 M23.2,20.7 C22.9,21.5 21.7,23.8 21.2,25.6 C20.7,27.5 20.2,30.8 20.0,31.8 M25.5,32.5 C26.6,32.9 30.4,34.1 32.0,35.0 C33.7,35.9 34.7,37.4 35.3,37.9 M49.0,27.9 C48.8,28.9 47.7,32.1 47.9,34.0 C48.0,35.9 48.9,38.3 50.0,39.2 C51.0,40.0 53.3,39.0 54.0,39.0 M52.9,53.8 C53.8,53.4 56.8,52.5 58.4,51.5 C59.9,50.6 60.7,48.8 62.3,47.9 C63.8,46.9 65.7,46.3 67.6,45.6 C69.5,44.9 72.2,44.5 73.5,43.7 C74.8,42.9 75.1,41.2 75.4,40.7 M67.8,45.2 C68.4,46.4 70.5,50.2 71.5,52.1 C72.5,54.1 73.3,56.1 73.6,56.9 M76.0,41.0 L77.4,48.7" fill="none" stroke="#e2eaf6" stroke-opacity="0.45" stroke-width="0.54" stroke-linecap="round" stroke-linejoin="round"/>
<path d="M20.7,17.6 C20.4,18.5 19.2,21.1 18.7,22.8 C18.2,24.5 18.0,26.3 17.6,28.0 C17.2,29.7 16.8,32.3 16.6,33.2 M23.0,19.5 C22.8,20.3 22.0,22.6 21.5,24.5 C21.0,26.4 20.2,29.9 20.0,31.0 M27.0,33.2 C28.0,33.7 31.7,35.4 33.2,36.3 C34.8,37.2 35.8,38.0 36.3,38.4 M47.7,29.0 C47.5,30.1 46.5,33.4 46.7,35.3 C46.9,37.2 47.8,39.6 48.8,40.5 C49.8,41.4 52.2,40.5 52.9,40.5 M51.9,52.9 C52.9,52.5 56.4,51.8 58.1,50.8 C59.8,49.8 60.7,47.7 62.2,46.7 C63.8,45.7 65.7,45.3 67.4,44.6 C69.1,43.9 71.4,43.4 72.6,42.5 C73.8,41.6 74.3,39.9 74.7,39.4 M67.4,44.6 C68.1,45.6 70.5,48.9 71.6,50.8 C72.6,52.7 73.3,55.1 73.7,56.0 M74.7,40.5 L76.8,47.7" fill="none" stroke="#e2eaf6" stroke-opacity="0.75" stroke-width="0.66" stroke-linecap="round" stroke-linejoin="round"/>
<g fill="#ffffff" fill-opacity="0.85"><circle cx="21.5" cy="24.5" r="0.57"/><circle cx="20.3" cy="29.7" r="0.85"/><circle cx="27.1" cy="33.3" r="0.58"/><circle cx="49.6" cy="40.5" r="0.52"/><circle cx="70.3" cy="48.9" r="0.65"/><circle cx="70.2" cy="48.7" r="0.89"/><circle cx="75.2" cy="42.3" r="0.89"/><circle cx="76.7" cy="47.4" r="0.73"/></g>
<circle cx="49.8" cy="3.1" r="2.10" fill="#c8d0e0" fill-opacity="0.35" filter="url(#bl1)"/>
<circle cx="49.8" cy="3.1" r="1.35" fill="none" stroke="#c8d0e0" stroke-width="0.6" stroke-opacity="0.85"/>
<circle cx="49.5" cy="2.8" r="0.52" fill="#c8d0e0" fill-opacity="0.85"/>
<circle cx="52.9" cy="10" r="1.82" fill="#c8d0e0" fill-opacity="0.35" filter="url(#bl1)"/>
<circle cx="52.9" cy="10" r="1.17" fill="none" stroke="#c8d0e0" stroke-width="0.6" stroke-opacity="0.85"/>
<circle cx="52.6" cy="9.7" r="0.45" fill="#c8d0e0" fill-opacity="0.85"/>
<circle cx="57.7" cy="19.1" r="2.10" fill="#c8d0e0" fill-opacity="0.35" filter="url(#bl1)"/>
<circle cx="57.7" cy="19.1" r="1.35" fill="none" stroke="#c8d0e0" stroke-width="0.6" stroke-opacity="0.85"/>
<circle cx="57.4" cy="18.8" r="0.52" fill="#c8d0e0" fill-opacity="0.85"/>
<circle cx="76.8" cy="23.2" r="1.96" fill="#c8d0e0" fill-opacity="0.35" filter="url(#bl1)"/>
<circle cx="76.8" cy="23.2" r="1.26" fill="none" stroke="#c8d0e0" stroke-width="0.6" stroke-opacity="0.85"/>
<circle cx="76.5" cy="22.9" r="0.49" fill="#c8d0e0" fill-opacity="0.85"/>
<circle cx="40.5" cy="32.2" r="1.96" fill="#c8d0e0" fill-opacity="0.35" filter="url(#bl1)"/>
<circle cx="40.5" cy="32.2" r="1.26" fill="none" stroke="#c8d0e0" stroke-width="0.6" stroke-opacity="0.85"/>
<circle cx="40.2" cy="31.9" r="0.49" fill="#c8d0e0" fill-opacity="0.85"/>
<circle cx="13.5" cy="32.2" r="1.82" fill="#c8d0e0" fill-opacity="0.35" filter="url(#bl1)"/>
<circle cx="13.5" cy="32.2" r="1.17" fill="none" stroke="#c8d0e0" stroke-width="0.6" stroke-opacity="0.85"/>
<circle cx="13.2" cy="31.9" r="0.45" fill="#c8d0e0" fill-opacity="0.85"/>
<circle cx="31.5" cy="29.5" r="1.82" fill="#c8d0e0" fill-opacity="0.35" filter="url(#bl1)"/>
<circle cx="31.5" cy="29.5" r="1.17" fill="none" stroke="#c8d0e0" stroke-width="0.6" stroke-opacity="0.85"/>
<circle cx="31.2" cy="29.2" r="0.45" fill="#c8d0e0" fill-opacity="0.85"/>
<circle cx="17.6" cy="55" r="1.96" fill="#c8d0e0" fill-opacity="0.35" filter="url(#bl1)"/>
<circle cx="17.6" cy="55" r="1.26" fill="none" stroke="#c8d0e0" stroke-width="0.6" stroke-opacity="0.85"/>
<circle cx="17.3" cy="54.7" r="0.49" fill="#c8d0e0" fill-opacity="0.85"/>
<circle cx="32.8" cy="63.3" r="1.82" fill="#c8d0e0" fill-opacity="0.35" filter="url(#bl1)"/>
<circle cx="32.8" cy="63.3" r="1.17" fill="none" stroke="#c8d0e0" stroke-width="0.6" stroke-opacity="0.85"/>
<circle cx="32.5" cy="63.0" r="0.45" fill="#c8d0e0" fill-opacity="0.85"/>
<circle cx="47.7" cy="62.2" r="1.96" fill="#c8d0e0" fill-opacity="0.35" filter="url(#bl1)"/>
<circle cx="47.7" cy="62.2" r="1.26" fill="none" stroke="#c8d0e0" stroke-width="0.6" stroke-opacity="0.85"/>
<circle cx="47.4" cy="61.9" r="0.49" fill="#c8d0e0" fill-opacity="0.85"/>
<circle cx="97.5" cy="19.7" r="1.82" fill="#c8d0e0" fill-opacity="0.35" filter="url(#bl1)"/>
<circle cx="97.5" cy="19.7" r="1.17" fill="none" stroke="#c8d0e0" stroke-width="0.6" stroke-opacity="0.85"/>
<circle cx="97.2" cy="19.4" r="0.45" fill="#c8d0e0" fill-opacity="0.85"/>
<ellipse cx="86.7" cy="14.9" rx="2.2" ry="1.76" fill="#c8d0e0" fill-opacity="0.28" stroke="#c8d0e0" stroke-opacity="0.6" stroke-width="0.6" filter="url(#bl0)"/>
<ellipse cx="66.4" cy="23.9" rx="2" ry="1.60" fill="#c8d0e0" fill-opacity="0.28" stroke="#c8d0e0" stroke-opacity="0.6" stroke-width="0.6" filter="url(#bl0)"/>
<ellipse cx="78.4" cy="34.2" rx="2" ry="1.60" fill="#c8d0e0" fill-opacity="0.28" stroke="#c8d0e0" stroke-opacity="0.6" stroke-width="0.6" filter="url(#bl0)"/>
</g>
<rect x="0.25" y="0.25" width="99.5" height="72.4" fill="none" stroke="#000" stroke-opacity="0.6" stroke-width="0.5"/>
</g>
<g transform="translate(140,252.7)">
<clipPath id="cp31"><rect x="0" y="0" width="100" height="72.9"/></clipPath>
<g clip-path="url(#cp31)">
<rect x="0" y="0" width="100" height="72.9" fill="#121216"/>
<radialGradient id="gp310"><stop offset="0" stop-color="#2a2418" stop-opacity="0.9"/><stop offset="1" stop-color="#2a2418" stop-opacity="0"/></radialGradient>
<ellipse cx="12" cy="62" rx="40" ry="25" fill="url(#gp310)"/>
<radialGradient id="gp311"><stop offset="0" stop-color="#242832" stop-opacity="0.6"/><stop offset="1" stop-color="#242832" stop-opacity="0"/></radialGradient>
<ellipse cx="40" cy="33" rx="25" ry="20" fill="url(#gp311)"/>
<circle cx="39" cy="32" r="3.5" fill="#c8d2e0" fill-opacity="0.55" filter="url(#bl1)"/>
<circle cx="39" cy="32" r="1.57" fill="#e3e8ef" fill-opacity="0.33"/>
<circle cx="27.5" cy="62" r="3" fill="#c8c2b4" fill-opacity="0.55" filter="url(#bl1)"/>
<circle cx="27.5" cy="62" r="1.35" fill="#e3e0d9" fill-opacity="0.33"/>
<circle cx="5.2" cy="17.6" r="2.2" fill="#b8bcc4" fill-opacity="0.5" filter="url(#bl1)"/>
<circle cx="5.2" cy="17.6" r="0.99" fill="#dbdde1" fill-opacity="0.30"/>
<path d="M30.0,8.3 C30.2,9.3 30.4,12.6 31.1,14.5 C31.8,16.4 33.2,17.8 34.2,19.7 C35.2,21.6 36.2,24.2 37.3,25.9 C38.3,27.6 40.0,29.3 40.5,30.0 M26.0,15.6 L33.2,19.7 M35.3,29.0 C35.9,29.3 37.6,30.3 39.0,31.0 C40.4,31.7 43.4,32.7 43.6,33.2 C43.8,33.7 40.6,33.9 40.0,34.0 M40.5,30.0 C39.6,31.4 36.9,36.1 35.3,38.4 C33.7,40.7 32.1,41.7 31.1,43.6 C30.1,45.5 29.5,47.4 29.0,49.8 C28.5,52.2 28.0,55.3 28.0,58.1 C28.0,60.9 28.8,65.0 29.0,66.4 M31.1,43.6 C29.7,43.8 25.7,44.4 22.8,44.6 C19.9,44.8 15.1,44.6 13.5,44.6 M43.6,36.3 C45.1,37.2 49.8,40.1 52.9,41.5 C56.0,42.9 59.3,43.7 62.2,44.6 C65.1,45.5 67.7,46.4 70.5,46.7 C73.3,47.1 76.7,47.1 78.8,46.7 C80.9,46.4 82.3,45.0 83.0,44.6 M62.2,3.1 C62.9,4.0 65.0,7.1 66.4,8.3 C67.8,9.5 68.8,10.1 70.5,10.4 C72.2,10.7 75.8,10.1 76.8,10.0 M68.5,10.4 C68.2,11.3 67.1,14.4 66.4,15.6 C65.7,16.8 64.7,17.3 64.3,17.6 M71.6,61.2 C72.3,61.7 74.3,62.8 75.7,64.3 C77.1,65.8 79.2,69.5 79.9,70.5 M25.0,60.0 C25.5,60.5 27.7,61.7 28.0,63.0 C28.3,64.3 27.2,67.2 27.0,68.0 M20.7,32.2 L27.0,34.2" fill="none" stroke="#e2eaf4" stroke-opacity="0.4" stroke-width="3.12" stroke-linecap="round" stroke-linejoin="round" filter="url(#bl1)"/>
<path d="M28.3,7.3 C28.5,8.2 28.5,10.9 29.1,12.8 C29.8,14.7 31.3,16.7 32.3,18.7 C33.4,20.8 34.2,23.3 35.3,24.9 C36.5,26.5 38.5,27.8 39.1,28.4 M26.0,16.0 L32.9,19.0 M36.4,28.5 C37.0,28.9 38.9,30.5 40.3,31.2 C41.6,31.9 44.5,32.1 44.7,32.6 C44.9,33.0 42.0,33.5 41.5,33.7 M41.8,30.8 C41.0,32.3 38.8,37.7 37.1,40.0 C35.5,42.4 33.1,43.1 32.0,44.9 C31.0,46.8 31.3,48.6 30.9,51.1 C30.4,53.5 29.2,56.8 29.1,59.5 C29.1,62.2 30.4,65.9 30.7,67.1 M31.0,42.5 C29.7,42.7 25.9,43.3 23.1,43.6 C20.2,43.8 15.6,44.0 14.1,44.1 M45.6,38.1 C47.1,38.9 51.1,41.3 54.2,42.7 C57.2,44.0 60.8,45.3 63.8,46.2 C66.8,47.0 69.5,47.3 72.2,47.8 C74.9,48.2 77.9,48.9 79.9,48.7 C82.0,48.5 83.8,46.7 84.6,46.3 M61.4,2.9 C62.1,3.7 64.4,6.4 65.7,7.6 C67.0,8.9 67.5,10.0 69.2,10.4 C70.8,10.8 74.4,10.1 75.4,10.0 M68.2,9.7 C67.9,10.4 66.8,12.9 66.2,14.0 C65.5,15.2 64.6,16.2 64.3,16.6 M72.7,61.4 C73.4,61.9 75.2,62.6 76.6,64.1 C78.0,65.6 80.4,69.5 81.2,70.6 M23.1,59.0 C23.7,59.6 26.3,61.0 26.7,62.3 C27.2,63.5 26.0,65.8 25.8,66.5 M21.4,33.2 L27.7,35.5" fill="none" stroke="#e2eaf4" stroke-opacity="0.45" stroke-width="0.54" stroke-linecap="round" stroke-linejoin="round"/>
<path d="M28.5,7.3 C28.7,8.2 28.8,11.4 29.6,13.2 C30.3,14.9 31.7,16.1 32.8,17.9 C34.0,19.7 35.6,22.5 36.6,24.2 C37.7,26.0 38.7,27.8 39.1,28.5 M27.0,15.6 L33.9,20.0 M35.1,29.3 C35.7,29.7 37.0,31.2 38.5,32.0 C39.9,32.9 43.5,33.9 43.8,34.4 C44.0,34.9 40.7,34.7 40.1,34.8 M39.0,31.0 C38.1,32.4 35.4,37.1 33.8,39.4 C32.3,41.7 30.8,42.7 29.8,44.6 C28.9,46.6 28.7,48.5 28.2,51.0 C27.6,53.5 26.6,56.7 26.6,59.5 C26.6,62.4 27.9,66.5 28.2,67.9 M30.0,43.7 C28.5,44.0 24.0,45.1 21.0,45.3 C17.9,45.5 13.4,44.9 11.9,44.9 M44.3,35.6 C45.9,36.6 50.6,39.9 53.7,41.4 C56.9,42.8 60.2,43.7 63.1,44.5 C66.0,45.3 68.2,45.8 71.0,46.0 C73.8,46.3 77.8,46.5 80.0,46.3 C82.1,46.1 83.3,45.0 84.0,44.7 M61.0,2.1 C61.7,2.9 64.1,6.1 65.5,7.3 C66.8,8.4 67.5,8.5 69.2,8.8 C71.0,9.2 74.8,9.2 76.0,9.3 M68.0,11.6 C67.6,12.4 66.8,15.3 66.1,16.6 C65.4,17.9 64.2,18.9 63.8,19.3 M71.3,60.7 C72.0,61.2 74.0,62.0 75.5,63.6 C76.9,65.2 79.3,69.3 80.1,70.4 M26.0,59.8 C26.4,60.4 28.2,61.9 28.4,63.3 C28.7,64.6 27.8,67.0 27.6,67.8 M20.1,33.5 L26.2,35.7" fill="none" stroke="#e2eaf4" stroke-opacity="0.45" stroke-width="0.54" stroke-linecap="round" stroke-linejoin="round"/>
<path d="M31.1,8.1 C31.1,9.0 30.6,11.7 31.2,13.7 C31.8,15.6 33.7,17.8 34.8,19.7 C35.8,21.6 36.5,23.3 37.5,24.8 C38.5,26.4 40.3,28.2 40.9,28.9 M25.6,15.3 L32.4,20.2 M35.1,29.1 C35.8,29.5 37.8,30.7 39.3,31.3 C40.7,31.9 43.6,32.6 43.7,33.0 C43.7,33.3 40.1,33.4 39.4,33.5 M41.7,29.0 C40.8,30.3 37.8,34.6 36.2,36.9 C34.7,39.1 33.1,40.7 32.2,42.7 C31.2,44.7 30.9,46.4 30.4,48.8 C29.8,51.1 28.7,54.3 28.6,56.9 C28.6,59.6 29.9,63.5 30.1,64.9 M32.6,44.6 C31.2,44.7 27.3,45.1 24.3,45.3 C21.3,45.4 16.2,45.6 14.6,45.7 M43.5,35.6 C45.2,36.3 50.1,38.7 53.2,39.9 C56.2,41.2 59.1,42.1 61.9,43.1 C64.8,44.2 67.4,45.7 70.2,46.1 C72.9,46.4 76.5,45.8 78.6,45.3 C80.6,44.9 81.9,43.7 82.6,43.4 M62.4,2.3 C63.1,3.3 65.3,6.9 66.7,8.3 C68.1,9.6 69.0,9.9 70.7,10.2 C72.4,10.4 75.9,9.9 76.9,9.8 M67.7,10.8 C67.3,11.8 65.9,15.6 65.2,16.8 C64.5,18.1 63.9,18.2 63.6,18.5 M71.1,61.3 C71.8,61.9 73.9,63.1 75.3,64.7 C76.8,66.3 79.1,70.1 79.8,71.2 M26.1,58.9 C26.6,59.5 29.0,60.9 29.3,62.2 C29.6,63.5 28.2,66.1 27.9,66.9 M21.6,31.8 L28.0,33.5" fill="none" stroke="#e2eaf4" stroke-opacity="0.45" stroke-width="0.54" stroke-linecap="round" stroke-linejoin="round"/>
<path d="M30.9,9.3 C31.1,10.4 31.5,13.7 32.4,15.6 C33.2,17.6 34.8,19.2 35.9,21.2 C36.9,23.2 37.4,26.1 38.5,27.8 C39.5,29.4 41.5,30.6 42.1,31.1 M25.8,14.2 L33.5,18.5 M35.3,30.1 C35.9,30.5 37.4,31.8 38.6,32.5 C39.9,33.1 42.7,33.7 42.9,34.1 C43.1,34.5 40.5,34.8 40.0,34.9 M41.3,30.6 C40.5,32.1 38.0,37.1 36.4,39.5 C34.7,41.9 32.4,43.0 31.3,44.8 C30.2,46.6 30.3,48.1 29.8,50.3 C29.3,52.6 28.3,55.5 28.3,58.4 C28.3,61.3 29.7,66.0 30.0,67.6 M30.1,42.5 C28.8,42.6 25.0,42.8 22.1,43.1 C19.2,43.3 14.3,43.8 12.8,43.9 M42.2,35.6 C43.7,36.5 48.0,39.2 51.0,40.7 C54.0,42.3 57.3,43.8 60.4,44.8 C63.5,45.8 66.6,46.4 69.5,46.6 C72.4,46.9 75.9,46.5 77.9,46.2 C79.8,45.9 80.7,45.0 81.3,44.7 M62.4,4.4 C63.1,5.3 65.6,8.9 67.0,10.1 C68.3,11.3 68.9,11.3 70.5,11.5 C72.1,11.7 75.6,11.4 76.6,11.4 M69.5,10.8 C69.2,11.6 68.5,14.2 67.9,15.4 C67.4,16.6 66.4,17.6 66.1,18.0 M71.2,60.7 C71.9,61.1 74.0,61.9 75.5,63.5 C77.0,65.1 79.3,69.1 80.0,70.2 M26.4,61.7 C26.9,62.2 29.0,63.0 29.3,64.4 C29.7,65.8 28.7,69.1 28.5,70.0 M19.1,32.4 L26.0,34.1" fill="none" stroke="#e2eaf4" stroke-opacity="0.45" stroke-width="0.54" stroke-linecap="round" stroke-linejoin="round"/>
<path d="M28.8,8.8 C29.0,9.8 29.4,12.8 30.1,14.8 C30.8,16.7 32.0,18.4 32.9,20.3 C33.8,22.2 34.4,24.2 35.4,25.9 C36.5,27.7 38.7,30.0 39.4,30.8 M27.9,14.7 L34.6,18.6 M35.8,29.2 C36.3,29.4 37.5,30.3 38.9,30.8 C40.3,31.4 43.9,32.0 44.0,32.6 C44.2,33.2 40.5,33.9 39.8,34.1 M40.7,30.8 C39.9,32.2 37.3,36.6 35.8,38.8 C34.3,40.9 32.7,42.0 31.8,43.9 C30.8,45.8 30.6,47.7 30.1,50.2 C29.6,52.6 28.8,56.1 28.8,58.8 C28.8,61.5 29.9,65.2 30.1,66.4 M30.7,44.9 C29.4,45.0 25.7,45.5 22.7,45.6 C19.7,45.7 14.4,45.6 12.7,45.6 M43.9,36.2 C45.5,37.1 50.0,40.3 53.2,41.7 C56.4,43.1 60.0,43.7 63.0,44.4 C66.1,45.2 68.7,45.8 71.5,46.1 C74.2,46.5 77.5,46.5 79.4,46.3 C81.4,46.0 82.5,44.9 83.1,44.6 M60.5,1.6 C61.3,2.4 64.1,5.4 65.4,6.7 C66.8,8.0 67.0,8.9 68.8,9.3 C70.5,9.8 74.7,9.2 75.8,9.2 M67.0,9.9 C66.7,10.7 65.7,13.9 65.0,15.0 C64.3,16.1 63.0,16.2 62.5,16.5 M72.2,60.7 C73.0,61.2 75.2,62.1 76.7,63.6 C78.1,65.2 80.2,69.1 80.9,70.2 M25.0,58.7 C25.7,59.3 28.4,60.8 28.8,62.3 C29.2,63.8 27.7,66.7 27.5,67.6 M21.4,31.4 L27.3,33.7" fill="none" stroke="#e2eaf4" stroke-opacity="0.45" stroke-width="0.54" stroke-linecap="round" stroke-linejoin="round"/>
<path d="M30.0,8.3 C30.2,9.3 30.4,12.6 31.1,14.5 C31.8,16.4 33.2,17.8 34.2,19.7 C35.2,21.6 36.2,24.2 37.3,25.9 C38.3,27.6 40.0,29.3 40.5,30.0 M26.0,15.6 L33.2,19.7 M35.3,29.0 C35.9,29.3 37.6,30.3 39.0,31.0 C40.4,31.7 43.4,32.7 43.6,33.2 C43.8,33.7 40.6,33.9 40.0,34.0 M40.5,30.0 C39.6,31.4 36.9,36.1 35.3,38.4 C33.7,40.7 32.1,41.7 31.1,43.6 C30.1,45.5 29.5,47.4 29.0,49.8 C28.5,52.2 28.0,55.3 28.0,58.1 C28.0,60.9 28.8,65.0 29.0,66.4 M31.1,43.6 C29.7,43.8 25.7,44.4 22.8,44.6 C19.9,44.8 15.1,44.6 13.5,44.6 M43.6,36.3 C45.1,37.2 49.8,40.1 52.9,41.5 C56.0,42.9 59.3,43.7 62.2,44.6 C65.1,45.5 67.7,46.4 70.5,46.7 C73.3,47.1 76.7,47.1 78.8,46.7 C80.9,46.4 82.3,45.0 83.0,44.6 M62.2,3.1 C62.9,4.0 65.0,7.1 66.4,8.3 C67.8,9.5 68.8,10.1 70.5,10.4 C72.2,10.7 75.8,10.1 76.8,10.0 M68.5,10.4 C68.2,11.3 67.1,14.4 66.4,15.6 C65.7,16.8 64.7,17.3 64.3,17.6 M71.6,61.2 C72.3,61.7 74.3,62.8 75.7,64.3 C77.1,65.8 79.2,69.5 79.9,70.5 M25.0,60.0 C25.5,60.5 27.7,61.7 28.0,63.0 C28.3,64.3 27.2,67.2 27.0,68.0 M20.7,32.2 L27.0,34.2" fill="none" stroke="#e2eaf4" stroke-opacity="0.75" stroke-width="0.66" stroke-linecap="round" stroke-linejoin="round"/>
<g fill="#ffffff" fill-opacity="0.85"><circle cx="38.9" cy="28.0" r="0.54"/><circle cx="27.1" cy="16.2" r="0.50"/><circle cx="31.9" cy="18.9" r="0.60"/><circle cx="38.1" cy="30.5" r="0.58"/><circle cx="28.8" cy="64.8" r="0.78"/><circle cx="24.3" cy="44.4" r="0.60"/><circle cx="73.6" cy="46.7" r="0.82"/><circle cx="72.8" cy="10.3" r="0.85"/><circle cx="62.6" cy="3.6" r="0.75"/><circle cx="64.6" cy="17.3" r="0.76"/><circle cx="75.5" cy="64.1" r="0.76"/><circle cx="73.9" cy="62.9" r="0.79"/><circle cx="26.6" cy="61.6" r="0.84"/><circle cx="27.4" cy="66.0" r="0.60"/><circle cx="24.4" cy="33.4" r="0.50"/></g>
<circle cx="3.7" cy="7.9" r="1.82" fill="#c8d0de" fill-opacity="0.35" filter="url(#bl1)"/>
<circle cx="3.7" cy="7.9" r="1.17" fill="none" stroke="#c8d0de" stroke-width="0.6" stroke-opacity="0.70"/>
<circle cx="3.4" cy="7.6" r="0.45" fill="#c8d0de" fill-opacity="0.70"/>
<circle cx="5.2" cy="17.6" r="2.52" fill="#c8d0de" fill-opacity="0.35" filter="url(#bl1)"/>
<circle cx="5.2" cy="17.6" r="1.62" fill="none" stroke="#c8d0de" stroke-width="0.6" stroke-opacity="0.70"/>
<circle cx="4.9" cy="17.3" r="0.63" fill="#c8d0de" fill-opacity="0.70"/>
<circle cx="13.5" cy="26.6" r="2.10" fill="#c8d0de" fill-opacity="0.35" filter="url(#bl1)"/>
<circle cx="13.5" cy="26.6" r="1.35" fill="none" stroke="#c8d0de" stroke-width="0.6" stroke-opacity="0.70"/>
<circle cx="13.2" cy="26.3" r="0.52" fill="#c8d0de" fill-opacity="0.70"/>
<circle cx="1" cy="31.1" r="1.82" fill="#c8d0de" fill-opacity="0.35" filter="url(#bl1)"/>
<circle cx="1" cy="31.1" r="1.17" fill="none" stroke="#c8d0de" stroke-width="0.6" stroke-opacity="0.70"/>
<circle cx="0.7" cy="30.8" r="0.45" fill="#c8d0de" fill-opacity="0.70"/>
<circle cx="20.3" cy="32.2" r="1.96" fill="#c8d0de" fill-opacity="0.35" filter="url(#bl1)"/>
<circle cx="20.3" cy="32.2" r="1.26" fill="none" stroke="#c8d0de" stroke-width="0.6" stroke-opacity="0.70"/>
<circle cx="20.0" cy="31.9" r="0.49" fill="#c8d0de" fill-opacity="0.70"/>
<circle cx="3.1" cy="43.2" r="1.82" fill="#c8d0de" fill-opacity="0.35" filter="url(#bl1)"/>
<circle cx="3.1" cy="43.2" r="1.17" fill="none" stroke="#c8d0de" stroke-width="0.6" stroke-opacity="0.70"/>
<circle cx="2.8" cy="42.9" r="0.45" fill="#c8d0de" fill-opacity="0.70"/>
<circle cx="55.6" cy="31.1" r="1.82" fill="#c8d0de" fill-opacity="0.35" filter="url(#bl1)"/>
<circle cx="55.6" cy="31.1" r="1.17" fill="none" stroke="#c8d0de" stroke-width="0.6" stroke-opacity="0.70"/>
<circle cx="55.3" cy="30.8" r="0.45" fill="#c8d0de" fill-opacity="0.70"/>
<circle cx="47.3" cy="45.6" r="2.10" fill="#c8d0de" fill-opacity="0.35" filter="url(#bl1)"/>
<circle cx="47.3" cy="45.6" r="1.35" fill="none" stroke="#c8d0de" stroke-width="0.6" stroke-opacity="0.70"/>
<circle cx="47.0" cy="45.3" r="0.52" fill="#c8d0de" fill-opacity="0.70"/>
<circle cx="77.2" cy="25.9" r="1.82" fill="#c8d0de" fill-opacity="0.35" filter="url(#bl1)"/>
<circle cx="77.2" cy="25.9" r="1.17" fill="none" stroke="#c8d0de" stroke-width="0.6" stroke-opacity="0.70"/>
<circle cx="76.9" cy="25.6" r="0.45" fill="#c8d0de" fill-opacity="0.70"/>
<circle cx="96.5" cy="45.6" r="1.82" fill="#c8d0de" fill-opacity="0.35" filter="url(#bl1)"/>
<circle cx="96.5" cy="45.6" r="1.17" fill="none" stroke="#c8d0de" stroke-width="0.6" stroke-opacity="0.70"/>
<circle cx="96.2" cy="45.3" r="0.45" fill="#c8d0de" fill-opacity="0.70"/>
<circle cx="70.1" cy="42.5" r="1.82" fill="#c8d0de" fill-opacity="0.35" filter="url(#bl1)"/>
<circle cx="70.1" cy="42.5" r="1.17" fill="none" stroke="#c8d0de" stroke-width="0.6" stroke-opacity="0.70"/>
<circle cx="69.8" cy="42.2" r="0.45" fill="#c8d0de" fill-opacity="0.70"/>
<circle cx="19.7" cy="70.5" r="1.82" fill="#c8d0de" fill-opacity="0.35" filter="url(#bl1)"/>
<circle cx="19.7" cy="70.5" r="1.17" fill="none" stroke="#c8d0de" stroke-width="0.6" stroke-opacity="0.70"/>
<circle cx="19.4" cy="70.2" r="0.45" fill="#c8d0de" fill-opacity="0.70"/>
<ellipse cx="51.5" cy="24.5" rx="2" ry="1.60" fill="#c8d0de" fill-opacity="0.28" stroke="#c8d0de" stroke-opacity="0.6" stroke-width="0.6" filter="url(#bl0)"/>
<ellipse cx="87.1" cy="38.4" rx="2.2" ry="1.76" fill="#c8d0de" fill-opacity="0.28" stroke="#c8d0de" stroke-opacity="0.6" stroke-width="0.6" filter="url(#bl0)"/>
<ellipse cx="71.6" cy="55" rx="2" ry="1.60" fill="#c8d0de" fill-opacity="0.28" stroke="#c8d0de" stroke-opacity="0.6" stroke-width="0.6" filter="url(#bl0)"/>
</g>
<rect x="0.25" y="0.25" width="99.5" height="72.4" fill="none" stroke="#000" stroke-opacity="0.6" stroke-width="0.5"/>
</g>
<g transform="translate(242,252.7)">
<clipPath id="cp32"><rect x="0" y="0" width="99.5" height="72.9"/></clipPath>
<g clip-path="url(#cp32)">
<rect x="0" y="0" width="99.5" height="72.9" fill="#0f0f11"/>
<radialGradient id="gp320"><stop offset="0" stop-color="#24262c" stop-opacity="0.8"/><stop offset="1" stop-color="#24262c" stop-opacity="0"/></radialGradient>
<ellipse cx="50" cy="40" rx="28" ry="38" fill="url(#gp320)"/>
<circle cx="81" cy="20.7" r="3.5" fill="#5a6068" fill-opacity="0.55" filter="url(#bl1)"/>
<circle cx="97" cy="35" r="3" fill="#4a5058" fill-opacity="0.5" filter="url(#bl1)"/>
<circle cx="89" cy="59" r="3" fill="#4a5058" fill-opacity="0.5" filter="url(#bl1)"/>
<circle cx="87" cy="66" r="3" fill="#4a5058" fill-opacity="0.45" filter="url(#bl1)"/>
<circle cx="82" cy="7" r="3" fill="#4a5058" fill-opacity="0.4" filter="url(#bl1)"/>
<circle cx="32" cy="23" r="3" fill="#4a5058" fill-opacity="0.45" filter="url(#bl1)"/>
<circle cx="4.1" cy="25.9" r="2.6" fill="#c0c4cc" fill-opacity="0.6" filter="url(#bl1)"/>
<circle cx="4.1" cy="25.9" r="1.17" fill="#dfe1e5" fill-opacity="0.36"/>
<circle cx="7.3" cy="32.2" r="2.4" fill="#c0c4cc" fill-opacity="0.6" filter="url(#bl1)"/>
<circle cx="7.3" cy="32.2" r="1.08" fill="#dfe1e5" fill-opacity="0.36"/>
<path d="M47.0,2.0 C47.3,3.7 48.3,8.7 49.0,12.0 C49.7,15.3 50.2,18.7 51.0,22.0 C51.8,25.3 53.3,28.7 54.0,32.0 C54.7,35.3 54.5,38.7 55.0,42.0 C55.5,45.3 56.8,48.7 57.0,52.0 C57.2,55.3 56.3,58.5 56.0,62.0 C55.7,65.5 55.2,71.2 55.0,73.0 M56.0,2.0 C55.7,3.3 54.7,7.3 54.0,10.0 C53.3,12.7 52.2,15.0 52.0,18.0 C51.8,21.0 52.2,25.0 53.0,28.0 C53.8,31.0 56.2,33.0 57.0,36.0 C57.8,39.0 57.7,42.7 58.0,46.0 C58.3,49.3 59.0,52.7 59.0,56.0 C59.0,59.3 57.8,63.2 58.0,66.0 C58.2,68.8 59.7,71.8 60.0,73.0 M44.0,8.0 C44.5,9.7 46.0,14.7 47.0,18.0 C48.0,21.3 49.2,24.7 50.0,28.0 C50.8,31.3 52.0,34.7 52.0,38.0 C52.0,41.3 50.0,44.7 50.0,48.0 C50.0,51.3 52.0,54.7 52.0,58.0 C52.0,61.3 50.3,66.3 50.0,68.0 M12.0,33.0 C13.3,34.0 17.2,37.6 20.0,39.0 C22.8,40.4 26.3,41.4 29.0,41.5 C31.7,41.6 33.6,40.1 36.0,39.4 C38.4,38.7 40.9,38.0 43.6,37.3 C46.3,36.6 50.6,35.4 52.0,35.0 M14.0,36.0 C15.3,37.2 19.3,41.3 22.0,43.0 C24.7,44.7 28.0,46.0 30.0,46.0 C32.0,46.0 32.3,44.0 34.0,43.0 C35.7,42.0 39.0,40.5 40.0,40.0 M30.0,41.0 C30.5,42.5 31.7,47.5 33.0,50.0 C34.3,52.5 36.2,54.0 38.0,56.0 C39.8,58.0 41.6,60.3 43.6,62.0 C45.6,63.7 48.1,64.7 50.0,66.0 C51.9,67.3 54.2,69.3 55.0,70.0 M35.0,39.0 C35.3,40.5 36.5,44.8 37.0,48.0 C37.5,51.2 37.5,55.0 38.0,58.0 C38.5,61.0 39.7,64.7 40.0,66.0 M22.0,52.0 C22.8,53.0 25.5,55.3 27.0,58.0 C28.5,60.7 30.3,66.3 31.0,68.0 M60.0,40.0 C61.0,40.4 63.8,41.7 66.0,42.5 C68.2,43.3 71.8,44.2 73.0,44.6 M0.0,14.5 C1.3,14.6 5.2,14.7 8.0,14.9 C10.8,15.1 15.2,15.5 16.6,15.6 M35.0,17.0 C35.8,16.2 38.3,13.3 40.0,12.0 C41.7,10.7 44.2,9.5 45.0,9.0 M36.0,22.0 C37.0,22.7 40.3,24.7 42.0,26.0 C43.7,27.3 45.3,29.3 46.0,30.0 M18.0,46.0 C19.0,46.7 22.3,48.5 24.0,50.0 C25.7,51.5 27.3,54.2 28.0,55.0" fill="none" stroke="#dfe5ee" stroke-opacity="0.4" stroke-width="2.60" stroke-linecap="round" stroke-linejoin="round" filter="url(#bl1)"/>
<path d="M45.4,1.5 C45.8,3.2 47.0,8.1 47.6,11.3 C48.3,14.6 48.3,17.8 49.2,21.1 C50.1,24.4 52.2,27.7 53.0,31.1 C53.9,34.5 53.7,38.3 54.1,41.5 C54.6,44.7 55.4,47.3 55.5,50.5 C55.6,53.7 55.3,57.0 54.9,60.7 C54.5,64.3 53.4,70.4 53.1,72.3 M57.6,2.7 C57.1,4.1 55.3,8.0 54.6,10.7 C54.0,13.3 53.8,15.7 53.6,18.6 C53.5,21.6 53.1,25.6 53.7,28.5 C54.4,31.5 56.7,33.5 57.6,36.6 C58.5,39.6 58.6,43.2 58.9,46.7 C59.3,50.2 59.9,54.1 59.9,57.6 C59.8,61.0 58.5,64.7 58.7,67.4 C59.0,70.2 60.9,73.0 61.4,74.2 M44.3,8.6 C44.8,10.2 46.1,15.1 47.1,18.6 C48.0,22.1 49.3,26.1 50.1,29.4 C51.0,32.7 52.1,35.1 52.2,38.4 C52.2,41.7 50.2,45.8 50.2,49.2 C50.2,52.7 52.3,55.9 52.2,59.1 C52.1,62.3 50.2,66.8 49.8,68.4 M12.3,31.4 C13.6,32.4 17.4,35.5 20.2,37.0 C23.0,38.6 26.2,40.3 29.0,40.6 C31.7,40.8 34.2,39.2 36.7,38.5 C39.3,37.8 41.4,37.2 44.1,36.4 C46.8,35.6 51.5,34.1 52.9,33.7 M13.8,35.9 C15.2,37.0 19.5,41.0 22.3,42.7 C25.1,44.4 28.5,45.9 30.5,46.0 C32.5,46.2 32.6,44.5 34.2,43.4 C35.8,42.3 39.2,40.2 40.2,39.6 M28.7,39.9 C29.3,41.4 30.8,46.5 32.3,48.9 C33.8,51.3 35.7,52.2 37.5,54.2 C39.3,56.2 41.4,59.3 43.3,60.9 C45.3,62.5 47.4,62.7 49.1,63.9 C50.9,65.1 53.2,67.3 54.0,68.0 M34.8,38.2 C35.0,39.7 35.8,43.9 36.2,47.0 C36.7,50.1 37.0,53.7 37.7,56.6 C38.3,59.6 39.6,63.2 40.0,64.5 M23.5,50.2 C24.2,51.3 26.0,54.2 27.5,56.9 C28.9,59.7 31.5,65.1 32.3,66.7 M60.4,39.4 C61.6,39.9 65.2,41.9 67.4,42.6 C69.5,43.4 72.5,43.9 73.5,44.1 M-0.7,16.2 C0.7,16.2 4.8,16.2 7.6,16.2 C10.4,16.3 14.6,16.4 16.0,16.4 M36.8,17.4 C37.5,16.4 39.9,12.8 41.5,11.5 C43.1,10.2 45.5,9.9 46.3,9.6 M35.7,21.2 C36.8,21.7 40.9,23.0 42.5,24.3 C44.2,25.6 45.3,28.1 45.8,28.9 M18.6,45.1 C19.5,45.7 22.3,46.9 23.9,48.5 C25.5,50.0 27.3,53.3 28.0,54.3" fill="none" stroke="#dfe5ee" stroke-opacity="0.45" stroke-width="0.45" stroke-linecap="round" stroke-linejoin="round"/>
<path d="M46.2,1.2 C46.5,2.7 47.2,7.4 47.8,10.6 C48.5,13.9 49.3,17.4 50.1,20.7 C50.9,24.0 52.0,27.2 52.6,30.4 C53.1,33.7 53.1,37.0 53.6,40.3 C54.1,43.7 55.3,47.1 55.5,50.6 C55.7,54.0 54.9,57.5 54.7,61.1 C54.4,64.7 53.9,70.3 53.8,72.2 M56.6,1.3 C56.3,2.7 55.6,6.6 55.0,9.3 C54.3,12.0 52.7,14.3 52.6,17.3 C52.5,20.3 53.4,24.1 54.3,27.2 C55.1,30.3 57.0,32.6 57.7,35.7 C58.5,38.8 58.4,42.7 58.8,45.8 C59.2,49.0 60.2,51.5 60.2,54.7 C60.2,57.9 58.8,62.0 58.9,64.9 C59.1,67.8 60.9,71.0 61.3,72.2 M43.0,9.6 C43.5,11.1 44.7,15.7 45.7,19.0 C46.8,22.2 48.4,25.8 49.2,29.2 C50.0,32.6 50.8,36.2 50.7,39.4 C50.6,42.7 48.6,45.6 48.6,48.9 C48.7,52.2 51.1,55.9 51.1,59.4 C51.1,62.9 49.0,68.1 48.6,69.9 M13.6,33.5 C14.8,34.5 17.9,38.0 20.7,39.5 C23.5,41.0 27.5,42.4 30.3,42.5 C33.1,42.6 35.0,41.0 37.4,40.2 C39.8,39.5 42.2,39.0 44.9,38.2 C47.5,37.3 51.8,35.7 53.2,35.2 M13.7,35.4 C15.1,36.5 19.8,40.4 22.5,42.0 C25.3,43.7 28.4,45.3 30.3,45.4 C32.3,45.5 32.7,43.8 34.4,42.7 C36.0,41.6 39.4,39.5 40.4,38.8 M30.3,40.7 C30.7,42.2 31.6,47.3 33.0,49.7 C34.4,52.0 37.0,53.0 38.9,55.0 C40.8,57.1 42.5,60.0 44.4,61.7 C46.3,63.5 48.5,64.6 50.3,65.8 C52.0,67.0 54.1,68.6 54.9,69.1 M36.2,39.0 C36.6,40.6 37.9,45.3 38.5,48.4 C39.2,51.6 39.6,55.1 40.1,58.0 C40.7,61.0 41.5,64.9 41.7,66.3 M21.8,53.8 C22.7,54.7 25.9,56.5 27.4,59.2 C28.9,61.8 30.2,67.9 30.8,69.7 M60.7,39.6 C61.8,39.9 65.1,41.2 67.3,41.8 C69.5,42.5 72.9,43.4 74.0,43.7 M-0.9,13.2 C0.4,13.3 3.8,13.8 6.5,14.0 C9.2,14.2 13.7,14.3 15.1,14.4 M35.8,15.7 C36.7,15.0 39.1,12.7 40.8,11.4 C42.4,10.1 44.9,8.4 45.7,7.8 M34.4,20.8 C35.4,21.6 38.8,23.9 40.4,25.3 C42.0,26.7 43.4,28.8 44.0,29.5 M19.4,47.0 C20.5,47.7 24.2,49.7 26.0,51.2 C27.7,52.6 29.3,55.1 30.0,55.9" fill="none" stroke="#dfe5ee" stroke-opacity="0.45" stroke-width="0.45" stroke-linecap="round" stroke-linejoin="round"/>
<path d="M48.2,2.4 C48.6,4.2 49.7,9.7 50.4,13.1 C51.1,16.4 51.4,19.5 52.2,22.7 C52.9,25.9 54.3,28.9 55.0,32.3 C55.6,35.7 55.7,39.9 56.1,43.2 C56.6,46.6 57.7,49.1 57.9,52.4 C58.1,55.8 57.6,59.9 57.3,63.4 C57.0,66.8 56.3,71.7 56.1,73.3 M54.0,1.7 C53.7,2.9 52.7,6.6 52.1,9.2 C51.4,11.7 50.2,14.2 50.1,17.2 C49.9,20.2 50.2,24.1 51.1,27.1 C52.0,30.1 54.3,32.2 55.2,35.2 C56.1,38.2 56.4,42.1 56.7,45.4 C57.0,48.6 57.2,51.5 57.2,55.0 C57.3,58.4 56.7,62.9 57.0,65.9 C57.3,68.9 58.7,71.6 59.1,72.7 M43.4,7.4 C44.0,9.1 45.7,14.6 46.7,17.9 C47.7,21.3 48.6,24.4 49.4,27.7 C50.3,31.0 52.0,34.4 52.0,37.6 C52.1,40.8 50.0,43.6 49.9,46.9 C49.8,50.2 51.4,54.0 51.4,57.5 C51.4,61.0 50.1,66.2 49.9,68.0 M12.5,32.4 C13.8,33.4 17.5,37.2 20.4,38.6 C23.2,39.9 26.6,40.8 29.5,40.7 C32.3,40.6 34.9,38.7 37.3,38.0 C39.7,37.3 41.4,37.3 44.1,36.5 C46.7,35.8 51.6,34.0 53.2,33.5 M14.2,36.8 C15.4,38.0 18.7,42.4 21.3,44.1 C24.0,45.7 27.8,46.9 29.9,46.9 C32.0,46.8 32.4,45.0 34.0,44.0 C35.7,43.1 38.9,41.5 39.9,41.0 M30.5,41.3 C31.0,42.9 32.3,48.0 33.5,50.6 C34.8,53.1 36.4,54.5 38.1,56.6 C39.8,58.6 41.6,61.1 43.6,62.8 C45.6,64.4 48.2,65.1 50.1,66.4 C52.0,67.8 54.2,70.1 55.0,70.8 M34.2,39.2 C34.6,40.7 36.5,45.2 37.1,48.4 C37.7,51.6 37.3,55.5 37.7,58.4 C38.1,61.3 39.2,64.5 39.5,65.7 M22.1,51.5 C23.0,52.4 25.9,54.2 27.4,56.8 C28.9,59.5 30.4,65.7 31.0,67.4 M60.7,41.0 C61.7,41.6 64.5,43.3 66.7,44.2 C68.9,45.1 72.7,46.0 73.9,46.3 M-1.5,14.1 C-0.1,14.1 4.3,14.1 7.1,14.2 C9.9,14.3 13.8,14.6 15.1,14.7 M36.0,15.7 C36.9,14.9 39.5,12.4 41.1,11.0 C42.6,9.6 44.9,7.9 45.6,7.3 M35.7,21.7 C36.7,22.4 39.7,24.7 41.4,26.0 C43.1,27.3 45.1,28.8 45.9,29.4 M19.3,46.5 C20.3,47.2 24.0,49.0 25.6,50.4 C27.3,51.8 28.5,54.3 29.1,55.0" fill="none" stroke="#dfe5ee" stroke-opacity="0.45" stroke-width="0.45" stroke-linecap="round" stroke-linejoin="round"/>
<path d="M46.2,0.8 C46.5,2.5 47.6,7.7 48.3,11.1 C49.0,14.4 49.6,17.6 50.4,21.0 C51.2,24.3 52.4,27.8 53.1,31.1 C53.9,34.5 54.3,37.8 54.9,41.0 C55.5,44.3 56.8,47.3 56.8,50.6 C56.8,53.9 55.4,57.5 55.1,61.0 C54.8,64.5 55.0,69.8 55.0,71.5 M57.2,2.9 C56.8,4.0 55.7,7.4 55.0,10.0 C54.3,12.6 53.0,15.3 52.8,18.4 C52.5,21.6 52.7,25.7 53.5,28.6 C54.4,31.5 56.8,32.9 57.7,35.9 C58.5,38.9 58.3,43.3 58.7,46.7 C59.1,50.0 60.0,52.9 60.0,56.2 C60.0,59.5 58.6,63.8 58.8,66.6 C59.0,69.4 60.8,71.9 61.2,73.0 M42.7,7.4 C43.2,9.0 44.8,13.9 45.8,17.3 C46.8,20.7 47.7,24.2 48.5,27.6 C49.4,31.1 50.8,34.4 51.0,37.9 C51.1,41.3 49.5,44.9 49.5,48.2 C49.5,51.5 51.1,54.2 51.0,57.5 C50.9,60.7 49.5,66.0 49.2,67.7 M12.6,34.9 C13.9,35.9 17.8,39.3 20.6,40.7 C23.5,42.0 27.2,43.1 29.8,43.1 C32.5,43.2 34.1,41.7 36.6,41.0 C39.0,40.2 41.8,39.4 44.4,38.7 C47.0,38.0 50.9,36.9 52.2,36.5 M13.0,36.8 C14.4,38.0 18.5,42.5 21.2,44.2 C23.9,45.8 27.2,46.8 29.1,46.7 C31.1,46.6 31.4,44.4 33.0,43.4 C34.7,42.3 37.9,40.9 38.9,40.4 M30.0,40.0 C30.6,41.4 32.2,45.8 33.5,48.3 C34.8,50.9 36.1,53.2 37.8,55.2 C39.5,57.1 41.7,58.5 43.8,60.2 C45.9,61.8 48.4,63.6 50.3,65.0 C52.3,66.4 54.6,67.8 55.4,68.4 M35.5,38.9 C35.7,40.4 36.2,44.6 36.7,47.7 C37.2,50.8 37.9,54.2 38.4,57.2 C38.9,60.2 39.4,64.2 39.6,65.7 M22.5,51.9 C23.4,52.8 26.2,54.7 27.7,57.3 C29.1,59.9 30.7,65.7 31.3,67.4 M59.2,41.7 C60.2,42.0 62.9,42.7 65.0,43.5 C67.1,44.3 70.5,45.8 71.6,46.2 M0.8,15.5 C2.3,15.5 6.8,15.2 9.6,15.4 C12.4,15.6 16.4,16.6 17.8,16.9 M34.4,17.6 C35.2,16.7 38.0,13.9 39.5,12.5 C41.1,11.1 43.0,9.9 43.7,9.3 M35.3,22.4 C36.3,23.1 39.8,25.2 41.5,26.4 C43.3,27.6 44.9,29.0 45.5,29.5 M17.2,44.6 C18.2,45.4 21.6,47.7 23.3,49.2 C25.0,50.8 26.7,53.2 27.4,54.0" fill="none" stroke="#dfe5ee" stroke-opacity="0.45" stroke-width="0.45" stroke-linecap="round" stroke-linejoin="round"/>
<path d="M46.2,1.0 C46.6,2.5 48.0,6.9 48.6,10.2 C49.2,13.4 48.9,17.2 49.7,20.6 C50.4,23.9 52.5,27.1 53.3,30.5 C54.1,33.9 53.8,37.5 54.4,41.0 C54.9,44.4 56.5,47.8 56.5,51.1 C56.6,54.5 55.3,57.7 54.8,61.2 C54.3,64.6 53.9,70.0 53.7,71.8 M56.6,1.0 C56.3,2.2 55.5,5.7 54.8,8.3 C54.1,11.0 52.6,13.9 52.4,16.9 C52.2,19.9 52.6,23.4 53.5,26.4 C54.3,29.4 56.8,31.8 57.6,34.8 C58.4,37.8 58.1,41.3 58.4,44.6 C58.7,47.9 59.5,51.1 59.6,54.5 C59.8,57.9 58.9,61.8 59.2,64.7 C59.4,67.7 60.9,71.0 61.2,72.3 M45.6,6.8 C46.0,8.5 46.9,14.0 47.9,17.3 C48.9,20.6 50.6,23.4 51.5,26.8 C52.3,30.1 53.2,34.1 53.2,37.4 C53.2,40.7 51.4,43.5 51.6,46.7 C51.7,49.9 53.9,53.2 53.8,56.6 C53.8,60.0 51.7,65.5 51.3,67.3 M11.2,32.4 C12.5,33.2 16.0,36.0 18.8,37.5 C21.6,38.9 25.3,40.8 28.0,40.9 C30.6,41.1 32.2,39.1 34.7,38.4 C37.2,37.7 40.2,37.4 42.9,36.7 C45.6,36.0 49.5,34.6 50.8,34.2 M14.3,37.4 C15.5,38.5 19.4,42.1 21.9,43.8 C24.5,45.6 27.6,47.7 29.6,47.7 C31.6,47.7 32.3,45.0 33.9,44.0 C35.6,43.0 38.5,42.0 39.4,41.6 M31.3,41.1 C31.7,42.8 32.6,48.3 33.9,50.9 C35.2,53.4 37.4,54.3 39.2,56.3 C40.9,58.3 42.4,61.2 44.4,62.9 C46.4,64.5 49.3,64.9 51.1,66.1 C53.0,67.3 55.0,69.5 55.8,70.2 M34.0,38.3 C34.5,39.9 36.3,44.5 36.8,47.8 C37.3,51.0 36.5,54.8 37.0,57.8 C37.5,60.8 39.2,64.4 39.7,65.7 M21.4,53.2 C22.2,54.2 24.8,56.7 26.2,59.4 C27.7,62.0 29.5,67.4 30.1,69.0 M59.4,38.7 C60.5,39.1 63.8,40.6 65.9,41.4 C68.1,42.2 71.1,43.1 72.1,43.4 M0.7,14.3 C2.0,14.4 6.0,15.0 8.9,15.2 C11.7,15.4 16.3,15.4 17.7,15.5 M35.9,18.6 C36.7,17.6 39.0,14.1 40.6,12.8 C42.2,11.4 44.7,10.9 45.5,10.5 M37.4,20.9 C38.4,21.6 41.8,23.5 43.5,24.9 C45.1,26.2 46.6,28.5 47.3,29.2 M18.4,46.9 C19.4,47.5 22.5,49.4 24.2,50.9 C25.8,52.4 27.6,55.2 28.3,56.1" fill="none" stroke="#dfe5ee" stroke-opacity="0.45" stroke-width="0.45" stroke-linecap="round" stroke-linejoin="round"/>
<path d="M47.0,2.0 C47.3,3.7 48.3,8.7 49.0,12.0 C49.7,15.3 50.2,18.7 51.0,22.0 C51.8,25.3 53.3,28.7 54.0,32.0 C54.7,35.3 54.5,38.7 55.0,42.0 C55.5,45.3 56.8,48.7 57.0,52.0 C57.2,55.3 56.3,58.5 56.0,62.0 C55.7,65.5 55.2,71.2 55.0,73.0 M56.0,2.0 C55.7,3.3 54.7,7.3 54.0,10.0 C53.3,12.7 52.2,15.0 52.0,18.0 C51.8,21.0 52.2,25.0 53.0,28.0 C53.8,31.0 56.2,33.0 57.0,36.0 C57.8,39.0 57.7,42.7 58.0,46.0 C58.3,49.3 59.0,52.7 59.0,56.0 C59.0,59.3 57.8,63.2 58.0,66.0 C58.2,68.8 59.7,71.8 60.0,73.0 M44.0,8.0 C44.5,9.7 46.0,14.7 47.0,18.0 C48.0,21.3 49.2,24.7 50.0,28.0 C50.8,31.3 52.0,34.7 52.0,38.0 C52.0,41.3 50.0,44.7 50.0,48.0 C50.0,51.3 52.0,54.7 52.0,58.0 C52.0,61.3 50.3,66.3 50.0,68.0 M12.0,33.0 C13.3,34.0 17.2,37.6 20.0,39.0 C22.8,40.4 26.3,41.4 29.0,41.5 C31.7,41.6 33.6,40.1 36.0,39.4 C38.4,38.7 40.9,38.0 43.6,37.3 C46.3,36.6 50.6,35.4 52.0,35.0 M14.0,36.0 C15.3,37.2 19.3,41.3 22.0,43.0 C24.7,44.7 28.0,46.0 30.0,46.0 C32.0,46.0 32.3,44.0 34.0,43.0 C35.7,42.0 39.0,40.5 40.0,40.0 M30.0,41.0 C30.5,42.5 31.7,47.5 33.0,50.0 C34.3,52.5 36.2,54.0 38.0,56.0 C39.8,58.0 41.6,60.3 43.6,62.0 C45.6,63.7 48.1,64.7 50.0,66.0 C51.9,67.3 54.2,69.3 55.0,70.0 M35.0,39.0 C35.3,40.5 36.5,44.8 37.0,48.0 C37.5,51.2 37.5,55.0 38.0,58.0 C38.5,61.0 39.7,64.7 40.0,66.0 M22.0,52.0 C22.8,53.0 25.5,55.3 27.0,58.0 C28.5,60.7 30.3,66.3 31.0,68.0 M60.0,40.0 C61.0,40.4 63.8,41.7 66.0,42.5 C68.2,43.3 71.8,44.2 73.0,44.6 M0.0,14.5 C1.3,14.6 5.2,14.7 8.0,14.9 C10.8,15.1 15.2,15.5 16.6,15.6 M35.0,17.0 C35.8,16.2 38.3,13.3 40.0,12.0 C41.7,10.7 44.2,9.5 45.0,9.0 M36.0,22.0 C37.0,22.7 40.3,24.7 42.0,26.0 C43.7,27.3 45.3,29.3 46.0,30.0 M18.0,46.0 C19.0,46.7 22.3,48.5 24.0,50.0 C25.7,51.5 27.3,54.2 28.0,55.0" fill="none" stroke="#dfe5ee" stroke-opacity="0.8" stroke-width="0.55" stroke-linecap="round" stroke-linejoin="round"/>
<g fill="#ffffff" fill-opacity="0.85"><circle cx="55.6" cy="45.2" r="0.82"/><circle cx="53.1" cy="13.8" r="0.68"/><circle cx="50.4" cy="29.8" r="0.89"/><circle cx="48.5" cy="23.1" r="0.59"/><circle cx="16.0" cy="36.0" r="0.67"/><circle cx="14.0" cy="36.0" r="0.87"/><circle cx="26.7" cy="44.8" r="0.63"/><circle cx="32.2" cy="47.7" r="0.81"/><circle cx="72.3" cy="44.4" r="0.68"/><circle cx="41.1" cy="11.3" r="0.72"/><circle cx="42.7" cy="26.7" r="0.61"/><circle cx="45.7" cy="29.7" r="0.51"/></g>
<circle cx="64.3" cy="22.8" r="1.68" fill="#b8bcc8" fill-opacity="0.35" filter="url(#bl1)"/>
<circle cx="64.3" cy="22.8" r="1.08" fill="none" stroke="#b8bcc8" stroke-width="0.6" stroke-opacity="0.70"/>
<circle cx="64.0" cy="22.5" r="0.42" fill="#b8bcc8" fill-opacity="0.70"/>
<circle cx="50.8" cy="56" r="1.96" fill="#b8bcc8" fill-opacity="0.35" filter="url(#bl1)"/>
<circle cx="50.8" cy="56" r="1.26" fill="none" stroke="#b8bcc8" stroke-width="0.6" stroke-opacity="0.70"/>
<circle cx="50.5" cy="55.7" r="0.49" fill="#b8bcc8" fill-opacity="0.70"/>
<circle cx="4.1" cy="20.7" r="1.54" fill="#b8bcc8" fill-opacity="0.35" filter="url(#bl1)"/>
<circle cx="4.1" cy="20.7" r="0.99" fill="none" stroke="#b8bcc8" stroke-width="0.6" stroke-opacity="0.70"/>
<circle cx="3.8" cy="20.4" r="0.39" fill="#b8bcc8" fill-opacity="0.70"/>
<ellipse cx="86.1" cy="43.6" rx="2.2" ry="1.76" fill="#b8bcc8" fill-opacity="0.28" stroke="#b8bcc8" stroke-opacity="0.6" stroke-width="0.6" filter="url(#bl0)"/>
</g>
<rect x="0.25" y="0.25" width="99.0" height="72.4" fill="none" stroke="#000" stroke-opacity="0.6" stroke-width="0.5"/>
</g>
<g transform="translate(343.5,252.7)">
<clipPath id="cp33"><rect x="0" y="0" width="99.5" height="72.9"/></clipPath>
<g clip-path="url(#cp33)">
<rect x="0" y="0" width="99.5" height="72.9" fill="#0e1115"/>
<radialGradient id="gp330"><stop offset="0" stop-color="#262c34" stop-opacity="0.9"/><stop offset="1" stop-color="#262c34" stop-opacity="0"/></radialGradient>
<ellipse cx="50" cy="30" rx="50" ry="40" fill="url(#gp330)"/>
<radialGradient id="gp331"><stop offset="0" stop-color="#4a5462" stop-opacity="0.7"/><stop offset="1" stop-color="#4a5462" stop-opacity="0"/></radialGradient>
<ellipse cx="54" cy="33" rx="18" ry="15" fill="url(#gp331)"/>
<rect x="0" y="0" width="99.5" height="72.9" filter="url(#tex2)" opacity="0.2"/>
<circle cx="55" cy="33" r="6" fill="#b8c2d0" fill-opacity="0.45" filter="url(#bl1)"/>
<circle cx="55" cy="33" r="2.70" fill="#dbe0e7" fill-opacity="0.27"/>
<circle cx="52" cy="30" r="3" fill="#e0e6ee" fill-opacity="0.5" filter="url(#bl1)"/>
<circle cx="52" cy="30" r="1.35" fill="#eff2f6" fill-opacity="0.30"/>
<circle cx="58" cy="36" r="2.5" fill="#d0d8e2" fill-opacity="0.5" filter="url(#bl1)"/>
<circle cx="58" cy="36" r="1.12" fill="#e7ebf0" fill-opacity="0.30"/>
<path d="M55.5,29.9 C56.6,27.8 60.4,20.6 62.2,17.1 C64.0,13.6 65.5,10.1 66.2,8.7 M55.1,27.5 C55.6,25.4 57.6,17.9 58.2,14.9 C58.8,11.8 58.5,10.1 58.6,9.2 M53.0,31.2 C52.0,28.7 48.9,20.0 46.8,16.2 C44.7,12.4 41.5,9.9 40.4,8.6 M51.3,30.9 C49.1,28.4 42.5,19.4 38.1,15.9 C33.7,12.4 27.3,10.7 25.1,9.7 M47.8,29.7 C44.1,27.8 32.4,21.6 25.8,18.0 C19.2,14.5 11.4,10.0 8.5,8.4 M51.2,32.3 C48.0,31.4 38.2,28.2 32.0,26.7 C25.8,25.2 16.8,23.7 13.8,23.1 M48.9,33.0 C46.5,32.8 39.0,31.7 34.8,31.7 C30.5,31.7 25.3,32.8 23.4,33.0 M51.7,33.6 C48.2,34.2 36.7,35.7 30.6,37.3 C24.5,38.9 17.5,42.4 14.9,43.4 M50.7,34.8 C48.9,36.2 43.7,41.2 39.9,43.3 C36.1,45.4 29.9,46.6 27.9,47.2 M52.1,37.4 C51.0,39.4 47.5,45.3 45.8,49.3 C44.1,53.2 42.5,59.1 41.9,61.1 M55.3,39.2 C55.4,42.0 55.1,51.6 56.1,56.1 C57.1,60.6 60.2,64.4 61.0,66.1 M57.2,39.0 C58.5,41.4 62.7,48.8 65.2,53.6 C67.7,58.4 71.1,65.5 72.3,67.9 M59.8,37.4 C62.3,38.8 71.7,43.1 75.0,45.6 C78.3,48.1 79.1,51.4 79.9,52.6 M57.1,34.2 C60.0,35.8 69.1,42.0 74.2,43.9 C79.3,45.8 85.5,45.3 87.8,45.6 M59.7,32.2 C62.8,31.5 73.0,28.9 78.4,28.2 C83.8,27.4 89.8,27.8 92.1,27.7 M57.6,30.6 C59.8,29.0 66.8,23.5 70.8,20.8 C74.8,18.1 80.0,15.6 81.8,14.5 M56.7,28.2 C58.2,26.4 63.4,20.8 65.5,17.2 C67.6,13.6 68.6,8.2 69.2,6.4 M61.4,34.5 C64.2,35.5 72.2,39.2 77.9,40.4 C83.6,41.6 92.4,41.3 95.3,41.5 M55.0,38.9 C55.8,41.3 58.7,48.7 59.5,53.4 C60.3,58.1 59.9,65.0 60.0,67.3 M52.7,40.7 C51.9,43.1 48.5,50.7 47.8,54.9 C47.1,59.1 48.3,64.2 48.4,66.0 M47.9,31.6 C45.8,31.4 39.0,31.2 35.0,30.3 C31.0,29.4 25.9,27.0 24.1,26.3 M49.2,35.5 C45.4,37.8 32.3,46.5 26.5,49.5 C20.7,52.5 16.2,53.0 14.2,53.7 M50.3,39.1 C48.1,41.5 39.6,49.7 37.1,53.7 C34.6,57.7 35.8,61.5 35.5,63.1 M59.5,36.9 C62.9,39.1 74.7,46.8 79.7,50.3 C84.7,53.8 87.8,56.9 89.4,58.2 M56.1,36.1 C57.8,39.3 62.6,49.4 66.4,55.2 C70.2,61.0 77.1,68.2 79.2,70.8 M55.9,31.8 C59.6,29.7 72.6,22.6 78.0,19.2 C83.4,15.8 86.6,12.9 88.3,11.7 M52.9,26.8 C52.3,24.6 50.3,17.9 49.5,13.6 C48.7,9.3 48.4,3.1 48.2,1.0 M46.1,33.3 C42.3,33.4 30.8,33.8 23.1,34.1 C15.4,34.4 3.9,34.9 0.0,35.0 M56.7,30.2 C58.6,27.5 64.2,18.3 68.2,14.1 C72.2,9.9 78.9,6.6 81.0,5.1 M52.4,34.5 C49.5,37.8 40.4,49.2 35.0,54.2 C29.6,59.2 22.4,62.8 19.9,64.5 M53.1,32.3 L48.7,27.6 M57.3,29.4 L60.8,26.9 M56.3,31.3 L62.3,27.9 M50.6,32.6 L41.9,30.2 M49.6,31.3 L43.1,27.4 M50.1,32.8 L43.8,31.5 M54.4,37.9 L53.8,42.0 M53.0,32.9 L42.8,30.4 M53.1,33.5 L43.3,37.9 M53.1,32.2 L45.7,23.9 M51.4,30.3 L47.4,24.6 M51.6,36.2 L45.1,42.6 M57.7,33.5 L60.4,34.6 M56.8,32.4 L62.4,31.9 M51.9,31.6 L46.9,27.2 M52.7,36.1 L49.4,41.5 M52.7,36.9 L50.0,41.9 M57.9,33.7 L65.3,36.1 M31.0,16.2 L25.6,20.1 M18.7,31.8 L15.4,36.4 M32.2,24.4 L25.2,28.4 M85.6,12.4 L90.2,20.7 M88.5,32.9 L92.9,36.7 M53.0,13.9 L44.0,20.1 M18.4,20.3 L10.6,25.7 M80.6,25.2 L87.1,28.0 M79.4,19.8 L83.1,26.8 M42.0,29.9 L36.1,31.4 M0.5,68.9 L-10.6,73.2 M43.4,69.4 L37.1,70.8 M74.6,61.1 L70.3,68.6 M28.9,24.9 L33.0,28.5" fill="none" stroke="#c4cedb" stroke-opacity="0.22" stroke-width="1.82" stroke-linecap="round" stroke-linejoin="round" filter="url(#bl1)"/>
<path d="M55.9,30.0 C57.0,27.9 60.7,21.2 62.4,17.6 C64.2,14.1 65.9,10.2 66.6,8.7 M55.4,28.1 C55.9,25.9 57.9,18.2 58.5,15.1 C59.2,12.0 59.1,10.5 59.2,9.5 M52.6,30.5 C51.6,28.1 48.6,19.7 46.5,16.0 C44.4,12.3 41.0,9.7 40.0,8.5 M52.3,30.7 C50.0,28.3 43.1,19.9 38.6,16.3 C34.2,12.8 27.9,10.7 25.8,9.6 M48.3,30.1 C44.7,28.1 33.0,21.9 26.4,18.3 C19.8,14.8 11.9,10.5 8.9,8.9 M50.6,31.8 C47.4,31.0 37.4,28.2 31.3,26.7 C25.1,25.3 16.5,23.6 13.6,22.9 M47.9,32.2 C45.5,31.9 38.0,30.9 33.7,30.8 C29.5,30.8 24.3,31.9 22.4,32.1 M52.0,33.4 C48.5,34.1 37.1,35.8 30.9,37.4 C24.8,39.0 17.7,42.1 15.1,43.0 M50.9,34.3 C49.1,35.7 44.0,40.6 40.1,42.7 C36.3,44.8 29.9,46.2 27.9,46.9 M51.9,37.9 C50.8,40.0 47.2,46.2 45.4,50.2 C43.6,54.1 41.9,59.7 41.2,61.6 M55.5,39.6 C55.6,42.4 55.3,51.8 56.3,56.4 C57.3,60.9 60.6,65.1 61.5,66.9 M57.1,38.3 C58.4,40.6 62.5,47.6 65.0,52.4 C67.5,57.2 70.9,64.6 72.0,67.1 M60.1,37.2 C62.7,38.5 72.2,42.9 75.6,45.4 C78.9,47.9 79.3,51.2 80.1,52.4 M58.1,35.0 C60.9,36.6 70.0,43.0 75.1,44.9 C80.2,46.8 86.5,46.2 88.7,46.5 M59.0,31.4 C62.1,30.7 72.5,27.9 77.9,27.2 C83.3,26.5 89.1,27.2 91.3,27.2 M56.9,31.5 C59.2,29.9 66.3,24.4 70.3,21.8 C74.2,19.1 78.9,16.7 80.6,15.7 M56.7,28.8 C58.1,26.9 62.9,21.3 65.0,17.7 C67.1,14.1 68.5,9.1 69.2,7.4 M60.8,33.9 C63.6,34.9 71.8,38.7 77.5,39.9 C83.2,41.0 92.2,40.7 95.1,40.9 M55.3,38.2 C56.1,40.5 59.4,47.6 60.3,52.3 C61.1,57.0 60.4,63.9 60.4,66.2 M52.3,40.5 C51.5,42.8 47.9,50.5 47.2,54.7 C46.4,58.9 47.7,63.9 47.8,65.7 M47.9,30.9 C45.7,30.7 38.8,30.6 34.8,29.7 C30.8,28.7 25.6,26.0 23.7,25.2 M48.3,35.0 C44.5,37.4 31.4,46.4 25.5,49.4 C19.6,52.5 15.1,52.7 13.0,53.3 M50.2,38.5 C47.9,40.9 39.0,49.0 36.5,53.0 C34.1,57.0 35.8,61.0 35.6,62.6 M58.8,38.2 C62.2,40.4 73.9,48.0 78.8,51.5 C83.7,54.9 86.7,57.7 88.3,59.0 M56.9,36.1 C58.6,39.2 63.4,49.2 67.3,54.9 C71.1,60.7 77.8,68.0 79.9,70.6 M55.2,32.8 C58.9,30.7 71.8,23.5 77.2,20.1 C82.7,16.8 86.2,13.8 88.0,12.6 M52.7,27.3 C52.1,25.1 49.8,18.2 48.9,13.9 C48.0,9.6 47.6,3.6 47.4,1.5 M45.1,32.5 C41.3,32.7 30.0,33.2 22.3,33.5 C14.7,33.8 3.0,34.2 -0.9,34.4 M57.0,29.4 C59.0,26.8 64.9,17.8 69.0,13.6 C73.1,9.4 79.5,5.6 81.6,4.0 M53.4,35.5 C50.5,38.8 41.1,50.2 35.7,55.2 C30.2,60.3 23.3,64.1 20.9,65.8 M53.0,32.3 L48.7,27.5 M57.0,30.1 L60.6,28.0 M56.2,32.2 L62.1,28.3 M50.3,33.3 L42.1,31.1 M49.0,30.4 L42.8,26.5 M50.8,33.3 L44.3,31.9 M53.8,37.7 L53.8,41.3 M53.4,31.9 L43.5,29.5 M52.9,33.0 L43.0,37.3 M53.3,32.5 L46.1,24.1 M51.0,30.3 L47.4,24.0 M50.9,36.7 L44.3,43.1 M57.9,32.8 L60.6,34.3 M56.7,33.2 L62.0,32.4 M51.9,31.2 L46.9,26.9 M53.3,34.9 L49.8,40.7 M53.8,36.4 L51.2,41.3 M58.3,33.0 L65.9,35.5 M31.2,16.1 L25.8,20.0 M19.3,32.9 L16.1,37.2 M33.0,24.4 L26.1,28.4 M85.8,12.5 L90.9,20.6 M88.2,33.2 L92.1,36.9 M52.9,14.8 L43.8,20.6 M18.5,20.9 L10.6,26.1 M80.4,24.1 L87.3,26.8 M79.0,20.7 L82.8,27.9 M42.7,29.7 L36.7,31.4 M0.3,68.4 L-11.4,72.8 M43.0,68.5 L36.1,69.9 M74.3,61.4 L69.6,68.8 M28.8,24.3 L33.2,27.8" fill="none" stroke="#c4cedb" stroke-opacity="0.22" stroke-width="0.32" stroke-linecap="round" stroke-linejoin="round"/>
<path d="M56.6,29.9 C57.8,27.8 61.7,20.7 63.5,17.1 C65.3,13.5 66.8,9.8 67.4,8.3 M54.6,27.6 C55.1,25.5 57.3,17.9 57.9,14.9 C58.5,11.9 58.1,10.4 58.1,9.5 M52.8,30.6 C51.7,28.1 48.4,19.3 46.2,15.4 C44.0,11.6 40.8,8.8 39.7,7.5 M50.7,31.4 C48.5,28.9 41.9,19.9 37.5,16.4 C33.2,12.8 26.8,11.1 24.7,10.0 M47.5,29.2 C43.8,27.3 31.9,21.2 25.4,17.6 C18.8,14.0 11.0,9.3 8.2,7.7 M50.9,32.4 C47.6,31.4 37.3,27.7 31.0,26.2 C24.7,24.7 16.1,23.7 13.1,23.2 M49.4,33.5 C47.1,33.3 40.0,32.2 35.7,32.3 C31.5,32.4 26.0,33.7 24.0,34.0 M51.0,33.7 C47.5,34.3 36.1,35.4 29.9,37.1 C23.7,38.8 16.6,42.6 14.0,43.7 M50.3,34.4 C48.5,35.9 43.2,41.2 39.4,43.3 C35.5,45.5 29.1,46.7 27.0,47.4 M53.0,36.9 C51.9,38.8 48.1,44.3 46.3,48.2 C44.6,52.1 43.3,58.4 42.7,60.4 M55.8,38.6 C55.9,41.3 55.8,50.6 56.7,55.0 C57.7,59.5 60.6,63.5 61.4,65.2 M57.4,39.6 C58.7,42.1 62.7,49.4 65.2,54.3 C67.7,59.2 71.3,66.5 72.5,68.9 M60.9,38.0 C63.3,39.4 72.2,44.0 75.5,46.6 C78.8,49.2 79.8,52.4 80.7,53.6 M57.1,33.9 C60.0,35.6 69.0,41.8 74.1,43.7 C79.2,45.5 85.5,44.9 87.8,45.1 M59.8,32.6 C62.8,32.0 72.8,29.5 78.2,28.7 C83.6,27.9 89.8,27.9 92.2,27.8 M57.8,30.0 C60.1,28.4 67.2,23.1 71.2,20.4 C75.2,17.7 79.9,15.0 81.6,13.9 M56.6,27.6 C58.1,25.8 63.4,20.1 65.5,16.6 C67.5,13.0 68.2,8.0 68.8,6.2 M61.8,35.1 C64.7,36.1 73.1,40.0 78.8,41.2 C84.4,42.3 92.9,41.9 95.7,42.1 M54.8,38.9 C55.5,41.3 58.1,48.5 58.9,53.2 C59.7,57.9 59.6,64.9 59.7,67.2 M53.4,41.7 C52.7,44.0 49.7,51.4 49.0,55.6 C48.2,59.9 49.0,65.1 49.1,67.0 M48.3,32.3 C46.1,32.1 38.9,32.1 34.9,31.1 C31.0,30.2 26.4,27.5 24.7,26.7 M49.7,36.3 C46.0,38.6 33.0,47.5 27.1,50.6 C21.3,53.6 16.8,54.0 14.7,54.7 M51.5,38.6 C49.3,41.1 40.6,49.7 38.1,53.7 C35.5,57.7 36.6,61.2 36.3,62.7 M59.0,36.6 C62.3,38.8 74.1,46.6 79.1,50.1 C84.0,53.6 87.1,56.5 88.8,57.8 M55.9,36.7 C57.6,39.9 62.7,50.2 66.5,56.1 C70.4,62.0 76.8,69.3 78.9,72.0 M55.1,32.3 C58.8,30.2 71.8,22.9 77.3,19.6 C82.8,16.2 86.1,13.3 87.9,12.1 M52.6,26.4 C52.0,24.2 50.1,17.3 49.3,12.9 C48.4,8.5 47.8,2.4 47.5,0.3 M46.9,32.6 C43.1,32.8 31.7,33.3 24.0,33.5 C16.4,33.8 4.7,34.0 0.9,34.1 M57.2,30.2 C59.1,27.5 64.8,18.2 68.8,14.0 C72.8,9.7 79.3,6.3 81.4,4.8 M52.6,34.3 C49.7,37.5 40.6,48.9 35.2,53.9 C29.8,58.9 22.7,62.5 20.2,64.2 M53.6,33.4 L48.8,28.8 M56.6,29.9 L60.0,27.3 M57.6,31.0 L63.1,27.3 M50.7,32.1 L41.9,29.2 M50.2,32.5 L43.9,28.4 M50.8,32.3 L44.1,31.0 M53.8,36.8 L53.2,40.7 M53.4,33.7 L43.5,30.7 M53.0,34.0 L43.7,38.1 M52.9,33.1 L45.8,24.4 M50.6,30.6 L46.9,25.0 M52.2,36.6 L46.1,43.5 M58.2,33.2 L60.7,34.3 M57.4,32.7 L63.2,31.9 M52.2,30.9 L46.9,26.4 M52.3,36.5 L49.1,41.9 M52.3,37.4 L49.7,42.5 M58.0,33.8 L65.0,36.4 M31.5,16.5 L25.7,20.0 M19.6,32.3 L15.8,37.1 M32.9,24.7 L26.0,28.8 M84.5,11.3 L89.3,19.7 M88.3,33.4 L93.0,37.2 M53.4,14.1 L44.0,20.4 M18.0,19.8 L9.7,25.5 M80.7,24.1 L87.1,27.2 M79.1,19.0 L82.5,26.2 M42.2,30.5 L36.3,32.1 M0.7,68.6 L-10.3,72.3 M43.0,70.0 L37.3,71.1 M74.6,61.4 L70.3,68.8 M28.9,23.8 L32.8,27.4" fill="none" stroke="#c4cedb" stroke-opacity="0.22" stroke-width="0.32" stroke-linecap="round" stroke-linejoin="round"/>
<path d="M55.5,29.9 C56.6,27.8 60.4,20.6 62.2,17.1 C64.0,13.6 65.5,10.1 66.2,8.7 M55.1,27.5 C55.6,25.4 57.6,17.9 58.2,14.9 C58.8,11.8 58.5,10.1 58.6,9.2 M53.0,31.2 C52.0,28.7 48.9,20.0 46.8,16.2 C44.7,12.4 41.5,9.9 40.4,8.6 M51.3,30.9 C49.1,28.4 42.5,19.4 38.1,15.9 C33.7,12.4 27.3,10.7 25.1,9.7 M47.8,29.7 C44.1,27.8 32.4,21.6 25.8,18.0 C19.2,14.5 11.4,10.0 8.5,8.4 M51.2,32.3 C48.0,31.4 38.2,28.2 32.0,26.7 C25.8,25.2 16.8,23.7 13.8,23.1 M48.9,33.0 C46.5,32.8 39.0,31.7 34.8,31.7 C30.5,31.7 25.3,32.8 23.4,33.0 M51.7,33.6 C48.2,34.2 36.7,35.7 30.6,37.3 C24.5,38.9 17.5,42.4 14.9,43.4 M50.7,34.8 C48.9,36.2 43.7,41.2 39.9,43.3 C36.1,45.4 29.9,46.6 27.9,47.2 M52.1,37.4 C51.0,39.4 47.5,45.3 45.8,49.3 C44.1,53.2 42.5,59.1 41.9,61.1 M55.3,39.2 C55.4,42.0 55.1,51.6 56.1,56.1 C57.1,60.6 60.2,64.4 61.0,66.1 M57.2,39.0 C58.5,41.4 62.7,48.8 65.2,53.6 C67.7,58.4 71.1,65.5 72.3,67.9 M59.8,37.4 C62.3,38.8 71.7,43.1 75.0,45.6 C78.3,48.1 79.1,51.4 79.9,52.6 M57.1,34.2 C60.0,35.8 69.1,42.0 74.2,43.9 C79.3,45.8 85.5,45.3 87.8,45.6 M59.7,32.2 C62.8,31.5 73.0,28.9 78.4,28.2 C83.8,27.4 89.8,27.8 92.1,27.7 M57.6,30.6 C59.8,29.0 66.8,23.5 70.8,20.8 C74.8,18.1 80.0,15.6 81.8,14.5 M56.7,28.2 C58.2,26.4 63.4,20.8 65.5,17.2 C67.6,13.6 68.6,8.2 69.2,6.4 M61.4,34.5 C64.2,35.5 72.2,39.2 77.9,40.4 C83.6,41.6 92.4,41.3 95.3,41.5 M55.0,38.9 C55.8,41.3 58.7,48.7 59.5,53.4 C60.3,58.1 59.9,65.0 60.0,67.3 M52.7,40.7 C51.9,43.1 48.5,50.7 47.8,54.9 C47.1,59.1 48.3,64.2 48.4,66.0 M47.9,31.6 C45.8,31.4 39.0,31.2 35.0,30.3 C31.0,29.4 25.9,27.0 24.1,26.3 M49.2,35.5 C45.4,37.8 32.3,46.5 26.5,49.5 C20.7,52.5 16.2,53.0 14.2,53.7 M50.3,39.1 C48.1,41.5 39.6,49.7 37.1,53.7 C34.6,57.7 35.8,61.5 35.5,63.1 M59.5,36.9 C62.9,39.1 74.7,46.8 79.7,50.3 C84.7,53.8 87.8,56.9 89.4,58.2 M56.1,36.1 C57.8,39.3 62.6,49.4 66.4,55.2 C70.2,61.0 77.1,68.2 79.2,70.8 M55.9,31.8 C59.6,29.7 72.6,22.6 78.0,19.2 C83.4,15.8 86.6,12.9 88.3,11.7 M52.9,26.8 C52.3,24.6 50.3,17.9 49.5,13.6 C48.7,9.3 48.4,3.1 48.2,1.0 M46.1,33.3 C42.3,33.4 30.8,33.8 23.1,34.1 C15.4,34.4 3.9,34.9 0.0,35.0 M56.7,30.2 C58.6,27.5 64.2,18.3 68.2,14.1 C72.2,9.9 78.9,6.6 81.0,5.1 M52.4,34.5 C49.5,37.8 40.4,49.2 35.0,54.2 C29.6,59.2 22.4,62.8 19.9,64.5 M53.1,32.3 L48.7,27.6 M57.3,29.4 L60.8,26.9 M56.3,31.3 L62.3,27.9 M50.6,32.6 L41.9,30.2 M49.6,31.3 L43.1,27.4 M50.1,32.8 L43.8,31.5 M54.4,37.9 L53.8,42.0 M53.0,32.9 L42.8,30.4 M53.1,33.5 L43.3,37.9 M53.1,32.2 L45.7,23.9 M51.4,30.3 L47.4,24.6 M51.6,36.2 L45.1,42.6 M57.7,33.5 L60.4,34.6 M56.8,32.4 L62.4,31.9 M51.9,31.6 L46.9,27.2 M52.7,36.1 L49.4,41.5 M52.7,36.9 L50.0,41.9 M57.9,33.7 L65.3,36.1 M31.0,16.2 L25.6,20.1 M18.7,31.8 L15.4,36.4 M32.2,24.4 L25.2,28.4 M85.6,12.4 L90.2,20.7 M88.5,32.9 L92.9,36.7 M53.0,13.9 L44.0,20.1 M18.4,20.3 L10.6,25.7 M80.6,25.2 L87.1,28.0 M79.4,19.8 L83.1,26.8 M42.0,29.9 L36.1,31.4 M0.5,68.9 L-10.6,73.2 M43.4,69.4 L37.1,70.8 M74.6,61.1 L70.3,68.6 M28.9,24.9 L33.0,28.5" fill="none" stroke="#c4cedb" stroke-opacity="0.42" stroke-width="0.39" stroke-linecap="round" stroke-linejoin="round"/>
<circle cx="80" cy="20" r="2.24" fill="#b8c2d0" fill-opacity="0.35" filter="url(#bl1)"/>
<circle cx="80" cy="20" r="1.44" fill="none" stroke="#b8c2d0" stroke-width="0.6" stroke-opacity="0.70"/>
<circle cx="79.7" cy="19.7" r="0.56" fill="#b8c2d0" fill-opacity="0.70"/>
<circle cx="97" cy="21" r="1.82" fill="#b8c2d0" fill-opacity="0.35" filter="url(#bl1)"/>
<circle cx="97" cy="21" r="1.17" fill="none" stroke="#b8c2d0" stroke-width="0.6" stroke-opacity="0.70"/>
<circle cx="96.7" cy="20.7" r="0.45" fill="#b8c2d0" fill-opacity="0.70"/>
<circle cx="22" cy="33" r="1.82" fill="#b8c2d0" fill-opacity="0.35" filter="url(#bl1)"/>
<circle cx="22" cy="33" r="1.17" fill="none" stroke="#b8c2d0" stroke-width="0.6" stroke-opacity="0.70"/>
<circle cx="21.7" cy="32.7" r="0.45" fill="#b8c2d0" fill-opacity="0.70"/>
<circle cx="7" cy="58" r="2.24" fill="#b8c2d0" fill-opacity="0.35" filter="url(#bl1)"/>
<circle cx="7" cy="58" r="1.44" fill="none" stroke="#b8c2d0" stroke-width="0.6" stroke-opacity="0.70"/>
<circle cx="6.7" cy="57.7" r="0.56" fill="#b8c2d0" fill-opacity="0.70"/>
<circle cx="22" cy="66" r="1.68" fill="#b8c2d0" fill-opacity="0.35" filter="url(#bl1)"/>
<circle cx="22" cy="66" r="1.08" fill="none" stroke="#b8c2d0" stroke-width="0.6" stroke-opacity="0.70"/>
<circle cx="21.7" cy="65.7" r="0.42" fill="#b8c2d0" fill-opacity="0.70"/>
<circle cx="92" cy="48" r="1.82" fill="#b8c2d0" fill-opacity="0.35" filter="url(#bl1)"/>
<circle cx="92" cy="48" r="1.17" fill="none" stroke="#b8c2d0" stroke-width="0.6" stroke-opacity="0.70"/>
<circle cx="91.7" cy="47.7" r="0.45" fill="#b8c2d0" fill-opacity="0.70"/>
<circle cx="90" cy="63" r="1.68" fill="#b8c2d0" fill-opacity="0.35" filter="url(#bl1)"/>
<circle cx="90" cy="63" r="1.08" fill="none" stroke="#b8c2d0" stroke-width="0.6" stroke-opacity="0.70"/>
<circle cx="89.7" cy="62.7" r="0.42" fill="#b8c2d0" fill-opacity="0.70"/>
</g>
<rect x="0.25" y="0.25" width="99.0" height="72.4" fill="none" stroke="#000" stroke-opacity="0.6" stroke-width="0.5"/>
</g>
<text x="7.6" y="22.8" font-family="'Liberation Serif', 'Times New Roman', serif" font-weight="bold" font-size="19" letter-spacing="0.4" fill="#000">(A)</text>
<text x="80.7" y="22.6" text-anchor="middle" font-family="'Liberation Sans', Arial, sans-serif" font-size="13" fill="#000">0</text>
<text x="178.8" y="22.6" text-anchor="middle" font-family="'Liberation Sans', Arial, sans-serif" font-size="13" fill="#000">25</text>
<text x="282.9" y="22.6" text-anchor="middle" font-family="'Liberation Sans', Arial, sans-serif" font-size="13" fill="#000">50</text>
<text x="384" y="22.6" text-anchor="middle" font-family="'Liberation Sans', Arial, sans-serif" font-size="13" fill="#000">100</text>
<text x="400" y="21.6" font-family="'Liberation Sans', Arial, sans-serif" font-size="10.4" fill="#000">SEMA4D (ng/ml)</text>
<text transform="translate(32.2,65) rotate(-90)" text-anchor="middle" font-family="'Liberation Sans', Arial, sans-serif" font-size="11.8" fill="#000">Day 1</text>
<text transform="translate(32.2,135.8) rotate(-90)" text-anchor="middle" font-family="'Liberation Sans', Arial, sans-serif" font-size="11.8" fill="#000">Day 3</text>
<text transform="translate(32.2,215.5) rotate(-90)" text-anchor="middle" font-family="'Liberation Sans', Arial, sans-serif" font-size="11.8" fill="#000">Day 5</text>
<text transform="translate(32.2,286.4) rotate(-90)" text-anchor="middle" font-family="'Liberation Sans', Arial, sans-serif" font-size="11.8" fill="#000">Day 7</text>
<text x="94.3" y="341.1" font-family="'Liberation Sans', Arial, sans-serif" font-size="12.7" fill="#000" textLength="300.3" lengthAdjust="spacingAndGlyphs">SHED: matrigel cultured with EGM-2 and SEMA4D</text>
<text x="6.8" y="385.9" font-family="'Liberation Serif', 'Times New Roman', serif" font-weight="bold" font-size="19" letter-spacing="0.2" fill="#000">(B)</text>
<line x1="61.5" y1="381.2" x2="61.5" y2="512.0" stroke="#a0a0a0" stroke-width="1"/>
<line x1="61.5" y1="512.0" x2="216.8" y2="512.0" stroke="#a0a0a0" stroke-width="1"/>
<line x1="58.5" y1="512.0" x2="61.5" y2="512.0" stroke="#a0a0a0" stroke-width="1"/>
<text x="53.7" y="514.6" text-anchor="end" font-family="'Liberation Sans', Arial, sans-serif" font-size="10.2" fill="#222">0</text>
<line x1="58.5" y1="479.3" x2="61.5" y2="479.3" stroke="#a0a0a0" stroke-width="1"/>
<text x="53.9" y="482.8" text-anchor="end" font-family="'Liberation Sans', Arial, sans-serif" font-size="10.2" fill="#222">20</text>
<line x1="58.5" y1="446.7" x2="61.5" y2="446.7" stroke="#a0a0a0" stroke-width="1"/>
<text x="53.9" y="450.2" text-anchor="end" font-family="'Liberation Sans', Arial, sans-serif" font-size="10.2" fill="#222">40</text>
<line x1="58.5" y1="414.0" x2="61.5" y2="414.0" stroke="#a0a0a0" stroke-width="1"/>
<text x="53.9" y="417.5" text-anchor="end" font-family="'Liberation Sans', Arial, sans-serif" font-size="10.2" fill="#222">60</text>
<line x1="58.5" y1="381.4" x2="61.5" y2="381.4" stroke="#a0a0a0" stroke-width="1"/>
<text x="53.9" y="384.9" text-anchor="end" font-family="'Liberation Sans', Arial, sans-serif" font-size="10.2" fill="#222">80</text>
<line x1="61.5" y1="512.0" x2="61.5" y2="515.0" stroke="#a0a0a0" stroke-width="1"/>
<line x1="100.2" y1="512.0" x2="100.2" y2="515.0" stroke="#a0a0a0" stroke-width="1"/>
<line x1="139" y1="512.0" x2="139" y2="515.0" stroke="#a0a0a0" stroke-width="1"/>
<line x1="177.4" y1="512.0" x2="177.4" y2="515.0" stroke="#a0a0a0" stroke-width="1"/>
<line x1="216.8" y1="512.0" x2="216.8" y2="515.0" stroke="#a0a0a0" stroke-width="1"/>
<text x="82.8" y="526.2" text-anchor="middle" font-family="'Liberation Sans', Arial, sans-serif" font-size="9.2" fill="#222">1</text>
<text x="120.6" y="526.2" text-anchor="middle" font-family="'Liberation Sans', Arial, sans-serif" font-size="9.2" fill="#222">3</text>
<text x="161.3" y="526.2" text-anchor="middle" font-family="'Liberation Sans', Arial, sans-serif" font-size="9.2" fill="#222">5</text>
<text x="199.8" y="526.2" text-anchor="middle" font-family="'Liberation Sans', Arial, sans-serif" font-size="9.2" fill="#222">7</text>
<text x="208.5" y="525.8" font-family="'Liberation Sans', Arial, sans-serif" font-size="8.7" fill="#222">days</text>
<text x="145.4" y="538.4" text-anchor="middle" font-family="'Liberation Sans', Arial, sans-serif" font-size="10.2" fill="#222">SHED:matrigel</text>
<text transform="translate(40.7,443.3) rotate(-90)" text-anchor="middle" font-family="'Liberation Sans', Arial, sans-serif" font-size="8.65" fill="#222">Sprouts/ HP field(#)</text>
<polyline points="81,500.1 119.8,497.6 158.4,469.1 197,461.7" fill="none" stroke="#2a78c8" stroke-width="1.5"/>
<polyline points="81,498.6 119.8,491.3 158.4,450.6 197,432.3" fill="none" stroke="#e03a3a" stroke-width="1.5"/>
<polyline points="81,501.5 119.8,484.6 158.4,440.6 197,423.2" fill="none" stroke="#7cb83a" stroke-width="1.5"/>
<polyline points="81,498.1 119.8,473.8 158.4,422.8 197,403.7" fill="none" stroke="#8a5cc0" stroke-width="1.5"/>
<path d="M81,497.5 L83.6,500.1 L81,502.70000000000005 L78.4,500.1 Z" fill="#2a78c8"/>
<path d="M119.8,495.0 L122.39999999999999,497.6 L119.8,500.20000000000005 L117.2,497.6 Z" fill="#2a78c8"/>
<path d="M158.4,466.5 L161.0,469.1 L158.4,471.70000000000005 L155.8,469.1 Z" fill="#2a78c8"/>
<path d="M197,459.09999999999997 L199.6,461.7 L197,464.3 L194.4,461.7 Z" fill="#2a78c8"/>
<rect x="78.6" y="496.20000000000005" width="4.8" height="4.8" fill="#e03a3a"/>
<rect x="117.39999999999999" y="488.90000000000003" width="4.8" height="4.8" fill="#e03a3a"/>
<rect x="156.0" y="448.20000000000005" width="4.8" height="4.8" fill="#e03a3a"/>
<rect x="194.6" y="429.90000000000003" width="4.8" height="4.8" fill="#e03a3a"/>
<path d="M81,498.5 L84,503.7 L78,503.7 Z" fill="#7cb83a"/>
<path d="M119.8,481.6 L122.8,486.8 L116.8,486.8 Z" fill="#7cb83a"/>
<path d="M158.4,437.6 L161.4,442.8 L155.4,442.8 Z" fill="#7cb83a"/>
<path d="M197,420.2 L200,425.4 L194,425.4 Z" fill="#7cb83a"/>
<path d="M78.8,495.90000000000003 L83.2,500.3 M78.8,500.3 L83.2,495.90000000000003" stroke="#8a5cc0" stroke-width="0.8" fill="none"/>
<path d="M117.6,471.6 L122.0,476.0 M117.6,476.0 L122.0,471.6" stroke="#8a5cc0" stroke-width="0.8" fill="none"/>
<path d="M156.20000000000002,420.6 L160.6,425.0 M156.20000000000002,425.0 L160.6,420.6" stroke="#8a5cc0" stroke-width="0.8" fill="none"/>
<path d="M194.8,401.5 L199.2,405.9 M194.8,405.9 L199.2,401.5" stroke="#8a5cc0" stroke-width="0.8" fill="none"/>
<line x1="67.3" y1="382.7" x2="81.2" y2="382.7" stroke="#2a78c8" stroke-width="1.5"/>
<path d="M74.2,380.09999999999997 L76.8,382.7 L74.2,385.3 L71.60000000000001,382.7 Z" fill="#2a78c8"/>
<text x="86.4" y="385.3" font-family="'Liberation Sans', Arial, sans-serif" font-size="7.6" fill="#222" textLength="55" lengthAdjust="spacingAndGlyphs">0 ng/ml SEMA4D</text>
<line x1="67.3" y1="393.6" x2="81.2" y2="393.6" stroke="#e03a3a" stroke-width="1.5"/>
<rect x="71.8" y="391.20000000000005" width="4.8" height="4.8" fill="#e03a3a"/>
<text x="86.4" y="396.2" font-family="'Liberation Sans', Arial, sans-serif" font-size="7.6" fill="#222" textLength="60" lengthAdjust="spacingAndGlyphs">25 ng/ml SEMA4D</text>
<line x1="67.3" y1="403.9" x2="81.2" y2="403.9" stroke="#7cb83a" stroke-width="1.5"/>
<path d="M74.2,400.9 L77.2,406.09999999999997 L71.2,406.09999999999997 Z" fill="#7cb83a"/>
<text x="86.4" y="406.5" font-family="'Liberation Sans', Arial, sans-serif" font-size="7.6" fill="#222" textLength="59.2" lengthAdjust="spacingAndGlyphs">50 ng/ml SEMA4D</text>
<line x1="67.3" y1="414.8" x2="81.2" y2="414.8" stroke="#8a5cc0" stroke-width="1.5"/>
<path d="M72.0,412.6 L76.4,417.0 M72.0,417.0 L76.4,412.6" stroke="#8a5cc0" stroke-width="0.8" fill="none"/>
<text x="86.4" y="417.4" font-family="'Liberation Sans', Arial, sans-serif" font-size="7.6" fill="#222" textLength="64" lengthAdjust="spacingAndGlyphs">100 ng/ml SEMA4D</text>
<text x="212.6" y="387.4" font-family="'Liberation Serif', 'Times New Roman', serif" font-weight="bold" font-size="19" letter-spacing="0.2" fill="#000">(C)</text>
<line x1="262.3" y1="397.2" x2="262.3" y2="511.2" stroke="#a0a0a0" stroke-width="1"/>
<line x1="262.3" y1="511.2" x2="425.6" y2="511.2" stroke="#a0a0a0" stroke-width="1"/>
<line x1="259.3" y1="511.2" x2="262.3" y2="511.2" stroke="#a0a0a0" stroke-width="1"/>
<text x="257" y="513.8" text-anchor="end" font-family="'Liberation Sans', Arial, sans-serif" font-size="10.2" fill="#222">0</text>
<line x1="259.3" y1="482.7" x2="262.3" y2="482.7" stroke="#a0a0a0" stroke-width="1"/>
<text x="258.9" y="486.3" text-anchor="end" font-family="'Liberation Sans', Arial, sans-serif" font-size="10.2" fill="#222">20</text>
<line x1="259.3" y1="454.2" x2="262.3" y2="454.2" stroke="#a0a0a0" stroke-width="1"/>
<text x="258.9" y="457.8" text-anchor="end" font-family="'Liberation Sans', Arial, sans-serif" font-size="10.2" fill="#222">40</text>
<line x1="259.3" y1="425.7" x2="262.3" y2="425.7" stroke="#a0a0a0" stroke-width="1"/>
<text x="258.9" y="429.3" text-anchor="end" font-family="'Liberation Sans', Arial, sans-serif" font-size="10.2" fill="#222">60</text>
<line x1="259.3" y1="397.2" x2="262.3" y2="397.2" stroke="#a0a0a0" stroke-width="1"/>
<text x="258.9" y="400.8" text-anchor="end" font-family="'Liberation Sans', Arial, sans-serif" font-size="10.2" fill="#222">80</text>
<line x1="301.8" y1="511.2" x2="301.8" y2="514.2" stroke="#a0a0a0" stroke-width="1"/>
<line x1="341.3" y1="511.2" x2="341.3" y2="514.2" stroke="#a0a0a0" stroke-width="1"/>
<line x1="380.5" y1="511.2" x2="380.5" y2="514.2" stroke="#a0a0a0" stroke-width="1"/>
<line x1="420" y1="511.2" x2="420" y2="514.2" stroke="#a0a0a0" stroke-width="1"/>
<rect x="274.55" y="467.2" width="15.5" height="44.0" fill="#2481bf"/>
<path d="M282.3,468.2 V463.6 M280.3,463.6 H284.3 M280.3,468.2 H284.3" stroke="#1a1a1a" stroke-width="0.8" fill="none"/>
<rect x="313.75" y="442.1" width="15.5" height="69.1" fill="#2481bf"/>
<path d="M321.5,443.1 V439.2 M319.5,439.2 H323.5 M319.5,443.1 H323.5" stroke="#1a1a1a" stroke-width="0.8" fill="none"/>
<text x="321.5" y="440.4" text-anchor="middle" font-family="'Liberation Sans', Arial, sans-serif" font-size="9" fill="#000" stroke="#000" stroke-width="0.25">*</text>
<rect x="353.05" y="425.1" width="15.5" height="86.1" fill="#2481bf"/>
<path d="M360.8,426.1 V421.6 M358.8,421.6 H362.8 M358.8,426.1 H362.8" stroke="#1a1a1a" stroke-width="0.8" fill="none"/>
<text x="360.8" y="422.8" text-anchor="middle" font-family="'Liberation Sans', Arial, sans-serif" font-size="9" fill="#000" stroke="#000" stroke-width="0.25">*</text>
<rect x="392.25" y="418.1" width="15.5" height="93.1" fill="#2481bf"/>
<path d="M400,419.1 V413.4 M398,413.4 H402 M398,419.1 H402" stroke="#1a1a1a" stroke-width="0.8" fill="none"/>
<text x="400" y="414.6" text-anchor="middle" font-family="'Liberation Sans', Arial, sans-serif" font-size="9" fill="#000" stroke="#000" stroke-width="0.25">*</text>
<text x="282.4" y="524.4" text-anchor="middle" font-family="'Liberation Sans', Arial, sans-serif" font-size="10.3" fill="#222">0</text>
<text x="322.2" y="524.4" text-anchor="middle" font-family="'Liberation Sans', Arial, sans-serif" font-size="10.3" fill="#222">25</text>
<text x="361.6" y="524.4" text-anchor="middle" font-family="'Liberation Sans', Arial, sans-serif" font-size="10.3" fill="#222">50</text>
<text x="400.2" y="524.4" text-anchor="middle" font-family="'Liberation Sans', Arial, sans-serif" font-size="10.3" fill="#222">100</text>
<text x="411" y="522.3" font-family="'Liberation Sans', Arial, sans-serif" font-size="9.9" fill="#222">(ng/ml)</text>
<text x="272.5" y="540.2" font-family="'Liberation Sans', Arial, sans-serif" font-size="10.4" fill="#222">SHED:matrigel SEMA4D (day7)</text>
<text transform="translate(241.6,454.5) rotate(-90)" text-anchor="middle" font-family="'Liberation Sans', Arial, sans-serif" font-size="9.05" fill="#222">Sprouts/ HP field(#)</text>
</svg>
</body></html>
